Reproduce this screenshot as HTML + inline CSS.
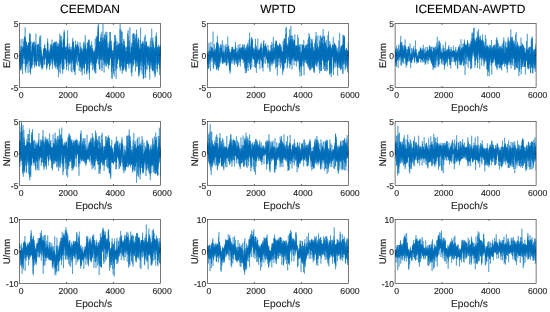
<!DOCTYPE html>
<html><head><meta charset="utf-8"><title>figure</title>
<style>html,body{margin:0;padding:0;background:#fff}body{width:550px;height:312px;overflow:hidden}svg{display:block;font-family:"Liberation Sans",sans-serif}text{stroke:#262626;stroke-width:0.12px;text-rendering:geometricPrecision}</style>
</head><body>
<svg width="550" height="312" viewBox="0 0 550 312">
<rect width="550" height="312" fill="#fff"/>
<svg x="19.5" y="23.5" width="141.0" height="63.9" overflow="hidden"><path transform="scale(0.035259,0.04)" d="M0 724l1 13 1 213 1-133 1 216 1-78 1-8 1-75 1 89 1-59 1-46 1 73 1 71 1-67 1-235 1 257 1-294 1 454 1-38 1-135 1-96 1 296 1-293 1 92 1 74 1 138 1-358 1 149 1-52 1 82 1-230 1 247 1 23 1-56 1-224 1 278 1-155 1 287 1-35 1-114 1 189 1-308 1 105 1-111 1-478 1 667 1-485 1 343 1-350 1 245 1 75 1 151 1-3 1 46 1-31 1-122 1-56 1-45 1 8 1 114 1-299 1 308 1-132 1 162 1-179 1 127 1 15 1-124 1 171 1 123 1-113 1-205 1-76 1 151 1-297 1 353 1-49 1 84 1-287 1 155 1-35 1 21 1 184 1-184 1 47 1-82 1 202 1-325 1 606 1-468 1-150 1 338 1-349 1 56 1-87 1 162 1-101 1 23 1 15 1 10 1-340 1 265 1 73 1 168 1-253 1 107 1-77 1-38 1 42 1-11 1 129 1-197 1 153 1-85 1 85 1 64 1-92 1 17 1-175 1 213 1-326 1 112 1 166 1-101 1 215 1-226 1 69 1-95 1 430 1-256 1-28 1-109 1 226 1-207 1 172 1-96 1-33 1 70 1 121 1-125 1-89 1-63 1 16 1 49 1-65 1-277 1 294 1 149 1-189 1 316 1-256 1-189 1 405 1-299 1 349 1-548 1 412 1-399 1 432 1-219 1-479 1 210 1 411 1 172 1 281 1-829 1 458 1-421 1 378 1 45 1 1 1 80 1-200 1 79 1 255 1-278 1 115 1-263 1 640 1-460 1-14 1-230 1 542 1-527 1 462 1-266 1 13 1-1 1-44 1 47 1 15 1-308 1 237 1-218 1 194 1 37 1 272 1-246 1 16 1-148 1-145 1 294 1 77 1-58 1-11 1-102 1 116 1-59 1 380 1-407 1-28 1-68 1 18 1 42 1 149 1 58 1-240 1-2 1 74 1-47 1 368 1-171 1-190 1-23 1 160 1-26 1-21 1-203 1 188 1 13 1-27 1 29 1-188 1 231 1 34 1-148 1 329 1-280 1 40 1-3 1 60 1-43 1-6 1-14 1 482 1-505 1 198 1-203 1 224 1-80 1-375 1 150 1-22 1 35 1 231 1-216 1-191 1 225 1-115 1 131 1 54 1 9 1 64 1-91 1 98 1-45 1-344 1 242 1 6 1 67 1 2 1-14 1-208 1 295 1-321 1 411 1-42 1-132 1 6 1 22 1 17 1 21 1-331 1 272 1-507 1 508 1-391 1 538 1-325 1 327 1-422 1 179 1-450 1 546 1 103 1 1 1-45 1-187 1 403 1-278 1 435 1-484 1-93 1-45 1-130 1 318 1-521 1 346 1 289 1-209 1 546 1-455 1 335 1-412 1 570 1-549 1-55 1 138 1-27 1-110 1 452 1-394 1 123 1-5 1-43 1-63 1-294 1 351 1 67 1-10 1 237 1-169 1-25 1-65 1 85 1-87 1 66 1-76 1 215 1-178 1 223 1-293 1 68 1-44 1 75 1 9 1-94 1-18 1 51 1-108 1 411 1-339 1 275 1-186 1-131 1-43 1 22 1-67 1 366 1-409 1-63 1 263 1-227 1 79 1 260 1-248 1 25 1-21 1-169 1 252 1-74 1-145 1 1 1-68 1 230 1-30 1-25 1 114 1 256 1-198 1-221 1 213 1-268 1 80 1-27 1-53 1 91 1 159 1-307 1-42 1 108 1-97 1 136 1-76 1 181 1-83 1 43 1 15 1-219 1 264 1-66 1 50 1-27 1 90 1-117 1-67 1-41 1 253 1 35 1-93 1-127 1 172 1 11 1 145 1-15 1 3 1-184 1-19 1 12 1 251 1 46 1-311 1 151 1-45 1-390 1 467 1-52 1 119 1-105 1-3 1 231 1-286 1-214 1 253 1 81 1-31 1-351 1 248 1-177 1 219 1 79 1-17 1-43 1 84 1-64 1 38 1-34 1-38 1-177 1 204 1-16 1-45 1-263 1 254 1-274 1 396 1-90 1-102 1-240 1 265 1 76 1-114 1-39 1 154 1 191 1-254 1-525 1 551 1-276 1 340 1 42 1-136 1 138 1-96 1-18 1 249 1-170 1 0 1 39 1 153 1-164 1 66 1-70 1 163 1-102 1-56 1-7 1-21 1-15 1 28 1 78 1-10 1-121 1 90 1-114 1 140 1-143 1-92 1 59 1 68 1 108 1-106 1-104 1 63 1-84 1 108 1-204 1 106 1-181 1 233 1-92 1-44 1-25 1 91 1-53 1 37 1-44 1 10 1 33 1-28 1 24 1-129 1-41 1 141 1-127 1 12 1 101 1-36 1-110 1 129 1 242 1-140 1 12 1-125 1-114 1 157 1 44 1-37 1-10 1 122 1 14 1-12 1 19 1 57 1-57 1 126 1-188 1 99 1-9 1-39 1 32 1-15 1 236 1-166 1 191 1-303 1 308 1-289 1 9 1-30 1 180 1-94 1-99 1-20 1 81 1-95 1 111 1-81 1-199 1 149 1 33 1-77 1 39 1-35 1 64 1-70 1-282 1 246 1-302 1 530 1-55 1-94 1 49 1-110 1 101 1-110 1 61 1 162 1-23 1-85 1-85 1 170 1-180 1 211 1 4 1-212 1 180 1 147 1-60 1-158 1-136 1 293 1-621 1 429 1-145 1 183 1 55 1-89 1 70 1 248 1-157 1 125 1-15 1-113 1-1 1-116 1 160 1-160 1 337 1-5 1-247 1-28 1 141 1-100 1-20 1 5 1-179 1 201 1 163 1-129 1 98 1-87 1 73 1 61 1-97 1-25 1 53 1 96 1 76 1-181 1 119 1-76 1-105 1 74 1-82 1 87 1 20 1 15 1-178 1 217 1-152 1 71 1 14 1 60 1-150 1-67 1 278 1-182 1 11 1 56 1 104 1-296 1 240 1-115 1 10 1-26 1-36 1-63 1 15 1 78 1-7 1-17 1-152 1 175 1-162 1 130 1-46 1 5 1-7 1-92 1-116 1 197 1-115 1 119 1-50 1 22 1-87 1 42 1-118 1 127 1-53 1-84 1 99 1-52 1 39 1 32 1-25 1 4 1-36 1 33 1 118 1-152 1 91 1-149 1 389 1-329 1 339 1-390 1 99 1-87 1 87 1-53 1 96 1-254 1 129 1-133 1 162 1-49 1 78 1-90 1 252 1-130 1-112 1 35 1 229 1-216 1 171 1-147 1-54 1-39 1 84 1-68 1 97 1 87 1-43 1-120 1 88 1-52 1 21 1 23 1 74 1-127 1 166 1-230 1 64 1 160 1-90 1 127 1-137 1-74 1 119 1-84 1-22 1 104 1 47 1-164 1 122 1 40 1-10 1-88 1 288 1-133 1-59 1-5 1 214 1-80 1 80 1-198 1 191 1-90 1 218 1-251 1 47 1 159 1-316 1 170 1-200 1 333 1-154 1-120 1-35 1 254 1-308 1 195 1 109 1-23 1-177 1 115 1-183 1-84 1 164 1-228 1-165 1 207 1 82 1 8 1-255 1 216 1-339 1 343 1-133 1 50 1 66 1-61 1-152 1 133 1 124 1 206 1-175 1 203 1-3 1-249 1 62 1-61 1 148 1-195 1 130 1 90 1-101 1 162 1-163 1-99 1 174 1-164 1 54 1 85 1 162 1-47 1-132 1 122 1-123 1 80 1 14 1 21 1 43 1-33 1-271 1 158 1-32 1 10 1 71 1 91 1 34 1-202 1 75 1-27 1-114 1 215 1-66 1-1 1 177 1-282 1 366 1-238 1 72 1-72 1 145 1-210 1-62 1 89 1-43 1-20 1-83 1 109 1-200 1 213 1-26 1 49 1-119 1 130 1-28 1-10 1 210 1-291 1-226 1 338 1-38 1 20 1 8 1-44 1-36 1 61 1-93 1 111 1-200 1 204 1-368 1 367 1-55 1-59 1 110 1-11 1 100 1-143 1-194 1 186 1 192 1-127 1-1 1-81 1-50 1 133 1-23 1-125 1-140 1 167 1-159 1 253 1-20 1-142 1 12 1 136 1-317 1 295 1-104 1 95 1-160 1 147 1-148 1 113 1-48 1 50 1-355 1 225 1-30 1 152 1-197 1 202 1-74 1-36 1 277 1-135 1 202 1-228 1 378 1-408 1 171 1-101 1 106 1-80 1-52 1 168 1-250 1 57 1 51 1-58 1 47 1 240 1-300 1 195 1-174 1 139 1-17 1-208 1 43 1 118 1-230 1-58 1 91 1-83 1 174 1 61 1-75 1-66 1 137 1-174 1 45 1 72 1-78 1-150 1 50 1 305 1-26 1-8 1 90 1-428 1 381 1-156 1 15 1-111 1 285 1-396 1 254 1 27 1-31 1 208 1-139 1-131 1 98 1-13 1 12 1 26 1-95 1-145 1 31 1 369 1-512 1 613 1-267 1 12 1 31 1 177 1-249 1-59 1 132 1-76 1-73 1 195 1-180 1 64 1-270 1 503 1-538 1 521 1-133 1-78 1 110 1 74 1 162 1-377 1 120 1 195 1-568 1 361 1-88 1 229 1-126 1 115 1-305 1 157 1-376 1 434 1-7 1 87 1-45 1-93 1 36 1 119 1-468 1 338 1-135 1 159 1-124 1 70 1-394 1 404 1-58 1 155 1-346 1 261 1 16 1-15 1-164 1 207 1-162 1 107 1-256 1 225 1 125 1-30 1 172 1-160 1-80 1 43 1-320 1 305 1-304 1 262 1 68 1-60 1 296 1-397 1 421 1-427 1 244 1-98 1 192 1-264 1-12 1 78 1 9 1-47 1-15 1 29 1 161 1-253 1 25 1-211 1 162 1-243 1 120 1 174 1 154 1-410 1-23 1 193 1 65 1-35 1 67 1-36 1-170 1 10 1 339 1-91 1 503 1-547 1 99 1-247 1 131 1-136 1 178 1-70 1 314 1-273 1 165 1-268 1 42 1 161 1-356 1 336 1 96 1-80 1 328 1-317 1-236 1 96 1 226 1-335 1 441 1-297 1-8 1-192 1 32 1 55 1-86 1 172 1-213 1 380 1-272 1 220 1-182 1 158 1-607 1 604 1-373 1 419 1-489 1 446 1-54 1 234 1-377 1 274 1 5 1-10 1-228 1 295 1 260 1-181 1-68 1-42 1-34 1 75 1-232 1 203 1-670 1 707 1-474 1 436 1-106 1 29 1-89 1 200 1-231 1 187 1-180 1-14 1 122 1 17 1 14 1-18 1-31 1-144 1-302 1 259 1-90 1 183 1-338 1 401 1-222 1 32 1-168 1 185 1-83 1 294 1-206 1-37 1-329 1 358 1 94 1-180 1 160 1 36 1 86 1-63 1-191 1 299 1-207 1 21 1 383 1-149 1-257 1-2 1 196 1 98 1-373 1 228 1 275 1-343 1 59 1 133 1-323 1 43 1 459 1-349 1 451 1-464 1 25 1-151 1 167 1 82 1 224 1-540 1 201 1-180 1 350 1 59 1 128 1-436 1-241 1 38 1 297 1-265 1-140 1 249 1 115 1-17 1 331 1-90 1-338 1 76 1-84 1 172 1-417 1 509 1-548 1 293 1 377 1-147 1-164 1-63 1 478 1-554 1 76 1-36 1-160 1 187 1-435 1 494 1-547 1 520 1-265 1 448 1-646 1 447 1-185 1 139 1-48 1 175 1-228 1 84 1 100 1-62 1-61 1 59 1 27 1 162 1-13 1-1 1-62 1 83 1-73 1 16 1 122 1-156 1-3 1 7 1-55 1 188 1-14 1-259 1 274 1-218 1 209 1-3 1-93 1-17 1 35 1-128 1 25 1-90 1 51 1-65 1 61 1 30 1 10 1 101 1 103 1-93 1-118 1 138 1 185 1-280 1-162 1 211 1 99 1-97 1 176 1-117 1-112 1 42 1-7 1-66 1 470 1-360 1 10 1-3 1 112 1-160 1 295 1-247 1 269 1-396 1 309 1-183 1-118 1 12 1 84 1-99 1 26 1 14 1 49 1-51 1-122 1 134 1-214 1 196 1-125 1 80 1 17 1-59 1-268 1 265 1-144 1 267 1-586 1 622 1-120 1 109 1-86 1-94 1 341 1-185 1 50 1-85 1-99 1 203 1-238 1 147 1-79 1 109 1-33 1 70 1 115 1-76 1-30 1-124 1 280 1-274 1 484 1-318 1-24 1-83 1 197 1 31 1-265 1 129 1 5 1-165 1 98 1-43 1 228 1-260 1 219 1-253 1 125 1 201 1-109 1-67 1-327 1 355 1-106 1 245 1-80 1-231 1 243 1-275 1 386 1-324 1 278 1-282 1 207 1-225 1 149 1-184 1 189 1-45 1 50 1-134 1 58 1-18 1-181 1 90 1 47 1-72 1 144 1-28 1 96 1-199 1 57 1 41 1-5 1-93 1 260 1-167 1-8 1 2 1 134 1-157 1 104 1 27 1 74 1-89 1-24 1 73 1 127 1-286 1 9 1 77 1 171 1-250 1 25 1 97 1-83 1 15 1 421 1-423 1 52 1-165 1 3 1 158 1-239 1 93 1 81 1 52 1-68 1-52 1 75 1 39 1-104 1 37 1 249 1-228 1 31 1-2 1 11 1 16 1-44 1-54 1 504 1-485 1 213 1-179 1-37 1 95 1-193 1 193 1-71 1 53 1-83 1-47 1-10 1 125 1-85 1 27 1 183 1-113 1-58 1 37 1-117 1 138 1-449 1 531 1-360 1 347 1-393 1 166 1-190 1 386 1-413 1 297 1-88 1 189 1-296 1 400 1 78 1-268 1-277 1 279 1 115 1 61 1-213 1 66 1 230 1-148 1-84 1 18 1 346 1-330 1 361 1-328 1 164 1-241 1 239 1-179 1-176 1 63 1-74 1 248 1-169 1 218 1-282 1 131 1 176 1-77 1 281 1-393 1 443 1-329 1 205 1-352 1 439 1-316 1 353 1-310 1-17 1-141 1-152 1 326 1-147 1 191 1 194 1-263 1 34 1-18 1-249 1 262 1 157 1-165 1 373 1-361 1-242 1 171 1-60 1 60 1 22 1-269 1-177 1 408 1-97 1-49 1 58 1-46 1-154 1 162 1-82 1 149 1-208 1 104 1 112 1-28 1 258 1-493 1 267 1-7 1 181 1-163 1-36 1-211 1 408 1-137 1-8 1-63 1 57 1-232 1 92 1 159 1-174 1 223 1-118 1 64 1-70 1 93 1 0 1-37 1-35 1 4 1-177 1 192 1-28 1-50 1-198 1 226 1-146 1 157 1 11 1-107 1 88 1-60 1 17 1-88 1 114 1-123 1 116 1-152 1 479 1-465 1-9 1 91 1-67 1 117 1-208 1 105 1-164 1 144 1 193 1-231 1 79 1-108 1 127 1 29 1-42 1-47 1 80 1-42 1-6 1-11 1 29 1 67 1 77 1-56 1 197 1-290 1-56 1 220 1 141 1-226 1 34 1 8 1-95 1 114 1-54 1 137 1 41 1-121 1-149 1 183 1-79 1 156 1-124 1 62 1-83 1 220 1-188 1 100 1 303 1-305 1-41 1 18 1-11 1 59 1-131 1 104 1-9 1-37 1-21 1 11 1 30 1 0 1 1 1-27 1 62 1-35 1 218 1-311 1 287 1-257 1 234 1-385 1-176 1 156 1 69 1 30 1 142 1-234 1 23 1 180 1-107 1 49 1 160 1-309 1 140 1-36 1 193 1 171 1-230 1 236 1-431 1-97 1 150 1-17 1 224 1-170 1 460 1-278 1-114 1-54 1 41 1-23 1 44 1-175 1 144 1 167 1-232 1-76 1 82 1 46 1-103 1 61 1 19 1 184 1-73 1-9 1-99 1 53 1-215 1 208 1 275 1-254 1-17 1-26 1 343 1-160 1 171 1-335 1 266 1-341 1 445 1-360 1 476 1-488 1 25 1 135 1-158 1-48 1-28 1 142 1-163 1 179 1-184 1 198 1-135 1-45 1 11 1-10 1-4 1 33 1-8 1 131 1-148 1 10 1-98 1 33 1 130 1-62 1-104 1 289 1 96 1-351 1 44 1 129 1-357 1 408 1-111 1-45 1 17 1-66 1 33 1-26 1 29 1 299 1-104 1-166 1 44 1-105 1 419 1-489 1 179 1 26 1-382 1 320 1 89 1-227 1 462 1-270 1 167 1-255 1 267 1 125 1-280 1 221 1-182 1-133 1 126 1 382 1-613 1-28 1-3 1 321 1-398 1 274 1 123 1 104 1-118 1-109 1 117 1-86 1 163 1-48 1-219 1-57 1-7 1 270 1-298 1 298 1-659 1 653 1-14 1-131 1 105 1-55 1-346 1 506 1-409 1 193 1-20 1 186 1 1 1-203 1 121 1-166 1 110 1 12 1-234 1 312 1-74 1-84 1-121 1 129 1 4 1 60 1-128 1 164 1-1 1-140 1 62 1 60 1-5 1-158 1 73 1 46 1-25 1 458 1-350 1 85 1-173 1 41 1 41 1 59 1-103 1 343 1-435 1 536 1-397 1-151 1 472 1-468 1 123 1-166 1-54 1 57 1-2 1 183 1-403 1 478 1-128 1-163 1-21 1 419 1-303 1-109 1-149 1 263 1 40 1 312 1-301 1-39 1-73 1 314 1 139 1-444 1 170 1-95 1-64 1 21 1-101 1 201 1-215 1 55 1-88 1 108 1 129 1 14 1-422 1 355 1-13 1-65 1 186 1 145 1-104 1-237 1 63 1-210 1 200 1-228 1-13 1 277 1-185 1-174 1 265 1-230 1 217 1-190 1-80 1 414 1-171 1 88 1-13 1-67 1 607 1-541 1 455 1-450 1 497 1-574 1 758 1-489 1-91 1 208 1-216 1 9 1 55 1-14 1 131 1-91 1-121 1-176 1 36 1-9 1 118 1 204 1-284 1 49 1 113 1-20 1-138 1-142 1 105 1 101 1-163 1 313 1-195 1-118 1 101 1 65 1-45 1 101 1-82 1 109 1-191 1 7 1 119 1-107 1 164 1-136 1 228 1-183 1 83 1 10 1 170 1-236 1 298 1-232 1 152 1-141 1-92 1 192 1-220 1-84 1 86 1-38 1 38 1 81 1-135 1-6 1 192 1-88 1-304 1 243 1-39 1 20 1-51 1 77 1 17 1 52 1-152 1 46 1 126 1-253 1 234 1-6 1 31 1-79 1 97 1-138 1 54 1-97 1 66 1 150 1-84 1 79 1-13 1 1 1 45 1-4 1 304 1-372 1 125 1-120 1 84 1-100 1 153 1 48 1 54 1-264 1 113 1-24 1 18 1 29 1-83 1 133 1 33 1-129 1 114 1-149 1 79 1 11 1-95 1 174 1-256 1 72 1 54 1-92 1 70 1-23 1-75 1 216 1-284 1 130 1 8 1 303 1-314 1 89 1-135 1 140 1-210 1 47 1-99 1 252 1 102 1-245 1-57 1 36 1 169 1 246 1-320 1-114 1 108 1-71 1 65 1 7 1 102 1-123 1 61 1 188 1-44 1 67 1-153 1 49 1 231 1-328 1 213 1 9 1-217 1 297 1-353 1 32 1-50 1 233 1-662 1 862 1-384 1-19 1 109 1-105 1 24 1 239 1-518 1 351 1-268 1 216 1-53 1 104 1-45 1-26 1-78 1 66 1 393 1-344 1 96 1-68 1-171 1 110 1 46 1-122 1 75 1-200 1 23 1-51 1-323 1 335 1 141 1-176 1 378 1-224 1-435 1 465 1-222 1 58 1-105 1 64 1-4 1 93 1 287 1-87 1-53 1-91 1 153 1-132 1-72 1-70 1-167 1 270 1-69 1-16 1 6 1 127 1-288 1 413 1-548 1 502 1-206 1 244 1-317 1-211 1 400 1-41 1-19 1-129 1 102 1-207 1 1 1 203 1-388 1 353 1-116 1 314 1-782 1 609 1-86 1-358 1 171 1 414 1-366 1-327 1 423 1 105 1-127 1 160 1-232 1 133 1 19 1-369 1-214 1 552 1 110 1 73 1 275 1-558 1 167 1-162 1-8 1 51 1 137 1 32 1 50 1 37 1-326 1 363 1 95 1-71 1-134 1-174 1-51 1 162 1 471 1-400 1 40 1-17 1-265 1 162 1 169 1-232 1 322 1-57 1-67 1-175 1 561 1-457 1 476 1-331 1-133 1 137 1-87 1 73 1-141 1 168 1-183 1 62 1-12 1-52 1-70 1 276 1-202 1 149 1-87 1 60 1 102 1-153 1 185 1-215 1 120 1-148 1-132 1 136 1-205 1 357 1-469 1 409 1-430 1 318 1-395 1 616 1-197 1 160 1-172 1 161 1-216 1 239 1-101 1 48 1-245 1 85 1-40 1 191 1-56 1-90 1-112 1 137 1 9 1 226 1-403 1 74 1-118 1 360 1-617 1 458 1-39 1-27 1 595 1-492 1 414 1-479 1-266 1 328 1-108 1-1 1 320 1-168 1-160 1 99 1 13 1 140 1-409 1 208 1-171 1 71 1 121 1-29 1 4 1-157 1 331 1-211 1 145 1-203 1 34 1-85 1 1 1-31 1-443 1 667 1-121 1 103 1-314 1 119 1 131 1-95 1-8 1 135 1-127 1 121 1 277 1-176 1-87 1-33 1 78 1 17 1 238 1-258 1-272 1 368 1 43 1-56 1 283 1-484 1 244 1-126 1-197 1 312 1-45 1-56 1 537 1-472 1 148 1-167 1-317 1 207 1-275 1 272 1 165 1-215 1 55 1-6 1 1 1 329 1-653 1 320 1-206 1 325 1-480 1 555 1-301 1 270 1-379 1 604 1-553 1 479 1 23 1-281 1 232 1 76 1-273 1 144 1-142 1 327 1-192 1-159 1 120 1-183 1-4 1 265 1-248 1 120 1 76 1-182 1 111 1-122 1-238 1 176 1-373 1 675 1-348 1 176 1-332 1 375 1-137 1 286 1 186 1-599 1-53 1 142 1 3 1 188 1-302 1 117 1-280 1 388 1 365 1-253 1-311 1-199 1 298 1 248 1-172 1 60 1-19 1-206 1 197 1-44 1 105 1 183 1-731 1 581 1-7 1-331 1 296 1 201 1-33 1 21 1-113 1 131 1-108 1-206 1 203 1 94 1-366 1 193 1 100 1 150 1-109 1-209 1 194 1-183 1-11 1 98 1 34 1-135 1-33 1 168 1 141 1-141 1 137 1-316 1 113 1-76 1-10 1-50 1 375 1-151 1 135 1-115 1 266 1-296 1 176 1-347 1 45 1 333 1-358 1 163 1-125 1 173 1-69 1-161 1 15 1-86 1 451 1-427 1 137 1-30 1-236 1 201 1-49 1 16 1-45 1 327 1-265 1 12 1-245 1 513 1-112 1 75 1-102 1-233 1 197 1-100 1 352 1-163 1-194 1-117 1 180 1-150 1-382 1 368 1 102 1-132 1 212 1-154 1 142 1 85 1-201 1 27 1-29 1 169 1-116 1-57 1 182 1 5 1-176 1-39 1-140 1 430 1-680 1 580 1-11 1-36 1 80 1-95 1-237 1 181 1-247 1 246 1 37 1 13 1-80 1 52 1 84 1 9 1 28 1 69 1-82 1 51 1-243 1 162 1-340 1 268 1-154 1 273 1 399 1-298 1-123 1-38 1 148 1-232 1 292 1-42 1-189 1 177 1-238 1 99 1-22 1 156 1 91 1-325 1 681 1-479 1 262 1-238 1 491 1-435 1-4 1-67 1-85 1 59 1-187 1 270 1-239 1 272 1-67 1-50 1-110 1 129 1-59 1 93 1-122 1 63 1-116 1 320 1-72 1 28 1-102 1 19 1-115 1 270 1-185 1 168 1-260 1 95 1-153 1 215 1-302 1 355 1-129 1 46 1 23 1 27 1 98 1 115 1-46 1-62 1-136 1-59 1 364 1-448 1 189 1-223 1 126 1-120 1 101 1-71 1 45 1-100 1-286 1 238 1 97 1-29 1 289 1-451 1 253 1-196 1 650 1-631 1 30 1 192 1-231 1 3 1 151 1-545 1 353 1 27 1-69 1 128 1 77 1-75 1-60 1-35 1-181 1 45 1 254 1-95 1 92 1-82 1-86 1 167 1-213 1 188 1-172 1-46 1 105 1-161 1 185 1-146 1 149 1-352 1 600 1-434 1 219 1-30 1 543 1-540 1 44 1 61 1-113 1-57 1 35 1-22 1-227 1 364 1-92 1-69 1 115 1 71 1-46 1 76 1 598 1-843 1 193 1-57 1 152 1-83 1 29 1 36 1 161 1-161 1 259 1-145 1-247 1 211 1-184 1 228 1 191 1-272 1 275 1-474 1 178 1 44 1-229 1 136 1-176 1 108 1-48 1 6 1-231 1 296 1-28 1 14 1-48 1 338 1-473 1 187 1 74 1 170 1-141 1 53 1 75 1-127 1 30 1-92 1-32 1 121 1-108 1 129 1-345 1 351 1-160 1-42 1-8 1 82 1 75 1-169 1-51 1 262 1-334 1 263 1-136 1 74 1-34 1-9 1 89 1-34 1 55 1-76 1-29 1 63 1 147 1-193 1 84 1-219 1-85 1 148 1 124 1-12 1 32 1-31 1 61 1-324 1 154 1 141 1-303 1 302 1-257 1 109 1-86 1-15 1 267 1-41 1 117 1-127 1 82 1-177 1 282 1-74 1-32 1-59 1 29 1-129 1 397 1-193 1 221 1-452 1 236 1-133 1-43 1 7 1-580 1 746 1-879 1 759 1-99 1 198 1 322 1-283 1-17 1-54 1-68 1-59 1 421 1-515 1 317 1-313 1 303 1 41 1-452 1 226 1 86 1 147 1-73 1-240 1-223 1 252 1 111 1 140 1-778 1 574 1 12 1 27 1 133 1-255 1 420 1-277 1 28 1 122 1-473 1 449 1 15 1-298 1 273 1-164 1 21 1 8 1-569 1 438 1-79 1 490 1-196 1-162 1-49 1 110 1 146 1-152 1 117 1 6 1-660 1 516 1 28 1 502 1-435 1-42 1 306 1-399 1 52 1-35 1-215 1 223 1 20 1-91 1 70 1 468 1-351 1 308 1-311 1-191 1 327 1-169 1-93 1 484 1-264 1-212 1 364 1-170 1-263 1 66 1-2 1-155 1 403 1-394 1 120 1 442 1-432 1 313 1 156 1-543 1 88 1 106 1-127 1-61 1 82 1 72 1-209 1-34 1 320 1-465 1 711 1-656 1 711 1-391 1-2 1 72 1-113 1-281 1 532 1-87 1-30 1-33 1-60 1-91 1 217 1-290 1 156 1-217 1 360 1-312 1 258 1 44 1-249 1 154 1 189 1-71 1-223 1 174 1 230 1-188 1-1 1-170 1 121 1 16 1-298 1 242 1 24 1-13 1 14 1-55 1 130 1-16 1-186 1-103 1 328 1-136 1 85 1-12 1-18 1 34 1-15 1 68 1 203 1-246 1 260 1-208 1-259 1 133 1-51 1 220 1 188 1-214 1 44 1-171 1 378 1-250 1-270 1 289 1 42 1-1 1-335 1 281 1-20 1 34 1-48 1-147 1 4 1 187 1-385 1 347 1-53 1 73 1-184 1 151 1-61 1 17 1-177 1 149 1-52 1 99 1-207 1 197 1 96 1-291 1 64 1-50 1 28 1-186 1 129 1 79 1-193 1 127 1 60 1-128 1-388 1 371 1 403 1-431 1 368 1-249 1 306 1-290 1 20 1 3 1 36 1 54 1-87 1-49 1-253 1 266 1 283 1-331 1-497 1 753 1-610 1 601 1-53 1 96 1-178 1 197 1-196 1 237 1-170 1-143 1 349 1-111 1-44 1 73 1-107 1 17 1 43 1-35 1-119 1-202 1 328 1-30 1 266 1-240 1-24 1-57 1 66 1-46 1 4 1 106 1-52 1-215 1 182 1-430 1 448 1-285 1 267 1 7 1 67 1-51 1-130 1 169 1 30 1 16 1-28 1-165 1 215 1-73 1-815 1 769 1 151 1-178 1 45 1-7 1 18 1 96 1-189 1-76 1 191 1-81 1 80 1 42 1-225 1 40 1 41 1 49 1-14 1-53 1-3 1 113 1-140 1 61 1 85 1-88 1-227 1 370 1-168 1 75 1 18 1 51 1 84 1-137 1-2 1 88 1 262 1-238 1-132 1-40 1-343 1 296 1 65 1-6 1-219 1 269 1-331 1 553 1-333 1 311 1-127 1-92 1 456 1-339 1 45 1-284 1-23 1 31 1 52 1-64 1 461 1-420 1-154 1 322 1-237 1 72 1-19 1-39 1 162 1 27 1-4 1-130 1-515 1 680 1-81 1-250 1 165 1-30 1-274 1 261 1-54 1 136 1-44 1-96 1-14 1 104 1-100 1 180 1 156 1-380 1 118 1 205 1 72 1-409 1-14 1-13 1 273 1-72 1 286 1-10 1-514 1 447 1-579 1 286 1-130 1 211 1-542 1 102 1 5 1-81 1 142 1 369 1-311 1-223 1 213 1 309 1-117 1-206 1 175 1 47 1-30 1-221 1-39 1-52 1 324 1 134 1-195 1 256 1-93 1-208 1-86 1 233 1 221 1-163 1 133 1-227 1 17 1-36 1 30 1-149 1 240 1 162 1-153 1-292 1-73 1 373 1 40 1-92 1 303 1-553 1-193 1 556 1 124 1-19 1-337 1-38 1 71 1 24 1 539 1-553 1-30 1-243 1 35 1 194 1 283 1-63 1 164 1-380 1 11 1 251 1-101 1-145 1 150 1-6 1 83 1-69 1-86 1 189 1-42 1-30 1 133 1-269 1-196 1 356 1-140 1 136 1-510 1 437 1-601 1 475 1-86 1 255 1-543 1 693 1-123 1-213 1 475 1-391 1 141 1 85 1 152 1-237 1 27 1-223 1 95 1 186 1-156 1 176 1-82 1-304 1 222 1 115 1-291 1 322 1-403 1 24 1 226 1-175 1 286 1-325 1 117 1-162 1 119 1-33 1 423 1-176 1-91 1 117 1-421 1 387 1 54 1 65 1-557 1 414 1 256 1-401 1 184 1-321 1-10 1 44 1-171 1 183 1-230 1 242 1 738 1-373 1 294 1-511 1-211 1 296 1 85 1-39 1-54 1 89 1 247 1-86 1-453 1 431 1-461 1 233 1-179 1 226 1 312 1-478 1-46 1 273 1 376 1-615 1-31 1 212 1-3 1-198 1 91 1-55 1 346 1-366 1 230 1-121 1 431 1-473 1 111 1-10 1-10 1-48 1 10 1-70 1-322 1 300 1 72 1-87 1 84 1-78 1 225 1-266 1 137 1-53 1-40 1-69 1 354 1-316 1 254 1-85 1-733 1 730 1 2 1-161 1 107 1 71 1 102 1-252 1 228 1-265 1 394 1-251 1 359 1-497 1 284 1-235 1 82 1 35 1-141 1 150 1-323 1 331 1-119 1 24 1 138 1-122 1 91 1-33 1-46 1 81 1-251 1-16 1 15 1 102 1-211 1-6 1 249 1-101 1-93 1 118 1-154 1 302 1 448 1-768 1 78 1 92 1 61 1-14 1-95 1 24 1 309 1-277 1 23 1-80 1-189 1 222 1-59 1 56 1-49 1 208 1 235 1-267 1-60 1 17 1-37 1-15 1 410 1-340 1-38 1-48 1 92 1 175 1-445 1 284 1-292 1 503 1-239 1 155 1 486 1-393 1-214 1 135 1 413 1-443 1-37 1 245 1-433 1 177 1 532 1-413 1 394 1-160 1-322 1 109 1-80 1 243 1-364 1 60 1-396 1 422 1-117 1 70 1-269 1 242 1-32 1 285 1-327 1 320 1-704 1 646 1-212 1-12 1-103 1 284 1-191 1 194 1-315 1 265 1-329 1 177 1-97 1 227 1-43 1-94 1 58 1-16 1-9 1 166 1-38 1 127 1-123 1 25 1-373 1 385 1-378 1 262 1-537 1 753 1 223 1-378 1 9 1-59 1 534 1-496 1 340 1-442 1 371 1-384 1-254 1 272 1 5 1-50 1 420 1-435 1 126 1-49 1-78 1 10 1-32 1 22 1-231 1 314 1-220 1 224 1-122 1-29 1 18 1 2 1-204 1 207 1-224 1 381 1-94 1 116 1-309 1 215 1-96 1 27 1 119 1-124 1 49 1-14 1-46 1 140 1-145 1 155 1 146 1-223 1 79 1-125 1 461 1-455 1 248 1-235 1 284 1-191 1 129 1-358 1 450 1-131 1-109 1-68 1-141 1 214 1 115 1 2 1-142 1-134 1 74 1-107 1 175 1 94 1 32 1-311 1 155 1 121 1-65 1 54 1-263 1 42 1 314 1-241 1 85 1 40 1-95 1 97 1 207 1-219 1-197 1 142 1-4 1-135 1 134 1-64 1-11 1 60 1-198 1 194 1 181 1-222 1-92 1 141 1-154 1 315 1-44 1-25 1 269 1-214 1 159 1-292 1 222 1-192 1 43 1-29 1 297 1-326 1 423 1-225 1 146 1-315 1 596 1-462 1 181 1-361 1 144 1 14 1 40 1-64 1-221 1 213 1 87 1-37 1-58 1-52 1-228 1 220 1-380 1 340 1-44 1 34 1 137 1-180 1 242 1-357 1 337 1-342 1 168 1-174 1 150 1-43 1 32 1 100 1-476 1 531 1-58 1-188 1 405 1-205 1 64 1-28 1 104 1-289 1 196 1-189 1 251 1-370 1 176 1 115 1-30 1-103 1 90 1 21 1-74 1-21 1-92 1-39 1-502 1 693 1 210 1-318 1 224 1-135 1 327 1-250 1 34 1-183 1-61 1-13 1 340 1-294 1 398 1-401 1 468 1-318 1 80 1-7 1 223 1-227 1-58 1 24 1 310 1-243 1-315 1 215 1-431 1 551 1-235 1 91 1 338 1-281 1-535 1 565 1-449 1 342 1-186 1 164 1 258 1-193 1 296 1-223 1-174 1 191 1-72 1-42 1 364 1-337 1-296 1 326 1-284 1 235 1 4 1 120 1-430 1 271 1-108 1 192 1 6 1-5 1-201 1 156 1-68 1 10 1 189 1-191 1-165 1 281 1 88 1-214 1-108 1 141 1 447 1-346 1 163 1-195 1 23 1 16 1-128 1 83 1 6 1 61 1-48 1-31 1-175 1 240 1-304 1 312 1 312 1-335 1 442 1-478 1-49 1 73 1 110 1-130 1-288 1 302 1 412 1-522 1-11 1-17 1 309 1-217 1 185 1-279 1-19 1 118 1-157 1 124 1-503 1 474 1-330 1 295 1 195 1-87 1-267 1 174 1-164 1 56 1 156 1 63 1-18 1-62 1-103 1 21 1 77 1-118 1-60 1 35 1-418 1 574 1-46 1 50 1-475 1 444 1-429 1 380 1 54 1-148 1-81 1 339 1-53 1-268 1 408 1-309 1 461 1-221 1 114 1-47 1-110 1 35 1-4 1 113 1 139 1-207 1 280 1-341 1 30 1 77 1-7 1-14 1-243 1 181 1 17 1-333 1 154 1 145 1 18 1-308 1 245 1-127 1 144 1 78 1-12 1-254 1 131 1 67 1 159 1-111 1 26 1-70 1 32 1-149 1 16 1 116 1-187 1 167 1-16 1 94 1-207 1-176 1-34 1 336 1-94 1-153 1-29 1 75 1 171 1-26 1 177 1-317 1 335 1-88 1-15 1 24 1-2 1-119 1 241 1-218 1-183 1 61 1 153 1 58 1-19 1-266 1 206 1 48 1 118 1-82 1 193 1-483 1 657 1-614 1 166 1 58 1 232 1-357 1 283 1-475 1 173 1-137 1 87 1 74 1-37 1 47 1-132 1-79 1 235 1-267 1 389 1-352 1 94 1-81 1-55 1 66 1 132 1 200" fill="none" stroke="#0072BD" stroke-width="0.45" stroke-linejoin="round" vector-effect="non-scaling-stroke"/></svg>
<rect x="19.5" y="23.5" width="141.0" height="63.9" fill="none" stroke="#262626" stroke-width="0.62"/>
<path d="M66.50,87.4v-1.4M66.50,23.5v1.4M113.50,87.4v-1.4M113.50,23.5v1.4M19.5,55.45h1.4M160.5,55.45h-1.4" stroke="#262626" stroke-width="0.7" fill="none"/>
<text x="21.10" y="98.40" font-size="8.7" text-anchor="middle" fill="#262626">0</text>
<text x="68.10" y="98.40" font-size="8.7" text-anchor="middle" fill="#262626">2000</text>
<text x="115.10" y="98.40" font-size="8.7" text-anchor="middle" fill="#262626">4000</text>
<text x="162.10" y="98.40" font-size="8.7" text-anchor="middle" fill="#262626">6000</text>
<text x="18.40" y="26.55" font-size="8.5" text-anchor="end" fill="#262626">5</text>
<text x="18.40" y="58.70" font-size="8.5" text-anchor="end" fill="#262626">0</text>
<text x="18.40" y="91.15" font-size="8.5" text-anchor="end" fill="#262626">-5</text>
<text x="75.40" y="110.90" font-size="10.2" fill="#262626" style="stroke-width:0.1px">Epoch/s</text>
<text transform="translate(10.30,55.55) rotate(-90)" font-size="9.6" text-anchor="middle" fill="#262626" style="stroke-width:0.2px">E/mm</text>
<text x="90.00" y="13.2" font-size="12" text-anchor="middle" fill="#000" style="stroke:#000;stroke-width:0.1px">CEEMDAN</text>
<svg x="207.4" y="23.5" width="141.0" height="63.9" overflow="hidden"><path transform="scale(0.035259,0.04)" d="M0 753l1 127 1 5 1 60 1-26 1-107 1 18 1 137 1-52 1 117 1-191 1 169 1-98 1-39 1-182 1 220 1-210 1 212 1 207 1-229 1 7 1 203 1-269 1 181 1-45 1-83 1-88 1 119 1-47 1 20 1-100 1 205 1-76 1 17 1-136 1 111 1-89 1 141 1 177 1-165 1 124 1-82 1-22 1-101 1-411 1 246 1-9 1 248 1-259 1 94 1 22 1-43 1 175 1 48 1-14 1-230 1 38 1-54 1 95 1 14 1-186 1 245 1-88 1-105 1 106 1-117 1 166 1 35 1-30 1 64 1-68 1-45 1-118 1 73 1-207 1 300 1 31 1-44 1-100 1 102 1-87 1 128 1 14 1-206 1 129 1-147 1 170 1-80 1 402 1-340 1-144 1 62 1-32 1 17 1-24 1 32 1-23 1 31 1-26 1-132 1-151 1 328 1-39 1-39 1-24 1 197 1-126 1-7 1-29 1 128 1-75 1 24 1-46 1-41 1 64 1-109 1 91 1-32 1-66 1-13 1-56 1 33 1 90 1 117 1-49 1-186 1 104 1 162 1 107 1-351 1 76 1 102 1-34 1-78 1 63 1 28 1-125 1-8 1 162 1-37 1-100 1 227 1-133 1 47 1-119 1 151 1-75 1 13 1-73 1-82 1-10 1 146 1 59 1-79 1 93 1-4 1-50 1 36 1-45 1 30 1-594 1 652 1-84 1-39 1 362 1-276 1-8 1-132 1 185 1-82 1 25 1 29 1-94 1 14 1 175 1-65 1-30 1-88 1 388 1-411 1 37 1 31 1 140 1-120 1-42 1-58 1 12 1 39 1 14 1 71 1-65 1 77 1-111 1-41 1-5 1-54 1 344 1-230 1 15 1 112 1-375 1 398 1-109 1 85 1-111 1 149 1-134 1-55 1 267 1-294 1-13 1 30 1-6 1 41 1 39 1-21 1-86 1 147 1-119 1 139 1 178 1-286 1-32 1 133 1-41 1-45 1 5 1 57 1-36 1 116 1-118 1-64 1-92 1 123 1 28 1 7 1 67 1-56 1-30 1 183 1-185 1-70 1 62 1 22 1 287 1-282 1 54 1 100 1-135 1 52 1-245 1 155 1-171 1 317 1-84 1-111 1-253 1 473 1-233 1-121 1 158 1 193 1-137 1 306 1-299 1 355 1-635 1 594 1-356 1 159 1-149 1-90 1-82 1-129 1 52 1 47 1 314 1 247 1-355 1-94 1 94 1-252 1-28 1 103 1-303 1 771 1-410 1 236 1-209 1 214 1-299 1 439 1-583 1 113 1 214 1-139 1 81 1 127 1-5 1 60 1 163 1-85 1-232 1-243 1 121 1 54 1-187 1 8 1 405 1-67 1 151 1-26 1-149 1-67 1 419 1-363 1-117 1 31 1-18 1 123 1 266 1-191 1-129 1 148 1-101 1 109 1-366 1 254 1 18 1 39 1 55 1 5 1-71 1 12 1-25 1-11 1 24 1 48 1-20 1 116 1 78 1-242 1-16 1 2 1 10 1-46 1-56 1 214 1-146 1 209 1-128 1-171 1 210 1-172 1-14 1 25 1-19 1-61 1 221 1-105 1-203 1 246 1-238 1 181 1 38 1 5 1-32 1-132 1-68 1 66 1 105 1 76 1-320 1 145 1 43 1-77 1 33 1-36 1 350 1-365 1 60 1-26 1-42 1 65 1-16 1 129 1-82 1-67 1-130 1 137 1-20 1-9 1 57 1-34 1 101 1-32 1-7 1 26 1-172 1 54 1 113 1 19 1-24 1 73 1-52 1 5 1-114 1 175 1-19 1-102 1 4 1 139 1-58 1-51 1 139 1-132 1 33 1 113 1-125 1 19 1 185 1-173 1 41 1-59 1-349 1 384 1 67 1 113 1-146 1 89 1 86 1-133 1-100 1 206 1-82 1 67 1-231 1 143 1-68 1 128 1-21 1 25 1-150 1 93 1-32 1 94 1-63 1-22 1-72 1 30 1 44 1-66 1-69 1 113 1-91 1 138 1-69 1-67 1-69 1 182 1-4 1 51 1-200 1 69 1 218 1-202 1-271 1 398 1-193 1 40 1 69 1 79 1-51 1 1 1-80 1 118 1-65 1 80 1-64 1 28 1-71 1-6 1 64 1-70 1 86 1 66 1-108 1-74 1 17 1 180 1-83 1-41 1-15 1-27 1 21 1 132 1-179 1 78 1-152 1 146 1 66 1-144 1 6 1 30 1-50 1-11 1-71 1 196 1-309 1 105 1 50 1 35 1-77 1 37 1-74 1 47 1 61 1-117 1 106 1-62 1 39 1-50 1-22 1 9 1-15 1 44 1 26 1 280 1-476 1 181 1 144 1 141 1-224 1-32 1-133 1 176 1-53 1 331 1-292 1 310 1-275 1-24 1 5 1 118 1-70 1 13 1-74 1 85 1 17 1-38 1-2 1-7 1 231 1-281 1 219 1-143 1 168 1-197 1-75 1 25 1 107 1 31 1-141 1 17 1 37 1-51 1 25 1 105 1-177 1 21 1 28 1-79 1-1 1-70 1 171 1-1 1-207 1 52 1-295 1 341 1 105 1 19 1-61 1 2 1 48 1-222 1 164 1 58 1 53 1-66 1-84 1 137 1-78 1-120 1 239 1-247 1 211 1-169 1 224 1-275 1 146 1 119 1-319 1 413 1-205 1-34 1 108 1-23 1 13 1-76 1 86 1-84 1 236 1-168 1 17 1-23 1 41 1-128 1 323 1-30 1-239 1 13 1 151 1-202 1 126 1 310 1-464 1 109 1 161 1-340 1 338 1-160 1 127 1 184 1-200 1-122 1 114 1-187 1 265 1 130 1-154 1 272 1-319 1 147 1-157 1-103 1 141 1 239 1-323 1 74 1-37 1-157 1 213 1-253 1 130 1 14 1 176 1-170 1 36 1 64 1 27 1-69 1-6 1-71 1 51 1 97 1-135 1 155 1-199 1 59 1 29 1-138 1-63 1 242 1-150 1 89 1-36 1 86 1-55 1-13 1-214 1 199 1-131 1 90 1-19 1-9 1-39 1 25 1-83 1 39 1 25 1-9 1 15 1 77 1-91 1 70 1-88 1 98 1-97 1-141 1 246 1-112 1 1 1-83 1 299 1-284 1 205 1-272 1 114 1 69 1-57 1-114 1 120 1-101 1 84 1 142 1-150 1-87 1 111 1 7 1 172 1-191 1-7 1 5 1 308 1-312 1 205 1-240 1 13 1 159 1-119 1 174 1-132 1-59 1 67 1-71 1 64 1 30 1-73 1 127 1-29 1-106 1 132 1-183 1 112 1 4 1-9 1 46 1-54 1 13 1 25 1-155 1 65 1-51 1 200 1-197 1 150 1 6 1 27 1 88 1 30 1-237 1 46 1 83 1 81 1-17 1 65 1-118 1 59 1-18 1 140 1-98 1-59 1-25 1-70 1 145 1-176 1 115 1 63 1-100 1 4 1 81 1-257 1 255 1-7 1-81 1-65 1 92 1-156 1 106 1 78 1-99 1-231 1 273 1-92 1 5 1-135 1 106 1-250 1 312 1-91 1 114 1-37 1 7 1-138 1 98 1 76 1-30 1 3 1 63 1 167 1-209 1-98 1 98 1 59 1-60 1-4 1-4 1 11 1-42 1 52 1 48 1-28 1-16 1-16 1-26 1 224 1-104 1-55 1-109 1 37 1-14 1 157 1-73 1 107 1-193 1-142 1 124 1 23 1 97 1-69 1 73 1 37 1-120 1 68 1-54 1-39 1 140 1-53 1-15 1 109 1-172 1 335 1-261 1 106 1-109 1 216 1-272 1-85 1 75 1 76 1-6 1-28 1-78 1 12 1 165 1-88 1-4 1-50 1 64 1 32 1-5 1 190 1-350 1-158 1 232 1 89 1 2 1-1 1 32 1-49 1-30 1 19 1-29 1-20 1 49 1-182 1 226 1 1 1-21 1-10 1 64 1 18 1-15 1-254 1 178 1 157 1-77 1-61 1-5 1-90 1 66 1 83 1-34 1-128 1 67 1-71 1 134 1-21 1-1 1-62 1 35 1-216 1 207 1-64 1 38 1-24 1-13 1-3 1-32 1 8 1 77 1-292 1 199 1-59 1 76 1-89 1 119 1-139 1 169 1 152 1-132 1 142 1-131 1 258 1-318 1 35 1 161 1 12 1-109 1-61 1 61 1-152 1 118 1 33 1-31 1-12 1 71 1-106 1-98 1 55 1 60 1 84 1-116 1-37 1-56 1-31 1 81 1-30 1-26 1 46 1 29 1-78 1-63 1 118 1-13 1-10 1-70 1 77 1 94 1-186 1 54 1 102 1-147 1 131 1 32 1-12 1-77 1-11 1 45 1 116 1 18 1-94 1-74 1 63 1 139 1-111 1 115 1-170 1 173 1-126 1 53 1-126 1 83 1-259 1 322 1-274 1 276 1-9 1-50 1 106 1-104 1-38 1 26 1 56 1-34 1-39 1-77 1 111 1 64 1-250 1 248 1-246 1 137 1 144 1-156 1 92 1-113 1 279 1-170 1 89 1-202 1-26 1 71 1 59 1-79 1 84 1 33 1-312 1 194 1-137 1 294 1-92 1 14 1 74 1-36 1 56 1 28 1-309 1 229 1-44 1-45 1 36 1-100 1 59 1 139 1-93 1 82 1-373 1 217 1 119 1-127 1 96 1-73 1 57 1-112 1 69 1-89 1 280 1-198 1 349 1-426 1 184 1-166 1 102 1-64 1 103 1-11 1 133 1-113 1 278 1-430 1 342 1-321 1 173 1-222 1 571 1-540 1 145 1-12 1-48 1 127 1-110 1-129 1 463 1-424 1 94 1-120 1 61 1-67 1-68 1 100 1 433 1-494 1-64 1 283 1-59 1-19 1-30 1-98 1-33 1 235 1 124 1-258 1 511 1-461 1 70 1 69 1-198 1 124 1 23 1-49 1 374 1-484 1 269 1-277 1 53 1 260 1-476 1 181 1 231 1-261 1 370 1-281 1-2 1 34 1 82 1-121 1 337 1-320 1 37 1 90 1-207 1 98 1-95 1 154 1-156 1 87 1 25 1-8 1-25 1 58 1-128 1-189 1 42 1 185 1-274 1 362 1-55 1-11 1-198 1 211 1 98 1-136 1 82 1 90 1 262 1-307 1-10 1-247 1 294 1-102 1 13 1 16 1-222 1 358 1-194 1-7 1 191 1-270 1 109 1-88 1 70 1-67 1 52 1 123 1-152 1 66 1 6 1-142 1 124 1-4 1-387 1 362 1-192 1 203 1-131 1-107 1 224 1-48 1-40 1 77 1-111 1 20 1-27 1-14 1-397 1 365 1 159 1 192 1-227 1-157 1 246 1 199 1-304 1 387 1-335 1-75 1 313 1-127 1-205 1 64 1 53 1-68 1-123 1 136 1 201 1 13 1-171 1-49 1-40 1 132 1 346 1-307 1 259 1-421 1 67 1 25 1 17 1 49 1 305 1-464 1 165 1-125 1 237 1-89 1 84 1-25 1-449 1 410 1-47 1-119 1-362 1 429 1 7 1 79 1 75 1-176 1-204 1 182 1-113 1 257 1-447 1 436 1-548 1 392 1-1 1-22 1-64 1 207 1 242 1-274 1-62 1-45 1-122 1 112 1-197 1 170 1-267 1 446 1-186 1 82 1-368 1 309 1-282 1 380 1-136 1-32 1 19 1 7 1 87 1 52 1-96 1 134 1-78 1 88 1-33 1-114 1 76 1-12 1 13 1-12 1 143 1-213 1 69 1-108 1 100 1 2 1 21 1-110 1 154 1-119 1 61 1-73 1 57 1 14 1 41 1-69 1 9 1 152 1-177 1 177 1-172 1-59 1 125 1-160 1 243 1-27 1-73 1 124 1 22 1-91 1-220 1 48 1 203 1-47 1 74 1-28 1-93 1 136 1-98 1 1 1 296 1-349 1 54 1-14 1 96 1 12 1 0 1 39 1 57 1-273 1 181 1-68 1-59 1 0 1 11 1-131 1 150 1 111 1-108 1 67 1-112 1 150 1-196 1-43 1 60 1-26 1 80 1-94 1-171 1 100 1 95 1 192 1-516 1 475 1-118 1 374 1-405 1 49 1 43 1-115 1 64 1 322 1-426 1 64 1-74 1 370 1-296 1 380 1-341 1 18 1 126 1-190 1 92 1-22 1 218 1-288 1 396 1 135 1-406 1-33 1 71 1-82 1-231 1 409 1-176 1 202 1-318 1 331 1-119 1-14 1-30 1-58 1-107 1 257 1-104 1-12 1-206 1 351 1-179 1 218 1-116 1-112 1 112 1-92 1 171 1-241 1 104 1-50 1 57 1-16 1 8 1-107 1 62 1-91 1 132 1-124 1-10 1 3 1-313 1 378 1-36 1 10 1 78 1-67 1 141 1-132 1-76 1 49 1 42 1-36 1 160 1-144 1-8 1 125 1 45 1-179 1 91 1 59 1-41 1-15 1-13 1-148 1 257 1-119 1-132 1 166 1 22 1-145 1 55 1-91 1 102 1 57 1 186 1-365 1 158 1-119 1 39 1 54 1-129 1 193 1-67 1-69 1 49 1-35 1 60 1 80 1-130 1 168 1 108 1-339 1 106 1 63 1-29 1 35 1-52 1-42 1 388 1-287 1 27 1-237 1 99 1 83 1-220 1 6 1 174 1-123 1 103 1 60 1-114 1 115 1-90 1 38 1 56 1-6 1-62 1 27 1-33 1 108 1-282 1 285 1-229 1 96 1-215 1 293 1-210 1 230 1-212 1 158 1-32 1 5 1-111 1 232 1 68 1-44 1-420 1 385 1-46 1 56 1-197 1 135 1 111 1-107 1-78 1 67 1 48 1 39 1 17 1-90 1 86 1-29 1 49 1-18 1-303 1 227 1-174 1 193 1-73 1 62 1-88 1 35 1 110 1-24 1 221 1-298 1 312 1-236 1 58 1-111 1 96 1-48 1 171 1-260 1 30 1 71 1-160 1 157 1-63 1 38 1 248 1-222 1-7 1 35 1-114 1 95 1 123 1-104 1 295 1-343 1-242 1 70 1 93 1 60 1 5 1-146 1-177 1 301 1-114 1-254 1 301 1-234 1 176 1-130 1 118 1 86 1-158 1 144 1 10 1 16 1 61 1-421 1 341 1 38 1 193 1-185 1-30 1-102 1 174 1-91 1 43 1-55 1 62 1-165 1 115 1 1 1 9 1-203 1 232 1-126 1 129 1-157 1 155 1-12 1 11 1 28 1-147 1 67 1 89 1-100 1-49 1-109 1 112 1-12 1 117 1-210 1 158 1-52 1-21 1-135 1 181 1-43 1 71 1-61 1 325 1-352 1 4 1-88 1 105 1-143 1 92 1 134 1-259 1 78 1 146 1-150 1 115 1-120 1 147 1 78 1-93 1-60 1 68 1-8 1-32 1-77 1 96 1-87 1 177 1-135 1 169 1-74 1-110 1 211 1 17 1-148 1 37 1-53 1-31 1 39 1 52 1 138 1-69 1 2 1-148 1 177 1-65 1 82 1-48 1 64 1-57 1-6 1-67 1 164 1-29 1-103 1-30 1 29 1 74 1 117 1-140 1-26 1 48 1 32 1-81 1 90 1-46 1 130 1-202 1-9 1 23 1 5 1 124 1-170 1 355 1-434 1 302 1-279 1-165 1 251 1-40 1-33 1 60 1 157 1-181 1 121 1-130 1-21 1 234 1-192 1 131 1-240 1 274 1-181 1 45 1 25 1-110 1 276 1-234 1-25 1 109 1-104 1 288 1-53 1-176 1 72 1-37 1 13 1-10 1-25 1 23 1 133 1-133 1 100 1-87 1 118 1-130 1-95 1 155 1-71 1 28 1 90 1-99 1 50 1-211 1 209 1 278 1-261 1-149 1 143 1 51 1-128 1 141 1-62 1 109 1-155 1 205 1-130 1 293 1-329 1-117 1 165 1-121 1 16 1-97 1 7 1-27 1 188 1-113 1 129 1-126 1-41 1 32 1-31 1-57 1 88 1-17 1-3 1-5 1 67 1-139 1 172 1-69 1 39 1-283 1 227 1 205 1-200 1-106 1 123 1-243 1 233 1 96 1-110 1-42 1 162 1-131 1 163 1-207 1 58 1 193 1-65 1-112 1-23 1 253 1-267 1 59 1-81 1-263 1 307 1 51 1-60 1 301 1-276 1 163 1-168 1 160 1-64 1-127 1 193 1-78 1-36 1 70 1 29 1-303 1 198 1-82 1 126 1-167 1 137 1 70 1-33 1-133 1 99 1 47 1 83 1 35 1-128 1 15 1 26 1-39 1-8 1-60 1 46 1-342 1 485 1-108 1 48 1-68 1 48 1-579 1 482 1-84 1 163 1-82 1 53 1-17 1-27 1 43 1-66 1-27 1 8 1-187 1 256 1-40 1-32 1-177 1 103 1 64 1 83 1-133 1-55 1 161 1 14 1-50 1 60 1 7 1 3 1-106 1-69 1 99 1 63 1-25 1-28 1 60 1-146 1 203 1-125 1 53 1-132 1 46 1 5 1 40 1-51 1 246 1-110 1-92 1-24 1-161 1 107 1 35 1-37 1-213 1 359 1-94 1 105 1-236 1 55 1 85 1-126 1-71 1 197 1 80 1-50 1-74 1-42 1 35 1-213 1 617 1-295 1 69 1-152 1-92 1 75 1-74 1 38 1-98 1-157 1 207 1-229 1 669 1-651 1 144 1-120 1 279 1-15 1 52 1-7 1 16 1-173 1 140 1-168 1 186 1-56 1-176 1 205 1-109 1 124 1-31 1-219 1 198 1 44 1-209 1 5 1 142 1-91 1 135 1 69 1 284 1-374 1 243 1-315 1 438 1-249 1 471 1-742 1 200 1 112 1-72 1 139 1-105 1-19 1 126 1 15 1-217 1-17 1-170 1 153 1 18 1 110 1-177 1 151 1 66 1-232 1 52 1 189 1-209 1 191 1-311 1 104 1 50 1 153 1-120 1 24 1-45 1 129 1-108 1-125 1-17 1 110 1 21 1-171 1 215 1-203 1 235 1 20 1-70 1 75 1 66 1 9 1 68 1-305 1 379 1-253 1-105 1 108 1-80 1-63 1 53 1 142 1-112 1 102 1-242 1-55 1 315 1-67 1-290 1 21 1 202 1-223 1 200 1 56 1 48 1-23 1-109 1 43 1 44 1-2 1-38 1 84 1-11 1 48 1 46 1-238 1 67 1 52 1-110 1-94 1 171 1-215 1 272 1-157 1 159 1-92 1 419 1-369 1 107 1-12 1-62 1 75 1-37 1-19 1 159 1-68 1-91 1-88 1 120 1-238 1 188 1 109 1 95 1-435 1 352 1-115 1 38 1 93 1-111 1-118 1 83 1-145 1 200 1-12 1 9 1-27 1-23 1-21 1-29 1 10 1 145 1-115 1 38 1-49 1 34 1-36 1 3 1 301 1-373 1 170 1 118 1-252 1 9 1 103 1 119 1 5 1-128 1-81 1 65 1 250 1-264 1-92 1 167 1-124 1 89 1 447 1-388 1-176 1 133 1 177 1 124 1-392 1 275 1 64 1-253 1 239 1-291 1 307 1-342 1 442 1-770 1 283 1 100 1-65 1 149 1-210 1 119 1 102 1-208 1 354 1-297 1 293 1-199 1 169 1-205 1-65 1 28 1-4 1 379 1-630 1 469 1-106 1-241 1-138 1 604 1-550 1 196 1-30 1 0 1-73 1-289 1 223 1 113 1 56 1 163 1-262 1-266 1 325 1-19 1 289 1-603 1 456 1-368 1 495 1-170 1-26 1-82 1-106 1 157 1-132 1 159 1-27 1-257 1 339 1-165 1-29 1-19 1-89 1-22 1 433 1-558 1 617 1-404 1 396 1-312 1 268 1-232 1-46 1 13 1-55 1 67 1-110 1 57 1 222 1-603 1 490 1-170 1 17 1-481 1 436 1 130 1-94 1-15 1 275 1-228 1 119 1-107 1-115 1 108 1-30 1 0 1 106 1-44 1-117 1-451 1 529 1 5 1 39 1 234 1-272 1 67 1 45 1-199 1 263 1-151 1 37 1 54 1-76 1-108 1 99 1 233 1-20 1-145 1-5 1-223 1 207 1 423 1-451 1 54 1-10 1-155 1 169 1 5 1-3 1 83 1-225 1 183 1-62 1 358 1-351 1 265 1-404 1 107 1-3 1 53 1-75 1 19 1-130 1 130 1 12 1-19 1 1 1 69 1-91 1 35 1-79 1 102 1 9 1 46 1-43 1 110 1-151 1 247 1-193 1-121 1 53 1-92 1 137 1-342 1 451 1-299 1 313 1-510 1 483 1-153 1 44 1 11 1-63 1-31 1 213 1 23 1-211 1-23 1 22 1 29 1 125 1 29 1-53 1-323 1 566 1-440 1 53 1-75 1 309 1-391 1 151 1-480 1 507 1-3 1 193 1 285 1-227 1 104 1-380 1-188 1 168 1 8 1 390 1-17 1-398 1-113 1 120 1 41 1-43 1-297 1 339 1-221 1 56 1 214 1 256 1-317 1 128 1 46 1-388 1 370 1-359 1 212 1 404 1-508 1 512 1-973 1 367 1 235 1 296 1-514 1 90 1 83 1 268 1-274 1-13 1-129 1 279 1 14 1-305 1 71 1 244 1-86 1 46 1 121 1-551 1 183 1 282 1 100 1-145 1 223 1-477 1 272 1-179 1 69 1 187 1-85 1 153 1 269 1-323 1 74 1-89 1-274 1 299 1-334 1-110 1 419 1 80 1-230 1 99 1-93 1-29 1-237 1 239 1 52 1 74 1-465 1 257 1 128 1 65 1-366 1 457 1-343 1 381 1 16 1-179 1 86 1 19 1-122 1 74 1-155 1 183 1 77 1-122 1 12 1 22 1-176 1 71 1-50 1 82 1 76 1-104 1 62 1-20 1-201 1 237 1-138 1 201 1-229 1 67 1-228 1 310 1-107 1-30 1 430 1-182 1-434 1 380 1-299 1 225 1-327 1 433 1-422 1 451 1 64 1-223 1-283 1 374 1-174 1 186 1-217 1 158 1-44 1-94 1 102 1 102 1-82 1-7 1-465 1 548 1-76 1 155 1-145 1 125 1 2 1-86 1-35 1 140 1-113 1 155 1-152 1 85 1-332 1 397 1-177 1-56 1 119 1 14 1-22 1-21 1-82 1 206 1-202 1 186 1-320 1 76 1 180 1-193 1 269 1-254 1-19 1 233 1-315 1 99 1 286 1-65 1-74 1 77 1 42 1-94 1 246 1-167 1-182 1-40 1-108 1-42 1 223 1-201 1 245 1-49 1-186 1 239 1 140 1-216 1 62 1 48 1-206 1 200 1-239 1 32 1-57 1 280 1-114 1 81 1-212 1 47 1 107 1-170 1 194 1 76 1-54 1 61 1 84 1-101 1-192 1 228 1-144 1-50 1-415 1 319 1 88 1-61 1 158 1-169 1 112 1-159 1 114 1 156 1-160 1-129 1 143 1 68 1-38 1 176 1-186 1-19 1-84 1-25 1-224 1 558 1-142 1 23 1-6 1 107 1-271 1 94 1-164 1 383 1-238 1 208 1-262 1 96 1 25 1-26 1 44 1-60 1 23 1 31 1-102 1-29 1-130 1 486 1-429 1 99 1 480 1-324 1-95 1-12 1 141 1-46 1 291 1-188 1-192 1 169 1-153 1 14 1 10 1-30 1 287 1-102 1 284 1-268 1 11 1-379 1 749 1-484 1 9 1-59 1-13 1-21 1 2 1-243 1 225 1 152 1-61 1-91 1 108 1-51 1 81 1-39 1-48 1-20 1-62 1 348 1-200 1-26 1 56 1 64 1-138 1-5 1 235 1 29 1-191 1 204 1-244 1 69 1-113 1 148 1-72 1 206 1-176 1 46 1 136 1-269 1 223 1-28 1-145 1-39 1 482 1-542 1 265 1-291 1 135 1 58 1-185 1 314 1-267 1 139 1-413 1 430 1-242 1 64 1 150 1-210 1 77 1-97 1 342 1-151 1-206 1-23 1 25 1 177 1-159 1 168 1-209 1 232 1-244 1 51 1-7 1-33 1 9 1 107 1-250 1 221 1 11 1 88 1-62 1-238 1 116 1 42 1-131 1-17 1 86 1-38 1 76 1-129 1 97 1 36 1-1 1-119 1 378 1-297 1 121 1-221 1 541 1-245 1-118 1-92 1 90 1 193 1-236 1 38 1-304 1 266 1 61 1-124 1 119 1 12 1 8 1-44 1 584 1-317 1-184 1-75 1 104 1-104 1 31 1 39 1 88 1 111 1-29 1-124 1-131 1-28 1 65 1-48 1 233 1-114 1 99 1-298 1 170 1-54 1-53 1 143 1-206 1 179 1 3 1-146 1-94 1 180 1 23 1-11 1-14 1-23 1-85 1 46 1 180 1-65 1-6 1 93 1 104 1-197 1 72 1 35 1-72 1 105 1-257 1 67 1-185 1 316 1-131 1 40 1-45 1 73 1 42 1 43 1-306 1 136 1-140 1 280 1-166 1 194 1-105 1 97 1-69 1-97 1 94 1-23 1-112 1 339 1-91 1-76 1-47 1-39 1-229 1 130 1 87 1 233 1-280 1 145 1-47 1-60 1-13 1 194 1-366 1 341 1-242 1 97 1-59 1-6 1 146 1-84 1 204 1 69 1-269 1-24 1 167 1-39 1 5 1-326 1 234 1-48 1 294 1-136 1 203 1-396 1 195 1-22 1-84 1 110 1-360 1 77 1-182 1 263 1-59 1 153 1 281 1-207 1-33 1-142 1 142 1 83 1 218 1-396 1 115 1 48 1-45 1 84 1-559 1 309 1 93 1 187 1-3 1-10 1-342 1 120 1 112 1-10 1-573 1 347 1 412 1-151 1 96 1-132 1 256 1-170 1-90 1-180 1 102 1-31 1 445 1-263 1 296 1-375 1-11 1 90 1-583 1 755 1-574 1 324 1 66 1-135 1-21 1 296 1-37 1 102 1-45 1-197 1-470 1 398 1-25 1 348 1-232 1 42 1 70 1-155 1-112 1 272 1-342 1 366 1-167 1-26 1-43 1 30 1 53 1 324 1-305 1 308 1-224 1-26 1-246 1 264 1-38 1-70 1 222 1-236 1-312 1 200 1-73 1 313 1-125 1 54 1-115 1-51 1 27 1-92 1 479 1-118 1-256 1 137 1-172 1 8 1 21 1 4 1-113 1-2 1 225 1-338 1 343 1-452 1 722 1-312 1-64 1-358 1 383 1 96 1 122 1-2 1-161 1-156 1 103 1-49 1 146 1-410 1 234 1 258 1-59 1-329 1 192 1 137 1-242 1 439 1-153 1 53 1-436 1 140 1 413 1-480 1 200 1-227 1 239 1 210 1-460 1 416 1-49 1 53 1-94 1 125 1-111 1 115 1-266 1-24 1 104 1-106 1 94 1-35 1 40 1-31 1 72 1 253 1 4 1-407 1 286 1 111 1-431 1 390 1-420 1 335 1 43 1-291 1 82 1-38 1 391 1-165 1-357 1 382 1-18 1-17 1-261 1 471 1-260 1 235 1-244 1-119 1 36 1 55 1-450 1 339 1 77 1-119 1-46 1 321 1-232 1 86 1-178 1 67 1-19 1 114 1-218 1 102 1 237 1-260 1 3 1-82 1 55 1 241 1-217 1-76 1-46 1 125 1 81 1-110 1-347 1 187 1 384 1-318 1 228 1-285 1 202 1-205 1 75 1 55 1 83 1 91 1-108 1 209 1-522 1 573 1-29 1-186 1-607 1 681 1-579 1 395 1 147 1 12 1-236 1 430 1-295 1 143 1-118 1-112 1 340 1-362 1 210 1 49 1-63 1 92 1-72 1-171 1 142 1-157 1 168 1-228 1 462 1-358 1 109 1-68 1 84 1 162 1-186 1-208 1 231 1-154 1 136 1 47 1-53 1-148 1-107 1 79 1 239 1-57 1-323 1 263 1 112 1 5 1 14 1-32 1 79 1-55 1-600 1 581 1 93 1-196 1-22 1 125 1-38 1-11 1 50 1-180 1 187 1-131 1 95 1-177 1 103 1-141 1 94 1-13 1 104 1-75 1 68 1-104 1 16 1 68 1 87 1-190 1-94 1 63 1 134 1-115 1 224 1-254 1 309 1-77 1-40 1 106 1 206 1-252 1-186 1-54 1-95 1 367 1-49 1-10 1-112 1 258 1-540 1-56 1 340 1 68 1 98 1 62 1 249 1-624 1 411 1-207 1-179 1 266 1-128 1-227 1 515 1-495 1 85 1 104 1 16 1 66 1-41 1 96 1-55 1-559 1 563 1-277 1-245 1 439 1 107 1 69 1-146 1 218 1-520 1 47 1 31 1 64 1 197 1-149 1-213 1 28 1 124 1 552 1-182 1-217 1-215 1 619 1-183 1 49 1-406 1 371 1-132 1 311 1-141 1-246 1-222 1 433 1-439 1-60 1 159 1 44 1-195 1-171 1 241 1 257 1-227 1 266 1-213 1-347 1 223 1 363 1-249 1-295 1 304 1 161 1-125 1-233 1 170 1-122 1 289 1-43 1-64 1 104 1 14 1-29 1-312 1 420 1 11 1-39 1-35 1-95 1-11 1 3 1-85 1 148 1-69 1-107 1 134 1-168 1-286 1 538 1-68 1-266 1 316 1-142 1-552 1 571 1 232 1-310 1-23 1 295 1-215 1 155 1 298 1-400 1 23 1-38 1-171 1 160 1 260 1-440 1 338 1 20 1-267 1 336 1-176 1-42 1 23 1-209 1 307 1-64 1 1 1-287 1 344 1-60 1 86 1 139 1-386 1 380 1-235 1-235 1-211 1 532 1-329 1 503 1-316 1-124 1-293 1 267 1 267 1 345 1-149 1-558 1 356 1-375 1 628 1-594 1 331 1-300 1 187 1-247 1 318 1-278 1 370 1 184 1-231 1 358 1-448 1-73 1-23 1 304 1-126 1 104 1-53 1-133 1-46 1 262 1-210 1-162 1 229 1 84 1-139 1 191 1-187 1-137 1 206 1 76 1-312 1 341 1-39 1-95 1 27 1-3 1-112 1-4 1-39 1 287 1-546 1 218 1 508 1-223 1 13 1-24 1-351 1 88 1 198 1 56 1-89 1-219 1 612 1-268 1-235 1-66 1 65 1 135 1-114 1 43 1 194 1-164 1-37 1-135 1 357 1-53 1-236 1-36 1 173 1 20 1-119 1-77 1 312 1-238 1 128 1-102 1 416 1-419 1 81 1 83 1-134 1-108 1 143 1 79 1-590 1 488 1 42 1-166 1 135 1 91 1-16 1-233 1 166 1-114 1 94 1-34 1 182 1-79 1 22 1-228 1-449 1 589 1 23 1-221 1 130 1-121 1 315 1-260 1 181 1-93 1 93 1-206 1 281 1-356 1 314 1-167 1 110 1-196 1 163 1-14 1-149 1 120 1-75 1 157 1 79 1-211 1 250 1-303 1 158 1 245 1-300 1 357 1-437 1 593 1-686 1-19 1 260 1 486 1-846 1 330 1-116 1 99 1 399 1-2 1-553 1-61 1 178 1-83 1 52 1-179 1 496 1 252 1-509 1-88 1-20 1-15 1 96 1 273 1-344 1 346 1-268 1-82 1-30 1 95 1-74 1 426 1-200 1-154 1-117 1 441 1-262 1 404 1-567 1 289 1-156 1 162 1 7 1-151 1 589 1-95 1-444 1 274 1-33 1-100 1-105 1-62 1-89 1 214 1 303 1-550 1 593 1-604 1 185 1-13 1 10 1-39 1 31 1-92 1 13 1-61 1 224 1-236 1 60 1 57 1 36 1-43 1-38 1-145 1-65 1 91 1 189 1-209 1 115 1 80 1-31 1-233 1 152 1 101 1-214 1 93 1 35 1 121 1-44 1 56 1-77 1-63 1 121 1-169 1 190 1-78 1 62 1-196 1-13 1 115 1-118 1-14 1-249 1 334 1 451 1-481 1 182 1-118 1 578 1-622 1 346 1-82 1 214 1-485 1-89 1 301 1-138 1-123 1 441 1-114 1-183 1-214 1 150 1-24 1-95 1 105 1-159 1 411 1-275 1-83 1 142 1-118 1 71 1 88 1-185 1 378 1-305 1-163 1 363 1-248 1-61 1 65 1 151 1 134 1-94 1-173 1 83 1 36 1-5 1 210 1-326 1 164 1 188 1-13 1-206 1-41 1 393 1-559 1 470 1-410 1 374 1-448 1 290 1-184 1 311 1-213 1 172 1-54 1-305 1 122 1 255 1-152 1 12 1 35 1-82 1-75 1 149 1 52 1-67 1-93 1 27 1 105 1-42 1-55 1-160 1 169 1 151 1-64 1 34 1-106 1-8 1 129 1 75 1-134 1-113 1-29 1 91 1-32 1 49 1 33 1-96 1 72 1-110 1 128 1 258 1-455 1 166 1 142 1-169 1-99 1 172 1 120 1 21 1-158 1 186 1-179 1 74 1-160 1 92 1-79 1 362 1-254 1 252 1-253 1 140 1-199 1 518 1-428 1 107 1 71 1-223 1 28 1 81 1-91 1-55 1 5 1 132 1-128 1 32 1 4 1-120 1 378 1-507 1 164 1 50 1 195 1-191 1 164 1-125 1 82 1-43 1-31 1-148 1 71 1 59 1 14 1-51 1-14 1-367 1 548 1-185 1 194 1-24 1-118 1-4 1-13 1 83 1-108 1 46 1 53 1 64 1-49 1-123 1-34 1 152 1-161 1 55 1 67 1-88 1 126 1-212 1 100 1-560 1 697 1 178 1-132 1 13 1 0 1 63 1-211 1 61 1 25 1-229 1 218 1 1 1-48 1 123 1-138 1 250 1-116 1-60 1 112 1-47 1-172 1 39 1-81 1 388 1-426 1 49 1 177 1-334 1 181 1-34 1-35 1 370 1-247 1-305 1 358 1-306 1 199 1-77 1-4 1 318 1-276 1 366 1-194 1-144 1 2 1 131 1-220 1 424 1-317 1-179 1 312 1-296 1-113 1 244 1 16 1-232 1 99 1 24 1 215 1 48 1-52 1-247 1 230 1-100 1 24 1-5 1-134 1-105 1 187 1 53 1 46 1-268 1 190 1 148 1-15 1-2 1-236 1 207 1-132 1 61 1 124 1 43 1-200 1 58 1-319 1 270 1 69 1-58 1 71 1 361 1-699 1 735 1-362 1-135 1-487 1 662 1-57 1-317 1 238 1 217 1-475 1 206 1-70 1 329 1-432 1 319 1-608 1 467 1 90 1-151 1-9 1-316 1 375 1-198 1 269 1 145 1-226 1-24 1-112 1 131 1 2 1 88 1 95 1-155 1-1 1-167 1 36 1 169 1-107 1-96 1 198 1-462 1 570 1-47 1-99 1-453 1 435 1-409 1 418 1 18 1 13 1-327 1 309 1 30 1-140 1 128 1 34 1 40 1-189 1 334 1-337 1 157 1-18 1 55 1-93 1 252 1-342 1 489 1-344 1 111 1-151 1 254 1-242 1-138 1 245 1 212 1-318 1-6 1 32 1 86 1-206 1 249 1-102 1-62 1-104 1 259 1-61 1-187 1 14 1 208 1-98 1 19 1-59 1 83 1-67 1-43 1 108 1-164 1 136 1 32 1-41 1-21 1-51 1-137 1 301 1-90 1 118 1-304 1 281 1-74 1-29 1 126 1-219 1 374 1-268 1 95 1-92 1 216 1-300 1 228 1-131 1-119 1 20 1 84 1-95 1 160 1-127 1 133 1-191 1 254 1-159 1 333 1-403 1 490 1-266 1-218 1 289 1-110 1-117 1 219 1-354 1 87 1 201 1-263 1 114 1-10 1-83 1 24 1-41 1 210 1-228 1 355 1-103 1-251 1 196 1-396 1 346 1-23 1-72" fill="none" stroke="#0072BD" stroke-width="0.45" stroke-linejoin="round" vector-effect="non-scaling-stroke"/></svg>
<rect x="207.4" y="23.5" width="141.0" height="63.9" fill="none" stroke="#262626" stroke-width="0.62"/>
<path d="M254.40,87.4v-1.4M254.40,23.5v1.4M301.40,87.4v-1.4M301.40,23.5v1.4M207.4,55.45h1.4M348.4,55.45h-1.4" stroke="#262626" stroke-width="0.7" fill="none"/>
<text x="209.00" y="98.40" font-size="8.7" text-anchor="middle" fill="#262626">0</text>
<text x="256.00" y="98.40" font-size="8.7" text-anchor="middle" fill="#262626">2000</text>
<text x="303.00" y="98.40" font-size="8.7" text-anchor="middle" fill="#262626">4000</text>
<text x="350.00" y="98.40" font-size="8.7" text-anchor="middle" fill="#262626">6000</text>
<text x="206.30" y="26.55" font-size="8.5" text-anchor="end" fill="#262626">5</text>
<text x="206.30" y="58.70" font-size="8.5" text-anchor="end" fill="#262626">0</text>
<text x="206.30" y="91.15" font-size="8.5" text-anchor="end" fill="#262626">-5</text>
<text x="263.30" y="110.90" font-size="10.2" fill="#262626" style="stroke-width:0.1px">Epoch/s</text>
<text transform="translate(198.20,55.55) rotate(-90)" font-size="9.6" text-anchor="middle" fill="#262626" style="stroke-width:0.2px">E/mm</text>
<text x="277.90" y="13.2" font-size="12" text-anchor="middle" fill="#000" style="stroke:#000;stroke-width:0.1px">WPTD</text>
<svg x="395.1" y="23.5" width="141.0" height="63.9" overflow="hidden"><path transform="scale(0.035259,0.04)" d="M0 767l1-142 1 228 1-223 1 245 1-152 1 98 1 46 1 16 1 37 1-83 1 77 1-33 1 94 1-256 1 52 1-37 1 250 1 83 1-369 1 189 1 30 1-82 1-2 1 96 1 47 1-168 1-13 1 66 1-169 1 113 1 130 1-52 1-177 1 107 1-49 1 56 1 3 1 258 1-133 1 77 1-126 1 55 1-274 1-128 1 196 1 7 1 113 1-121 1-80 1 147 1-89 1 184 1-271 1 301 1-81 1-62 1-4 1 38 1 64 1-196 1 229 1-105 1-59 1 61 1 65 1-39 1-75 1 77 1-50 1 46 1 42 1-158 1 119 1-234 1 287 1-20 1-28 1-73 1 111 1-109 1-5 1 103 1-193 1 137 1-75 1 84 1 19 1 258 1-267 1-113 1 33 1-9 1 89 1-93 1 12 1-8 1 70 1-69 1 108 1-340 1 249 1-13 1 31 1-76 1 75 1-25 1 9 1-32 1-17 1 47 1-8 1-6 1 2 1 14 1 71 1-83 1 82 1-146 1-21 1-29 1 144 1-66 1 57 1-13 1-40 1-11 1 112 1 95 1-162 1-56 1 50 1-3 1 94 1-101 1-78 1 9 1 4 1 105 1 35 1-125 1-17 1 90 1-228 1 179 1 91 1-37 1 5 1-43 1 43 1-129 1-201 1 353 1-303 1 310 1 0 1-33 1-288 1 282 1-97 1-366 1 462 1 5 1-168 1 421 1-227 1 0 1-9 1 62 1-75 1 17 1-10 1-30 1 1 1 128 1-299 1 231 1 13 1 230 1-290 1-4 1-156 1 271 1-407 1 293 1 7 1-40 1 63 1-14 1 38 1-39 1-321 1 301 1-4 1-32 1 124 1 100 1-143 1-24 1-92 1-125 1 27 1 204 1 58 1-71 1-232 1 243 1-58 1 211 1-163 1-62 1 37 1-9 1-145 1 196 1-118 1 41 1-115 1 133 1 152 1 98 1-241 1-5 1 113 1-51 1-263 1 236 1-91 1 106 1-13 1 13 1-111 1-8 1 223 1-117 1-6 1 49 1-152 1 103 1-101 1 96 1-72 1 68 1-66 1 297 1-182 1 2 1-65 1 37 1 9 1-130 1 104 1-131 1 36 1 134 1-112 1-167 1 139 1 67 1 105 1-90 1 104 1-68 1 65 1-59 1 67 1-269 1 94 1 86 1 8 1-4 1 29 1-153 1 99 1-169 1 135 1 141 1-8 1-70 1 39 1-41 1-62 1-157 1 236 1-406 1 395 1-69 1 92 1-86 1 109 1-174 1 210 1-315 1 187 1 35 1-47 1 7 1-2 1 80 1 14 1 175 1-165 1-72 1 5 1-85 1 38 1-135 1 244 1 51 1-44 1 91 1-146 1 6 1-46 1 351 1-342 1-30 1 58 1-56 1 68 1 241 1-228 1-26 1 13 1 28 1 5 1-194 1 295 1-93 1 22 1 34 1 20 1-55 1 59 1-71 1 111 1-98 1-13 1 24 1-15 1 186 1-187 1-23 1-32 1 37 1 55 1-137 1 176 1-121 1 156 1-118 1 42 1-3 1-51 1-78 1 70 1-66 1 163 1-53 1-186 1-35 1 249 1-246 1 41 1 113 1-21 1 20 1 47 1-198 1 88 1 37 1-177 1-25 1 54 1 99 1-30 1 0 1 119 1 127 1-103 1-132 1 134 1-186 1 9 1 27 1-112 1 144 1 39 1-197 1 89 1 14 1 72 1-37 1 54 1-10 1 30 1-58 1 35 1-137 1 142 1-16 1 58 1-65 1 34 1-17 1-128 1 52 1 23 1 82 1-99 1 42 1-14 1 66 1 55 1 5 1 59 1-121 1-21 1 14 1 151 1-7 1-69 1-27 1-54 1-271 1 462 1-104 1-22 1 1 1-4 1 133 1-113 1-44 1 0 1 72 1-68 1-34 1 20 1 33 1-33 1 99 1-58 1-37 1 316 1-274 1-27 1 53 1-27 1-34 1-5 1 50 1 135 1-221 1 117 1-101 1 15 1 17 1 25 1-106 1 78 1 40 1 20 1-127 1 125 1 99 1-140 1-210 1 278 1-128 1 30 1 29 1 74 1-50 1 134 1-184 1 114 1-81 1 96 1-85 1-20 1-11 1 19 1 25 1 52 1-44 1-16 1-10 1 12 1-58 1 84 1-15 1 6 1-37 1 37 1-41 1 32 1-72 1-30 1-37 1 55 1 109 1-92 1-4 1 3 1-19 1-40 1-21 1-11 1-88 1 177 1-53 1-44 1 15 1 114 1-152 1 9 1 83 1-35 1 18 1-110 1 91 1-83 1 42 1 121 1-126 1-13 1 59 1 61 1-221 1 150 1 99 1-17 1-38 1 104 1-222 1 190 1-99 1-47 1 86 1-2 1 21 1 28 1-44 1 58 1-18 1 54 1-98 1 116 1-41 1-23 1-9 1 39 1 137 1-218 1 153 1-192 1 215 1-206 1-3 1 75 1 21 1-76 1 5 1 86 1-50 1-72 1 47 1 60 1-96 1 34 1-9 1 10 1-69 1 94 1-15 1-48 1-93 1 68 1-288 1 303 1 46 1-46 1 15 1-27 1 71 1-74 1 30 1 24 1 60 1-105 1-5 1 80 1-39 1-23 1 115 1-47 1 16 1 24 1 19 1-15 1-73 1 1 1-135 1 113 1 33 1 90 1-47 1 34 1-41 1 90 1-87 1-3 1 134 1-22 1-106 1 74 1-60 1-4 1 166 1-149 1-66 1 1 1 126 1 10 1-68 1 76 1-183 1 98 1 98 1-40 1 41 1-2 1-28 1 40 1-49 1-67 1 58 1 20 1 31 1-102 1 87 1 25 1-53 1-25 1 21 1 5 1 19 1 48 1-100 1 57 1-35 1-95 1 131 1-45 1-50 1-10 1 148 1-38 1-54 1-11 1 68 1 15 1-64 1 33 1-45 1 53 1-82 1-4 1-31 1 68 1-4 1-1 1-164 1 88 1 3 1 52 1-18 1 37 1-15 1-4 1-178 1 174 1-116 1 16 1 41 1 84 1-119 1 87 1-133 1 38 1 11 1-21 1 23 1-9 1-2 1-65 1 50 1-5 1 7 1 13 1 56 1-71 1-5 1-40 1 191 1-104 1 34 1-91 1-8 1 6 1 3 1 60 1-59 1-76 1 70 1 68 1-77 1 36 1-19 1-93 1 227 1-262 1 121 1 72 1 174 1-258 1 164 1-266 1 93 1 46 1-12 1-50 1 82 1-142 1 145 1-90 1 89 1 20 1-54 1 142 1-72 1-108 1 128 1 54 1-102 1-36 1 32 1-86 1 81 1 9 1 17 1 106 1-169 1 62 1 48 1-58 1 25 1-155 1 179 1 54 1 29 1-138 1-6 1 91 1 30 1-226 1 269 1-131 1 82 1 28 1 66 1-162 1 49 1-62 1-6 1-20 1-5 1 66 1 67 1 7 1-72 1-52 1-107 1 189 1 1 1-55 1-50 1 83 1-135 1 79 1 74 1-156 1-97 1 174 1-37 1 65 1-157 1 192 1-320 1 326 1-136 1-19 1 75 1-36 1-58 1 72 1 51 1-94 1 72 1-19 1 203 1-120 1-139 1 101 1 29 1 15 1-59 1-39 1 47 1-41 1 48 1 2 1 7 1-57 1 41 1-32 1 181 1-137 1 12 1 23 1-84 1 78 1 35 1-55 1 78 1-48 1-224 1 202 1-73 1 40 1-26 1 74 1 10 1-78 1 50 1-7 1-58 1 65 1-6 1-3 1 62 1-42 1 193 1-234 1 100 1-148 1 247 1-270 1-27 1 112 1 13 1-91 1 73 1-62 1 18 1 72 1-27 1 19 1-56 1 61 1 6 1-11 1 169 1-207 1-205 1 171 1 84 1-8 1 5 1-85 1 79 1 54 1-63 1 18 1-44 1 94 1-192 1 161 1 2 1 2 1-32 1 52 1 8 1-50 1-148 1 117 1 141 1-100 1-11 1-43 1-23 1 6 1 110 1-105 1-9 1 65 1-70 1 85 1-15 1-54 1 10 1-13 1-122 1 116 1-12 1 23 1-12 1-24 1 12 1-24 1 2 1 48 1-209 1 239 1-132 1 113 1-119 1 118 1-153 1 142 1 122 1-181 1 180 1-149 1 255 1-217 1-12 1 11 1 136 1-177 1 38 1 32 1-97 1 108 1 4 1 7 1-44 1-10 1-14 1 13 1-50 1 61 1 48 1-84 1-31 1-8 1-54 1 35 1 2 1 4 1 3 1-46 1 3 1 30 1 12 1-12 1 3 1 22 1-16 1 119 1-181 1 33 1 68 1-216 1 202 1-102 1 120 1 98 1-159 1 85 1 34 1 20 1-68 1-149 1 143 1-179 1 196 1-131 1 86 1 102 1-60 1 145 1-199 1 117 1-272 1 302 1-231 1 213 1-24 1 52 1-6 1 24 1-133 1 119 1-65 1-27 1-15 1 11 1 11 1-22 1-111 1 132 1-128 1 167 1 35 1-57 1-2 1-6 1 117 1-153 1 120 1 3 1-162 1 180 1-99 1 54 1-55 1 134 1-360 1 384 1-310 1 172 1-41 1 15 1 51 1 128 1-101 1 94 1-298 1 328 1-199 1 110 1-114 1 142 1-155 1 32 1-15 1 33 1-269 1 250 1 14 1 96 1-109 1-115 1 104 1 58 1-81 1-90 1 221 1-38 1 163 1-98 1-99 1 133 1-165 1 128 1-111 1 31 1 62 1 22 1 91 1-207 1 119 1 21 1-124 1 56 1 256 1-317 1-14 1-100 1 48 1-60 1 70 1-2 1 279 1-264 1-8 1-69 1 28 1 31 1-127 1 110 1 322 1-475 1 31 1-24 1 181 1-217 1 180 1 14 1-103 1 124 1 138 1-119 1 291 1-386 1 101 1-149 1 63 1-1 1 113 1 46 1 220 1-186 1-2 1-263 1 106 1 17 1-188 1 167 1 133 1-15 1 75 1-240 1 63 1-27 1 87 1-183 1 363 1-220 1 7 1-58 1-18 1 8 1-4 1 15 1-14 1 8 1 78 1 39 1-74 1-6 1-22 1-77 1-48 1 29 1-101 1 151 1 76 1-77 1-87 1 424 1-192 1-109 1 82 1 98 1 173 1-333 1 76 1-140 1 179 1-170 1 113 1-57 1-70 1 134 1-27 1 81 1 49 1 9 1-144 1-34 1 20 1-26 1 12 1 51 1-77 1-1 1 46 1-111 1 99 1-3 1-287 1 254 1-119 1 24 1 43 1 24 1 59 1-78 1 6 1 3 1-26 1 99 1-112 1 3 1-339 1 248 1 169 1-122 1 101 1-147 1 205 1-140 1 80 1 37 1-6 1-29 1 198 1-155 1-87 1 33 1 48 1-18 1-120 1 194 1 43 1-84 1-15 1-106 1 48 1-10 1 378 1-227 1 169 1-219 1-42 1 5 1 28 1 93 1 189 1-194 1-43 1-172 1 252 1-22 1 1 1 7 1-352 1 172 1 109 1-116 1-274 1 257 1 100 1 10 1 90 1-71 1-215 1 126 1-59 1 15 1-163 1 273 1-380 1 351 1-41 1-107 1 41 1 3 1 351 1-191 1-66 1-145 1 31 1 52 1-98 1 193 1-276 1 191 1 5 1 11 1-239 1 241 1-257 1 176 1 44 1 191 1-201 1 70 1-4 1-10 1-21 1 115 1-72 1-2 1 35 1 31 1-56 1 91 1-91 1 13 1 85 1-137 1 30 1-16 1 11 1-37 1 44 1 127 1-96 1-22 1-19 1 24 1-30 1-37 1 75 1-24 1-14 1-24 1 6 1 244 1-239 1 44 1 5 1-27 1 81 1 157 1-222 1-4 1 101 1-67 1-172 1 168 1 30 1-34 1 50 1-88 1 9 1 39 1-13 1 52 1 182 1-244 1 8 1 11 1 48 1-105 1 104 1 53 1 32 1-186 1 110 1-110 1 26 1 0 1 3 1-36 1 57 1 82 1-87 1 55 1-82 1 13 1-43 1 121 1-112 1 6 1 33 1 26 1-206 1 146 1-17 1-81 1-120 1 334 1-114 1 6 1-31 1 88 1-34 1-78 1 48 1 163 1-222 1-1 1-1 1 55 1-5 1 24 1-1 1-52 1 156 1 66 1-139 1 200 1-37 1 70 1 11 1-300 1 84 1 50 1-29 1 115 1-351 1 161 1 23 1-29 1-58 1 454 1-302 1-15 1-14 1 244 1-368 1 104 1 11 1 182 1-307 1 107 1-4 1 232 1-169 1-26 1 25 1 183 1-122 1-162 1 48 1-66 1 75 1-86 1 85 1-23 1-12 1-102 1 132 1-45 1-58 1 161 1-410 1 476 1-188 1 70 1-12 1 154 1-96 1-40 1-124 1 296 1-216 1-44 1 129 1 133 1-241 1 129 1 0 1-48 1-24 1 59 1-51 1 56 1-71 1 11 1 64 1-10 1-183 1-32 1 173 1-133 1 80 1 58 1-52 1 86 1 87 1-65 1-86 1 3 1-50 1 48 1-104 1 128 1-41 1 134 1-146 1-62 1 78 1-107 1 75 1 82 1 131 1-94 1-93 1-53 1 77 1-38 1 27 1-66 1 342 1-312 1 92 1 6 1-100 1 52 1-169 1 117 1 28 1-15 1 2 1 81 1-117 1-47 1 63 1 59 1-1 1-151 1 109 1-125 1 125 1-148 1 35 1 103 1-70 1-3 1-103 1 241 1-159 1 25 1-6 1 127 1-38 1-36 1-45 1 121 1 89 1-88 1-272 1 227 1 44 1-61 1-47 1 161 1 20 1-168 1 35 1 64 1 5 1 1 1 38 1-21 1 29 1-1 1 18 1-162 1-82 1 134 1-82 1 134 1-39 1-46 1 31 1 68 1 23 1-22 1 187 1-309 1 318 1-316 1 161 1-168 1 150 1-147 1 252 1-270 1 102 1 39 1-88 1 106 1-43 1 9 1 208 1-184 1-1 1-120 1 80 1 7 1 140 1-109 1 275 1-396 1-79 1 74 1 64 1 40 1 1 1-109 1-130 1 215 1-76 1 0 1 39 1 15 1-47 1 62 1-81 1-8 1-55 1 62 1 55 1-53 1 96 1-36 1-8 1 48 1 138 1-172 1 1 1 30 1 12 1 4 1-30 1-56 1 63 1-41 1 12 1-41 1 50 1 69 1-53 1 42 1-41 1-56 1 51 1 42 1-42 1 14 1-102 1 54 1 63 1-62 1-42 1 40 1-45 1 54 1 17 1-98 1 55 1 26 1-83 1 5 1 31 1 13 1 8 1-43 1 256 1-196 1-71 1 2 1 10 1 38 1-74 1 88 1-205 1 148 1 29 1 70 1-85 1 18 1 0 1-49 1 40 1 9 1-5 1 63 1-91 1 78 1-63 1 54 1 6 1 65 1-46 1 13 1-142 1 37 1 129 1-105 1 31 1 125 1-195 1 188 1-107 1 99 1-54 1 7 1-115 1 232 1-137 1 147 1-119 1 48 1-40 1-89 1 20 1 116 1-23 1-14 1-86 1 224 1-133 1 109 1-121 1 4 1 3 1-44 1 11 1 17 1 10 1-63 1 6 1-40 1 52 1 73 1 11 1 5 1 168 1-336 1 213 1-190 1-149 1 159 1 13 1-114 1 124 1 37 1-43 1 11 1-22 1 55 1 104 1-182 1 144 1-112 1 127 1-99 1-6 1-31 1-24 1 58 1-26 1-8 1 59 1 25 1 106 1-149 1-9 1-38 1 68 1-8 1 10 1-92 1 93 1 34 1-30 1-9 1 16 1 30 1-33 1-44 1 94 1-205 1 158 1 24 1-26 1-94 1-20 1 89 1 309 1-208 1-146 1 60 1 68 1-99 1 109 1-114 1 167 1-55 1 91 1-104 1 259 1-256 1-116 1 79 1-45 1 52 1-108 1-65 1 50 1-77 1 131 1-38 1 36 1 13 1-19 1 13 1-80 1-87 1 140 1-128 1 123 1-85 1 36 1-89 1 153 1 45 1-236 1 255 1 86 1-240 1 5 1-104 1 21 1 15 1 239 1-4 1-124 1-108 1 136 1 70 1-106 1 140 1 60 1-110 1-39 1-93 1 273 1-210 1 45 1-92 1-167 1 219 1 48 1-56 1 296 1-189 1 67 1-99 1 87 1-56 1-109 1 13 1 84 1 24 1 13 1 16 1-233 1 289 1-184 1-44 1 18 1-22 1 154 1-60 1-83 1 315 1-191 1 128 1-11 1-266 1 159 1-162 1 148 1-104 1 70 1 225 1-439 1 217 1 38 1 96 1-114 1-172 1-266 1 270 1 85 1 306 1-265 1-65 1 84 1-106 1 135 1-91 1 5 1 238 1-364 1 346 1-189 1-119 1-38 1 392 1-269 1-40 1 9 1 4 1 72 1-144 1 116 1-95 1 157 1 151 1-241 1-51 1 71 1 129 1-106 1 77 1-36 1-45 1 87 1 87 1-152 1 98 1-161 1-41 1 69 1 161 1-20 1-186 1 39 1-27 1-127 1 323 1-195 1-34 1-184 1 396 1-177 1 151 1-255 1 108 1 4 1-27 1-125 1 23 1 198 1-50 1-61 1-88 1 87 1 182 1 173 1-382 1 177 1 52 1-262 1 150 1-142 1 119 1-173 1 184 1-136 1-143 1 568 1-354 1-115 1 50 1 54 1-87 1 109 1 72 1-68 1-73 1 59 1 16 1 3 1 34 1-219 1-144 1 223 1 103 1-33 1-236 1 220 1-194 1 73 1 145 1-33 1-47 1 78 1-33 1 331 1-318 1 192 1-22 1 169 1-141 1 408 1-492 1-82 1 17 1 20 1-18 1 46 1 12 1 99 1-318 1 125 1-36 1-135 1 191 1-32 1-71 1 18 1 37 1 177 1-163 1-18 1-91 1 77 1-5 1-104 1 141 1-10 1-140 1 181 1-135 1 106 1-19 1 36 1-21 1-103 1 150 1-37 1-132 1 166 1-152 1 172 1-44 1 8 1 65 1 56 1-84 1 167 1-238 1 352 1-259 1-113 1-4 1 37 1-35 1 24 1 111 1-85 1 37 1-167 1 81 1 163 1-141 1-168 1 94 1 94 1-169 1 146 1-208 1 316 1-19 1-109 1-239 1 300 1-43 1 10 1 27 1 41 1-30 1 141 1-206 1 27 1-214 1 162 1 159 1-93 1 133 1-89 1-145 1 146 1-221 1 590 1-297 1-14 1-68 1-1 1-45 1 75 1-4 1 154 1-200 1 38 1 39 1-11 1-138 1 100 1 38 1 179 1-94 1-16 1-112 1 36 1 36 1-44 1 77 1-101 1-152 1 188 1-22 1 21 1-49 1 15 1 71 1-109 1-118 1 272 1-239 1 141 1 109 1-123 1-106 1 87 1-18 1-41 1 187 1 95 1-278 1 33 1-67 1 307 1-384 1 230 1-276 1 256 1-273 1 257 1-166 1 238 1-200 1 165 1-9 1 57 1-34 1-6 1-105 1 460 1-524 1 380 1-176 1-37 1 73 1-115 1-59 1 30 1-45 1-241 1 75 1 253 1-221 1 307 1-190 1 97 1-194 1 124 1 103 1-60 1 36 1 50 1-58 1 5 1-140 1 114 1-221 1 597 1-604 1 444 1-159 1-185 1 225 1 295 1-667 1 250 1-59 1 44 1-257 1-69 1 297 1 1 1-49 1 256 1-218 1-257 1-150 1 427 1-452 1 130 1 143 1-50 1-13 1 306 1-50 1-36 1 71 1-33 1 45 1 8 1-380 1 118 1 64 1 92 1 87 1-135 1 193 1-289 1-98 1-22 1 306 1-114 1 244 1-154 1-139 1 154 1-52 1 28 1-109 1 120 1-26 1-1 1-29 1-356 1 450 1-125 1 107 1-559 1 217 1 327 1-80 1-5 1 136 1-106 1-99 1 105 1 31 1-39 1-32 1 17 1 97 1-54 1 50 1-581 1 228 1 264 1-100 1 348 1-69 1-110 1-218 1 88 1 199 1-110 1-242 1 319 1-315 1 171 1-108 1 396 1-318 1 159 1-191 1-5 1 168 1 452 1-265 1-158 1 132 1-258 1-140 1 270 1 248 1-174 1-38 1 7 1 9 1 295 1-562 1 452 1-388 1 114 1-187 1 230 1 211 1-258 1-104 1 104 1-78 1 72 1-213 1 300 1 165 1-239 1-189 1 206 1 154 1-114 1 58 1 11 1-258 1 389 1-171 1-138 1-130 1 100 1-212 1 8 1 242 1-73 1 212 1-394 1 85 1 188 1 125 1-76 1 25 1-98 1-141 1 369 1-367 1 147 1 56 1-24 1 17 1 141 1-132 1-216 1-101 1 195 1 10 1-2 1-73 1 4 1 73 1-362 1 432 1-12 1 104 1 390 1-613 1 467 1-364 1-138 1 258 1-132 1 103 1 292 1-327 1-197 1-24 1 163 1 87 1-374 1 266 1-153 1 276 1-49 1-199 1 141 1-149 1 317 1-259 1 248 1-492 1 348 1-259 1 181 1-26 1-362 1 398 1 112 1-175 1-17 1-50 1 189 1-158 1 160 1 35 1-176 1 246 1 9 1-94 1-123 1 218 1-61 1-318 1 475 1-380 1 57 1 179 1 177 1-436 1 494 1-123 1-85 1 68 1-138 1 132 1-66 1-270 1 718 1-743 1 475 1-246 1-80 1-9 1-19 1 197 1 65 1 5 1-139 1-17 1 22 1 8 1-246 1 341 1-67 1-140 1-245 1 377 1-1 1-201 1-103 1 53 1 70 1 0 1 355 1-370 1 270 1 18 1-96 1 54 1-139 1-20 1 283 1-120 1-3 1 25 1-153 1 149 1-129 1 259 1-120 1-299 1 260 1-218 1 42 1 123 1-27 1 233 1-274 1 8 1-155 1 80 1 96 1-45 1 465 1-577 1-41 1 116 1-50 1-30 1-66 1 458 1-421 1 312 1 153 1-302 1-184 1 398 1-197 1 216 1-259 1 208 1-102 1-259 1 266 1-52 1 66 1-41 1-391 1 321 1 110 1-49 1 60 1-110 1 230 1-2 1-119 1-125 1 150 1 114 1-110 1 33 1-237 1 192 1-16 1 215 1-161 1-119 1 114 1 41 1-96 1-154 1 133 1-258 1 170 1 3 1 174 1-43 1 125 1-161 1-67 1 118 1-178 1-104 1 428 1-280 1 131 1 109 1-1 1 8 1 211 1-595 1 222 1-24 1-100 1 429 1-275 1 102 1-66 1-109 1-93 1 89 1 255 1 58 1-201 1-102 1-5 1 55 1-111 1 267 1-282 1 219 1-96 1-18 1-46 1 244 1-172 1 18 1 8 1 226 1-196 1-52 1 189 1-166 1-98 1 60 1 4 1 6 1-430 1 551 1-171 1 55 1 32 1-65 1 6 1 175 1-203 1 21 1-25 1 21 1-12 1 154 1-135 1 125 1-125 1 63 1-139 1 157 1-392 1 452 1-91 1-64 1 76 1 127 1-249 1 37 1-101 1 388 1-272 1 257 1-303 1 279 1-180 1-70 1 84 1 104 1-134 1 125 1-174 1 67 1-209 1 196 1-149 1 238 1 335 1-448 1 8 1 93 1 26 1-135 1 445 1-375 1-53 1-121 1 139 1 206 1-191 1-172 1 441 1-109 1 269 1-185 1-98 1 136 1 294 1-481 1-40 1-242 1 190 1 218 1-224 1-91 1 74 1 364 1-301 1-164 1 212 1 301 1-279 1-108 1 15 1-179 1 107 1 519 1-407 1 61 1-19 1-255 1 192 1 88 1 176 1-337 1 145 1 331 1-375 1 11 1-38 1-22 1 69 1-41 1 63 1 173 1 26 1-174 1 102 1-40 1-117 1-24 1 519 1-550 1 239 1-231 1 59 1-161 1 40 1 49 1 3 1-28 1-205 1 151 1 3 1 238 1-49 1-208 1 93 1-112 1 330 1-313 1 1 1 129 1-120 1-60 1 75 1 203 1-235 1 58 1-64 1-35 1 61 1 81 1-92 1 202 1-328 1 70 1 130 1-22 1 50 1-108 1 6 1 29 1-114 1 76 1-5 1-31 1 57 1-79 1 48 1 16 1 18 1 223 1 24 1-304 1 132 1-23 1 326 1-329 1-17 1 249 1-248 1 132 1-165 1 259 1-526 1 382 1-65 1 264 1-268 1 108 1-93 1 276 1 258 1-374 1-126 1 201 1-180 1 200 1-261 1 247 1-143 1 138 1-58 1-229 1 9 1 163 1-131 1 120 1 28 1-185 1 169 1-35 1-69 1-12 1-72 1 164 1-228 1 155 1 25 1 86 1-307 1 289 1-110 1 124 1-144 1-21 1-76 1 357 1-157 1-183 1 107 1-68 1 275 1-262 1 124 1-198 1 174 1 110 1-270 1-35 1-64 1 141 1 38 1 153 1-151 1-45 1 139 1-177 1-74 1 252 1-243 1 256 1-147 1 23 1 60 1-163 1 181 1 32 1-37 1-14 1-110 1 177 1 63 1-167 1 42 1-21 1-226 1 351 1-149 1 49 1-109 1 81 1 25 1 100 1-153 1 20 1-186 1 157 1-52 1 112 1-75 1 141 1-32 1 63 1 74 1-229 1 4 1 29 1 111 1-99 1 77 1-56 1-36 1-87 1 328 1-253 1 336 1-308 1 88 1-116 1 28 1 13 1-171 1 166 1-241 1 395 1-281 1 187 1 121 1-265 1 104 1 146 1-140 1 115 1 118 1-215 1-9 1 245 1-242 1 202 1-596 1 298 1 44 1 73 1 76 1 198 1-454 1 50 1 106 1-14 1-444 1 513 1 144 1-264 1 163 1 45 1 49 1-155 1-48 1-58 1 25 1 271 1 87 1-92 1 139 1-375 1-3 1 156 1-545 1 614 1-484 1 495 1-181 1 13 1-120 1 277 1-77 1 67 1 10 1-223 1-339 1 532 1-245 1 64 1 26 1 199 1-111 1-274 1 56 1 246 1-276 1 59 1 93 1 7 1-64 1 196 1-136 1-65 1 77 1-128 1 203 1-50 1-182 1 162 1 26 1-184 1 341 1-343 1-179 1 429 1-300 1 323 1-160 1-94 1 62 1 205 1-228 1-57 1 429 1-274 1-91 1-137 1 109 1 288 1-268 1 283 1-364 1 34 1 151 1-266 1 237 1 244 1 75 1-203 1-184 1-13 1 42 1-165 1 381 1-211 1 34 1-104 1 63 1-38 1 119 1 43 1-197 1-38 1 214 1-111 1-17 1 226 1-297 1 235 1-2 1-149 1-194 1 529 1 4 1 16 1-306 1 151 1-134 1 214 1-412 1 146 1 192 1-217 1 164 1-134 1 134 1 151 1-275 1 258 1-215 1 192 1-197 1 143 1-136 1 53 1-10 1-305 1 568 1-402 1 244 1-149 1-103 1-92 1 47 1 16 1 307 1-231 1 34 1-193 1 563 1-551 1 69 1 334 1-15 1-48 1-186 1 192 1-22 1 81 1-88 1-37 1-47 1-22 1-326 1 514 1-142 1-187 1 45 1 58 1 10 1 187 1-249 1 153 1-125 1 254 1-335 1 2 1 322 1-348 1 87 1 7 1-29 1-53 1 81 1-145 1 50 1 68 1 116 1 82 1-464 1 353 1 118 1-166 1 68 1-155 1 63 1 187 1-281 1 228 1-100 1 4 1-18 1-138 1-91 1 360 1 110 1-231 1-432 1 542 1-465 1 270 1 144 1-155 1-31 1 139 1-18 1-31 1 44 1 93 1 123 1-54 1-105 1 113 1-125 1 120 1-105 1-92 1 72 1 67 1-61 1-45 1 295 1-215 1-47 1-94 1 109 1 16 1-37 1 123 1-104 1-15 1 1 1-58 1 53 1 63 1-290 1 132 1 148 1-88 1-231 1 181 1 130 1-133 1 153 1 134 1-88 1-190 1-282 1 324 1 166 1-17 1-168 1 68 1 4 1 136 1-109 1 84 1-78 1 85 1-120 1-84 1 46 1 164 1-214 1 299 1-232 1 94 1-98 1 213 1-276 1 6 1 119 1 123 1-351 1 293 1-143 1 161 1-61 1-7 1 50 1-322 1 214 1-219 1 526 1-152 1-287 1 214 1-320 1 253 1 35 1 2 1-101 1 86 1-387 1 289 1 1 1-23 1 168 1 69 1 251 1-368 1 153 1-95 1-279 1 312 1-176 1-87 1 348 1-91 1-273 1-31 1 136 1 184 1-161 1 95 1-68 1-37 1 39 1 91 1-580 1 549 1-29 1-169 1 98 1 52 1-335 1-111 1 169 1 22 1 243 1 80 1-465 1 311 1-128 1 292 1 59 1-47 1-391 1 305 1 137 1-532 1 209 1 161 1 51 1 8 1 164 1-161 1-278 1 218 1-205 1 107 1-28 1 234 1-345 1 174 1-116 1 38 1-18 1-50 1 95 1 65 1-176 1 118 1-33 1 272 1-261 1 257 1-223 1-262 1 222 1-263 1 424 1-133 1 5 1 221 1-106 1-322 1 14 1 83 1 301 1-175 1 93 1-44 1-39 1-224 1 151 1 212 1-147 1 285 1-264 1 91 1-515 1 348 1 86 1-272 1 297 1 37 1-680 1 680 1 94 1 105 1-400 1-42 1 116 1 363 1 61 1-689 1 328 1 4 1-174 1 249 1 134 1-119 1-21 1-85 1-110 1-226 1 358 1 88 1-103 1-40 1 128 1-138 1 86 1-448 1 493 1-45 1 58 1-233 1 47 1-78 1 192 1 71 1-489 1 457 1-218 1 98 1 44 1 57 1-471 1 324 1 168 1-369 1 535 1-216 1 46 1-292 1 518 1-395 1 159 1-382 1 281 1 158 1-88 1 39 1 34 1-292 1 256 1-367 1 300 1-193 1 103 1-223 1 375 1-240 1 275 1 26 1-173 1 20 1 35 1-211 1 242 1-286 1 257 1-177 1 194 1-94 1 127 1-108 1-73 1 120 1 106 1-89 1 46 1-77 1 1 1 153 1-184 1 96 1-376 1 228 1 418 1-566 1 362 1-362 1 58 1 245 1 11 1 89 1-109 1 99 1 267 1-482 1 26 1 221 1-219 1 243 1-226 1 87 1 82 1-302 1 167 1-53 1 199 1-113 1-99 1 4 1 109 1-306 1 222 1 100 1 105 1-340 1 238 1-77 1 398 1-549 1 211 1-85 1 37 1-60 1 97 1 61 1-578 1 719 1-181 1 166 1-197 1-133 1 195 1 52 1-107 1-140 1 126 1 140 1-10 1 24 1-81 1 225 1-865 1 769 1-186 1 308 1-391 1-34 1 211 1-197 1 118 1 151 1-158 1 39 1 21 1-313 1 290 1-228 1 186 1 310 1-329 1-229 1 85 1 128 1-108 1 303 1-82 1 218 1-169 1-84 1-61 1-191 1 158 1 42 1-118 1 73 1-155 1-44 1 250 1-131 1-210 1 431 1-199 1-192 1 632 1-542 1 40 1 130 1-32 1 177 1-196 1 200 1 87 1-203 1-41 1-216 1 146 1-42 1 97 1-87 1 25 1-105 1 149 1 177 1-274 1 219 1-192 1 120 1 60 1-84 1-150 1 229 1-51 1 172 1-302 1 77 1 49 1-27 1 167 1-60 1 473 1-449 1-66 1 184 1-3 1-83 1-74 1 58 1-180 1 277 1 176 1-498 1 554 1-336 1-60 1-56 1 52 1 102 1-105 1-193 1 153 1 153 1-6 1-40 1-127 1-100 1 169 1 29 1-102 1-189 1 15 1 323 1-90 1-238 1 163 1-162 1 199 1 97 1-164 1-126 1 9 1 238 1-108 1-84 1 140 1-156 1 139 1 2 1 53 1-207 1 215 1 6 1-15 1-85 1-96 1 75 1-80 1 243 1-511 1 446 1 292 1-265 1-14 1 411 1 51 1-629 1 322 1-198 1 370 1-82 1-461 1 95 1 44 1-106 1 402 1-311 1 32 1-151 1 96 1-88 1-54 1 248 1-258 1 485 1-346 1 9 1 33 1 68 1-114 1 210 1-279 1 378 1-298 1-62 1 228 1-357 1 48 1-37 1 251 1 99 1-77 1 192 1-275 1-17 1 61 1 21 1-150 1 406 1-64 1-338 1 123 1 195 1 149 1-60 1-12 1-467 1 414 1 129 1-295 1-215 1 338 1-1 1-6 1-23 1-343 1 239 1 127 1-169 1 36 1-195 1 159 1-131 1 192 1-196 1 173 1-63 1 11 1 183 1-128 1-93 1-109 1 311 1-17 1 11 1-20 1-1 1-110 1 234 1-57 1-206 1-1 1 34 1 10 1-158 1 173 1-132 1 83 1 249 1-274 1 148 1 231 1-78 1-219 1 136 1-156 1-77 1 120 1-66 1 177 1-173 1 210 1 80 1-180 1 204 1-252 1 250 1 16 1-342 1 324 1-299 1 182 1-44 1 377 1-520 1 186 1-209 1 85 1 110 1-10 1-95 1-18 1-28 1 130 1-144 1 62 1 46 1-132 1 198 1-317 1 268 1-80 1-40 1 27 1 25 1 8 1 61 1-25 1-157 1 1 1 70 1 52 1 36 1-61 1 22 1-394 1 406 1-59 1 56 1 86 1-247 1 143 1-97 1 155 1-38 1-14 1-54 1 173 1-294 1 139 1 14 1 97 1-201 1 95 1-138 1 123 1 77 1-149 1 240 1-691 1 740 1 117 1-393 1 261 1 5 1 39 1-272 1 130 1-244 1 70 1 297 1-119 1 102 1-35 1-144 1 264 1 1 1-169 1 98 1-55 1-119 1 15 1 74 1 229 1-158 1-187 1 213 1-346 1 224 1-109 1 135 1 172 1-79 1-408 1 256 1-214 1 264 1-155 1 180 1 100 1-236 1 330 1-142 1-183 1 86 1 37 1-140 1 333 1-340 1-114 1 312 1-300 1 287 1-180 1 125 1-317 1 232 1-118 1 98 1 150 1 39 1-323 1 341 1-220 1 38 1-32 1 154 1-373 1 290 1-73 1 222 1-430 1 267 1 20 1-45 1 46 1 97 1-109 1-69 1 11 1-32 1 198 1 46 1-197 1 13 1-39 1 28 1-16 1 66 1 343 1-372 1 400 1-297 1-184 1 181 1-25 1 11 1-353 1 210 1 187 1-63 1-152 1 17 1 220 1-231 1 110 1-110 1 1 1 213 1-266 1-3 1-319 1 390 1-201 1 369 1 7 1 149 1-366 1 139 1-124 1-42 1 106 1-87 1 32 1 322 1-492 1 250 1-45 1-14 1-170 1 148 1-387 1 337 1 155 1 43 1-583 1 386 1-358 1 723 1-308 1 288 1-598 1 782 1-453 1 240 1-267 1-14 1 69 1-19 1 180 1 114 1-281 1-59 1 87 1-46 1 181 1 26 1 137 1 104 1-325 1-107 1 217 1-91 1-278 1 73 1 409 1-124 1-223 1-6 1 102 1 98 1-35 1-214 1 37 1 137 1 12 1-26 1-213 1 42 1 153 1-73 1 11 1-44 1 66 1 150 1-238 1 21 1-71 1 310 1-164 1 37 1-82 1 100 1-264 1 283 1-106 1-83 1-76 1 169 1 7 1 79 1 3 1-137 1 326 1-211 1 18 1 2 1 147 1-109 1-6 1-20 1-182 1 173 1-101 1 76 1-13 1 4 1 16 1 61 1-20 1-301 1 495 1-204 1 276 1-343 1-126 1 124 1 10 1-227 1 358 1-110 1-132 1-70 1 15 1 138 1-42 1-243 1 195 1-134 1 298 1-114 1 248 1-304 1-51 1 119 1-321 1 87 1 229 1-69" fill="none" stroke="#0072BD" stroke-width="0.45" stroke-linejoin="round" vector-effect="non-scaling-stroke"/></svg>
<rect x="395.1" y="23.5" width="141.0" height="63.9" fill="none" stroke="#262626" stroke-width="0.62"/>
<path d="M442.10,87.4v-1.4M442.10,23.5v1.4M489.10,87.4v-1.4M489.10,23.5v1.4M395.1,55.45h1.4M536.1,55.45h-1.4" stroke="#262626" stroke-width="0.7" fill="none"/>
<text x="396.70" y="98.40" font-size="8.7" text-anchor="middle" fill="#262626">0</text>
<text x="443.70" y="98.40" font-size="8.7" text-anchor="middle" fill="#262626">2000</text>
<text x="490.70" y="98.40" font-size="8.7" text-anchor="middle" fill="#262626">4000</text>
<text x="537.70" y="98.40" font-size="8.7" text-anchor="middle" fill="#262626">6000</text>
<text x="394.00" y="26.55" font-size="8.5" text-anchor="end" fill="#262626">5</text>
<text x="394.00" y="58.70" font-size="8.5" text-anchor="end" fill="#262626">0</text>
<text x="394.00" y="91.15" font-size="8.5" text-anchor="end" fill="#262626">-5</text>
<text x="451.00" y="110.90" font-size="10.2" fill="#262626" style="stroke-width:0.1px">Epoch/s</text>
<text transform="translate(385.90,55.55) rotate(-90)" font-size="9.6" text-anchor="middle" fill="#262626" style="stroke-width:0.2px">E/mm</text>
<text x="470.20" y="13.2" font-size="12" text-anchor="middle" fill="#000" style="stroke:#000;stroke-width:0.1px">ICEEMDAN-AWPTD</text>
<svg x="19.5" y="121.5" width="141.0" height="63.9" overflow="hidden"><path transform="scale(0.035259,0.04)" d="M0 669l1 361 1-538 1 149 1-151 1 180 1 73 1 286 1-462 1 139 1-203 1 633 1-679 1 336 1-101 1 128 1-291 1 127 1-154 1 123 1 67 1-54 1 0 1 4 1-95 1 30 1 403 1-387 1 143 1-66 1-409 1 642 1-358 1 79 1 115 1 179 1-224 1 20 1-188 1 243 1 30 1 24 1-289 1 396 1-458 1 349 1-674 1 790 1-241 1 167 1 9 1-79 1 71 1 7 1-14 1-26 1-800 1 941 1-950 1 960 1-415 1 277 1-711 1 603 1-358 1 316 1-192 1 319 1 9 1 5 1-30 1-113 1 222 1-199 1 158 1-213 1 432 1-333 1 36 1-36 1-511 1 329 1 185 1-26 1 261 1-355 1 331 1-391 1 192 1-253 1 789 1-490 1-69 1-108 1-58 1 207 1 449 1-270 1-323 1 193 1-754 1 454 1 372 1 67 1-24 1-185 1 196 1 95 1 319 1-464 1 18 1-204 1 312 1-9 1-295 1 364 1 129 1-159 1-142 1 278 1-246 1 235 1-173 1-213 1-607 1 573 1-267 1 390 1-196 1 280 1-585 1 890 1-681 1 643 1-509 1 10 1-287 1 298 1-88 1 560 1-512 1 49 1-54 1 21 1 43 1 151 1-121 1 144 1-13 1-47 1 1 1-74 1-228 1 75 1 397 1-289 1 337 1-225 1-54 1-83 1 12 1-79 1 43 1-52 1 149 1 108 1-168 1-142 1 65 1 225 1 101 1-359 1 226 1-162 1 119 1-135 1-104 1 78 1 91 1-22 1 218 1-273 1 114 1-62 1 215 1-349 1 66 1-87 1 77 1-20 1 455 1-358 1 508 1-569 1 227 1-326 1 705 1-476 1-72 1 7 1 70 1-186 1 145 1-194 1 243 1-133 1-120 1 210 1-351 1 180 1 264 1-299 1 259 1-75 1 55 1-189 1 190 1-86 1 38 1-74 1-185 1 147 1 44 1-80 1 78 1 14 1-180 1-18 1 9 1 280 1 185 1-431 1 169 1-67 1 369 1-441 1 109 1-91 1-293 1 251 1 533 1-335 1-254 1 14 1 89 1-28 1 68 1-95 1 81 1-53 1 222 1 42 1-109 1-125 1-50 1 77 1 114 1-112 1 332 1-170 1 512 1-405 1-591 1 469 1-258 1 457 1-447 1 452 1-53 1-203 1 121 1-103 1 298 1-172 1-185 1-7 1 238 1-148 1-88 1-91 1-420 1 410 1-76 1 263 1 603 1-584 1-93 1 73 1 695 1-936 1 115 1 104 1-28 1-39 1 217 1-14 1-102 1 169 1-264 1 170 1 67 1 38 1-436 1 236 1-34 1 194 1-253 1-67 1 450 1-305 1-204 1 300 1-136 1 86 1 273 1-239 1 516 1-448 1 493 1-624 1 38 1 158 1-169 1-13 1 97 1 118 1-160 1 262 1-391 1 62 1-239 1 443 1 44 1 47 1-332 1 170 1-91 1-80 1 13 1 235 1-643 1 498 1 201 1-39 1-198 1 51 1 245 1-402 1 325 1-367 1 39 1-88 1-343 1 311 1 213 1 66 1-306 1-43 1-200 1 326 1 36 1 258 1-290 1-27 1 115 1 135 1-239 1-13 1-217 1 410 1-602 1 482 1-94 1 285 1-196 1-176 1 246 1 50 1-1 1-73 1-7 1 186 1-176 1 217 1-164 1-64 1-210 1 403 1-419 1 222 1 183 1-119 1 141 1-158 1 97 1-192 1 385 1-107 1-92 1 112 1-478 1 363 1 6 1 174 1-117 1 56 1-32 1 6 1-221 1 102 1 91 1 133 1-4 1-201 1 275 1-75 1-310 1 186 1-53 1-34 1 133 1 23 1 37 1-170 1-166 1 133 1-147 1 271 1-203 1 54 1-329 1 482 1-150 1 178 1-104 1-94 1 57 1 66 1-99 1-43 1-86 1 71 1 114 1-124 1 147 1-184 1-133 1 397 1-187 1 74 1 143 1-274 1 81 1 43 1 135 1 23 1 125 1-145 1-104 1 27 1-34 1 22 1 305 1-249 1 284 1-443 1-272 1 194 1 306 1-314 1 139 1 102 1-34 1 92 1-176 1-208 1 169 1 156 1-192 1-162 1 231 1 109 1-30 1-224 1 60 1 57 1 6 1 182 1-282 1 98 1-19 1-48 1-127 1 185 1 189 1-234 1-75 1 172 1 73 1-60 1-40 1 0 1 3 1-21 1-38 1-25 1 20 1 113 1-312 1 256 1-166 1 359 1-401 1 22 1 410 1-186 1 324 1-405 1 461 1-492 1 246 1-303 1-3 1 87 1-172 1 29 1 221 1-107 1 87 1 25 1-77 1-142 1-115 1 160 1 45 1-13 1-108 1-26 1 235 1-37 1-227 1 122 1 69 1 52 1-314 1 262 1 52 1 42 1 3 1-111 1-411 1 493 1 434 1-565 1 207 1-105 1 108 1-70 1 139 1-281 1 203 1-15 1 23 1-235 1 293 1-143 1 91 1-244 1 94 1 18 1 239 1-192 1 36 1-34 1 4 1-126 1-42 1 139 1 130 1-185 1 55 1-45 1 173 1-149 1-58 1 7 1-85 1 106 1 27 1-77 1 101 1-75 1 140 1-119 1-43 1-50 1 290 1-112 1 16 1 26 1-99 1-93 1 24 1 92 1 74 1-376 1 244 1-99 1 157 1-187 1-32 1 27 1-124 1 49 1 275 1-14 1-213 1-19 1 586 1-451 1-152 1 141 1 142 1 111 1-194 1-1 1-21 1-20 1 364 1-14 1-41 1 42 1-23 1-322 1 227 1-149 1-83 1-134 1 336 1 35 1-146 1-169 1 227 1 117 1-131 1 22 1-13 1-239 1 239 1 207 1-11 1-345 1 147 1-57 1 109 1-269 1-95 1 30 1 93 1-122 1 333 1-390 1-62 1 84 1 155 1-145 1 202 1-100 1-358 1 303 1 251 1-8 1-22 1-32 1-13 1-205 1 131 1-44 1 111 1 140 1 237 1-126 1-312 1 48 1 146 1 178 1 124 1-390 1 246 1-257 1 314 1-69 1-177 1 30 1 58 1 32 1 301 1-304 1 244 1-388 1 278 1-202 1 123 1-40 1-79 1-86 1-64 1 0 1-7 1 0 1-50 1 228 1-258 1 313 1 34 1-193 1-147 1-41 1 98 1-94 1 283 1-340 1 113 1-98 1-49 1 10 1-60 1 61 1 96 1-1 1 0 1-48 1 47 1-77 1 114 1-102 1-141 1 170 1 218 1 174 1-140 1-143 1 85 1 211 1-298 1 466 1-392 1-135 1 183 1-262 1 589 1-564 1 516 1-308 1 5 1 16 1 279 1-262 1 249 1-135 1-8 1-213 1 5 1-156 1 208 1-154 1 607 1-385 1-129 1-8 1-93 1-52 1-99 1 100 1-25 1 103 1 243 1-386 1 353 1-290 1 148 1-211 1 417 1-2 1-231 1-41 1 241 1-366 1 139 1-109 1 40 1 241 1-64 1 108 1-132 1-3 1-203 1 238 1-113 1 136 1-121 1 99 1-36 1-55 1-110 1 255 1-373 1 244 1 127 1-174 1 226 1-49 1 101 1-174 1 214 1-129 1 48 1-112 1 223 1-372 1 509 1-490 1 56 1-157 1-13 1 174 1 322 1-331 1 78 1 122 1-306 1 73 1-52 1 221 1-109 1-115 1 398 1-360 1 101 1 43 1-10 1-118 1 83 1 31 1 23 1-55 1 129 1-103 1-65 1 74 1-107 1 19 1-56 1-52 1-250 1 314 1-10 1-22 1 140 1 75 1-244 1 61 1 185 1-171 1 62 1-55 1 67 1 16 1 78 1-73 1 229 1-138 1 21 1-21 1 116 1-306 1-16 1 55 1 89 1-1 1-253 1 283 1-27 1-43 1-50 1 74 1-80 1 177 1-368 1 363 1 52 1-75 1 6 1-121 1 223 1-135 1 18 1 27 1-132 1 148 1 158 1-356 1 233 1-172 1 267 1-277 1 469 1-518 1 143 1-107 1 297 1-82 1-189 1 122 1 9 1-81 1 20 1-17 1 38 1 119 1-270 1 214 1-111 1 32 1-126 1 226 1 192 1-305 1 57 1-7 1 81 1-49 1 376 1-201 1-117 1 16 1 96 1-146 1 321 1-382 1-13 1-148 1 110 1-4 1-37 1 194 1-132 1-122 1 134 1 115 1 136 1-403 1-319 1 307 1 273 1 79 1-111 1 85 1-239 1-173 1 121 1 200 1 209 1-244 1-165 1 5 1 150 1-206 1 87 1-125 1 216 1-198 1 67 1 15 1 14 1-144 1 144 1 157 1-102 1 98 1-174 1-91 1 128 1 171 1-163 1-65 1 147 1 112 1-153 1-11 1 108 1-66 1 184 1-34 1-136 1-2 1-74 1 60 1 267 1-499 1 396 1-35 1 134 1-273 1 121 1-162 1 68 1-381 1 177 1 195 1 125 1-254 1-382 1 171 1 253 1-226 1 310 1 25 1-4 1 2 1-173 1 224 1-156 1 289 1-381 1 359 1-6 1-14 1-251 1 279 1-211 1 63 1-144 1 260 1-5 1-232 1 108 1-29 1-6 1-25 1-14 1 230 1-528 1 291 1 257 1-59 1-280 1 39 1-163 1 195 1 50 1 35 1-71 1-42 1-110 1 218 1-9 1-164 1 3 1 52 1-70 1 45 1 480 1-140 1-295 1 3 1 432 1-525 1 199 1 200 1-228 1-111 1-215 1 247 1-337 1 297 1 46 1 0 1 13 1-90 1 238 1-97 1-173 1 67 1 8 1 182 1-135 1 75 1 5 1-2 1 177 1-165 1-29 1 189 1-355 1 183 1-453 1 580 1-138 1 74 1-297 1 119 1-128 1 122 1 190 1-219 1-32 1 197 1 286 1-363 1 493 1-457 1-34 1-87 1 116 1 85 1-428 1 429 1-272 1 201 1-338 1 271 1 91 1-86 1 57 1-80 1 387 1-204 1-401 1 367 1-318 1 146 1 47 1-69 1-478 1 538 1 22 1 91 1 140 1-244 1 100 1-8 1-11 1-8 1 35 1-75 1 247 1-113 1 262 1-258 1-476 1 476 1-256 1 173 1 0 1 8 1-479 1 562 1-34 1 73 1 177 1-329 1-69 1 64 1 206 1-198 1-7 1 80 1 69 1-279 1-197 1 239 1-397 1 467 1-175 1 79 1 16 1 151 1 212 1-455 1 255 1-269 1 147 1-77 1-63 1 188 1-433 1 151 1 24 1 173 1-9 1-236 1 295 1-175 1 72 1-57 1 15 1-127 1-325 1 493 1 182 1-352 1 263 1-167 1 9 1-18 1 207 1-178 1 121 1-128 1 132 1 251 1-279 1 107 1 58 1-267 1 55 1 43 1-258 1 611 1-401 1 201 1-111 1 136 1-303 1 105 1 8 1 98 1 92 1-5 1 88 1-201 1 599 1-622 1 412 1-211 1 151 1-356 1 276 1-108 1-302 1 207 1 209 1-299 1 553 1-564 1 122 1-194 1 222 1 41 1-40 1-1 1-123 1-51 1 411 1-243 1-52 1-83 1 9 1 45 1 17 1-50 1-10 1 91 1-155 1 168 1-231 1 207 1 4 1-99 1-177 1 318 1-147 1-83 1 223 1-183 1-53 1 276 1-78 1-113 1 188 1-226 1 85 1 108 1 104 1-239 1-146 1 66 1 41 1-26 1 0 1 172 1-132 1-70 1 19 1 111 1-111 1 141 1 427 1-378 1-11 1-168 1 36 1 244 1-186 1-61 1-18 1-3 1 108 1-95 1 374 1-412 1 50 1 111 1-251 1 261 1-132 1-57 1 449 1-345 1-45 1-65 1 12 1 89 1-182 1 223 1 37 1 48 1-337 1 315 1-135 1-102 1 189 1-210 1 806 1-807 1 135 1-7 1-41 1 64 1-149 1 99 1-1 1-27 1 55 1-15 1 206 1-205 1 106 1-94 1 175 1-24 1 193 1-212 1 237 1-271 1 113 1-114 1 403 1-433 1 35 1-83 1 144 1-119 1 253 1-150 1 585 1-681 1 123 1-110 1 122 1-127 1 113 1-60 1-381 1 274 1 142 1-46 1 129 1-54 1 349 1-517 1 50 1 389 1-330 1-15 1-267 1 168 1 80 1-51 1 243 1-346 1-58 1 574 1-111 1-362 1-61 1 178 1-376 1 559 1-519 1 564 1-687 1 816 1-316 1-141 1-16 1 344 1-602 1 507 1-5 1-129 1 35 1 23 1-240 1 113 1-165 1 481 1-677 1 452 1 49 1-262 1-37 1-14 1 430 1 34 1-236 1-88 1 83 1-194 1 307 1-100 1-79 1 46 1-30 1 320 1-434 1 268 1 48 1-251 1 146 1-53 1-87 1 118 1-327 1 459 1-536 1 579 1 72 1-369 1 283 1-324 1-20 1 148 1-242 1 193 1 67 1-81 1 114 1 132 1-167 1 104 1-97 1 51 1-74 1 175 1-419 1 445 1-117 1-61 1 208 1-18 1-105 1-167 1 234 1-242 1-84 1 115 1-211 1 291 1-96 1 491 1-721 1 252 1 108 1-125 1 150 1-124 1-191 1 172 1-143 1 395 1-86 1 385 1-522 1 269 1 29 1-245 1 6 1 35 1 138 1-156 1 245 1-240 1-196 1 361 1-153 1 353 1-535 1 494 1-337 1-173 1 398 1-380 1 300 1-73 1 139 1-82 1-366 1 83 1 266 1-188 1 470 1-125 1-174 1 96 1-329 1 554 1-729 1 507 1 28 1-385 1 345 1-187 1 100 1 10 1-105 1-59 1-210 1 206 1 125 1-41 1 12 1-214 1 523 1-470 1 472 1-377 1 100 1-107 1 202 1-11 1 125 1-168 1-45 1-239 1 269 1-130 1 340 1-543 1 356 1-231 1 150 1-172 1 120 1-25 1 130 1-283 1-34 1 244 1-312 1 328 1-94 1-258 1 47 1 62 1 7 1 59 1-98 1 71 1 68 1 60 1-154 1-7 1 235 1-53 1 56 1-23 1-147 1 120 1-80 1 20 1 5 1 65 1 68 1-379 1 150 1 167 1 1 1-286 1 211 1 78 1 147 1-188 1 175 1-208 1 424 1-259 1-95 1-348 1 217 1 222 1-144 1 61 1-153 1-154 1 339 1-54 1-39 1-7 1 62 1-140 1 76 1-75 1 111 1 0 1 69 1-53 1-197 1 230 1-109 1-38 1 0 1-151 1 132 1 31 1-62 1 78 1-8 1-127 1 76 1 154 1-67 1-14 1 89 1-172 1 89 1 63 1-308 1 216 1 51 1-138 1 28 1 3 1 209 1-185 1 73 1 22 1-35 1 76 1-111 1 69 1-5 1 103 1-169 1 5 1 110 1-62 1 306 1-170 1-100 1 28 1-192 1 290 1 117 1-234 1 373 1-374 1 90 1 12 1 201 1-262 1 5 1 22 1-206 1 213 1-295 1 143 1 669 1-540 1-127 1 100 1-46 1 59 1-311 1 231 1 54 1-78 1 5 1 92 1 57 1-132 1-74 1 0 1 384 1-364 1 118 1-174 1 143 1 3 1 196 1-74 1-55 1-244 1 346 1-342 1 476 1-172 1-172 1 68 1-29 1-163 1 183 1-99 1 133 1 74 1-112 1-87 1-120 1 326 1-565 1 305 1-92 1 135 1-39 1 53 1-80 1 13 1-233 1 236 1-325 1 278 1 228 1-256 1 410 1-378 1-357 1 471 1 11 1-69 1-53 1 119 1 271 1-207 1 105 1-81 1 56 1-86 1 98 1-128 1 266 1-186 1 163 1-167 1 98 1-98 1 108 1-24 1-58 1-156 1 262 1-40 1 61 1-141 1 129 1-159 1-15 1-60 1 210 1-54 1-253 1 16 1 78 1 26 1-245 1 223 1 140 1-54 1-19 1 96 1-43 1-116 1 123 1-175 1 188 1-271 1 240 1-103 1 135 1-261 1 160 1 85 1-412 1 564 1-104 1 63 1-210 1-131 1 315 1-69 1-229 1 381 1-44 1-243 1 190 1 51 1-54 1-29 1 58 1-4 1-40 1-335 1 290 1-93 1-250 1-92 1 377 1 127 1-60 1-127 1 130 1-135 1 106 1 12 1-235 1 149 1-10 1 64 1 3 1-331 1 164 1-10 1 76 1 156 1-27 1 151 1-349 1 99 1-77 1 195 1-178 1 154 1 165 1-114 1-96 1-11 1 44 1 39 1-18 1 214 1-633 1 543 1-241 1 198 1-283 1 376 1-127 1-99 1 124 1-46 1 78 1-213 1 171 1-40 1-129 1 181 1-121 1 9 1 47 1 131 1-405 1 200 1-69 1 401 1-296 1 111 1-161 1-6 1-35 1 120 1-96 1 1 1 49 1 263 1-193 1 161 1-190 1-75 1 36 1 5 1 16 1-2 1 51 1-111 1 104 1-8 1 37 1-181 1 241 1 24 1-176 1 162 1-223 1 185 1-220 1-28 1-345 1 446 1-141 1 102 1 35 1-55 1 88 1 41 1-88 1 122 1-52 1-118 1 119 1-60 1 70 1-160 1 221 1-174 1 139 1-61 1-1 1-49 1 147 1-121 1 55 1-5 1 57 1 27 1-24 1 43 1-42 1-39 1 101 1-176 1 142 1-64 1 85 1-130 1 29 1-60 1 81 1-125 1 125 1 26 1-9 1-163 1 156 1-208 1 176 1-152 1 209 1-79 1-285 1 134 1-7 1-73 1 83 1 127 1-124 1-75 1 183 1-136 1 105 1-63 1 323 1-214 1 24 1-250 1 160 1-31 1 31 1 38 1-6 1-215 1 251 1-295 1 460 1-201 1-22 1 69 1-13 1 18 1-58 1-11 1-28 1 159 1-24 1-25 1 9 1-60 1-68 1-55 1 0 1-144 1 175 1-176 1 322 1 21 1-30 1-214 1 29 1-168 1 203 1 71 1 52 1-80 1-128 1-173 1 299 1 123 1-95 1 38 1-186 1 218 1-171 1-83 1 471 1-588 1 662 1-343 1 198 1-167 1-125 1-121 1 297 1-47 1-84 1-167 1 264 1 31 1-119 1 143 1-47 1-71 1-172 1-32 1 328 1-97 1 157 1-398 1 496 1-252 1 49 1-5 1 378 1-362 1-316 1 468 1-692 1 464 1-127 1 111 1 193 1-1 1-319 1 406 1 61 1-62 1-125 1-277 1 257 1-316 1-168 1 420 1-426 1 259 1 17 1-49 1 277 1 106 1-312 1 264 1-411 1 213 1 417 1-301 1-12 1-100 1-76 1 94 1 36 1-131 1 292 1-186 1-153 1 50 1 83 1 135 1 3 1-214 1-266 1 398 1-85 1 55 1-42 1 117 1 254 1-391 1 238 1-306 1 370 1 44 1-1 1-69 1-87 1 185 1-292 1-126 1 321 1 103 1-438 1 109 1-295 1 312 1-168 1 167 1 18 1 1 1 108 1-78 1-5 1-29 1 235 1-60 1-66 1-58 1 353 1-358 1 2 1-218 1 282 1-42 1-335 1 340 1 55 1-285 1 348 1-366 1 110 1 68 1-585 1 496 1-54 1-65 1 141 1-265 1 40 1 70 1 131 1-54 1-9 1 94 1 61 1-117 1 241 1-193 1-458 1 448 1 188 1-110 1-462 1 448 1 8 1 30 1-86 1-18 1-202 1 310 1-159 1-65 1 216 1-85 1-58 1 116 1 2 1-367 1 545 1-419 1 257 1 3 1-198 1-99 1 6 1 286 1-183 1-68 1 163 1 109 1 28 1-388 1 497 1-170 1 177 1-206 1 106 1-428 1 417 1 69 1-186 1 34 1 65 1-2 1 221 1-152 1-26 1-169 1 271 1-218 1 47 1 121 1 39 1-27 1-128 1 71 1-274 1 274 1-20 1 68 1-99 1 104 1-283 1 226 1-526 1 217 1-85 1 174 1 79 1 45 1 25 1-118 1 372 1-257 1 254 1-362 1 72 1 0 1 519 1-496 1 37 1-71 1 36 1 11 1-130 1 55 1 24 1 5 1-100 1 102 1-22 1-26 1 119 1-35 1 241 1-374 1 19 1 196 1-537 1 594 1-314 1-141 1 322 1 146 1-64 1-215 1 533 1-420 1 190 1-306 1 622 1-714 1 66 1 0 1 143 1 5 1 149 1-255 1 180 1 102 1 202 1-153 1-226 1-17 1 67 1-194 1-130 1 187 1 175 1-53 1 143 1-233 1 161 1-227 1 123 1 173 1-44 1-127 1-87 1 38 1 66 1 63 1-21 1-150 1-5 1-22 1-60 1 404 1-701 1 287 1 140 1-100 1 363 1-68 1-89 1 17 1 84 1-234 1 167 1-108 1 60 1-220 1 334 1-15 1-20 1-126 1-11 1-159 1 105 1 28 1 72 1-246 1-320 1 327 1-148 1 368 1-162 1 69 1-96 1 181 1-13 1-143 1 434 1-218 1-281 1 348 1-45 1-292 1 348 1-140 1 5 1-210 1 242 1-183 1 210 1-167 1 222 1 67 1-166 1 210 1-115 1 136 1-163 1-107 1 172 1 27 1-61 1-29 1-61 1 4 1 74 1-139 1 293 1-140 1-44 1-8 1 37 1-88 1 145 1-18 1-1 1-117 1 205 1-238 1 162 1-180 1 447 1-276 1-15 1-141 1-75 1 224 1 149 1-265 1 82 1-52 1-251 1 234 1-161 1 264 1-75 1 129 1-293 1 231 1-103 1-223 1-4 1 334 1-201 1 119 1-90 1 172 1-113 1 104 1-221 1 1 1 59 1 68 1-4 1-9 1-35 1-190 1 227 1 52 1-31 1-189 1 108 1-96 1 184 1-7 1-13 1 111 1-37 1-5 1-204 1-346 1 114 1 444 1-84 1-12 1-40 1-412 1 566 1-117 1-284 1 25 1 259 1 13 1-26 1-171 1 488 1-205 1-54 1-308 1-103 1 476 1-92 1-168 1-92 1 245 1-105 1-62 1 81 1 71 1 60 1-174 1 24 1 96 1-282 1 358 1-193 1-187 1 282 1-101 1-127 1 201 1-59 1 105 1-137 1 19 1-84 1 241 1-115 1-118 1 149 1-15 1-18 1-341 1 409 1-290 1 272 1 49 1 51 1-224 1 477 1-687 1 726 1-618 1 594 1-237 1-53 1-22 1-47 1 136 1-513 1 538 1-247 1 48 1 205 1-401 1 67 1 40 1 222 1-547 1 339 1 20 1 93 1-400 1 163 1 207 1 64 1-412 1 285 1-112 1 380 1-72 1 155 1-292 1 372 1-589 1 733 1-867 1 278 1 60 1 144 1-220 1 127 1-272 1 783 1-484 1 333 1-387 1 243 1-213 1 407 1-533 1 220 1-260 1 625 1-459 1-128 1 173 1-99 1 123 1 117 1-281 1 84 1 81 1-237 1 179 1-46 1-53 1 129 1 105 1-124 1-51 1 74 1-77 1 516 1-687 1 836 1-467 1 32 1-140 1 514 1-696 1 269 1-57 1 11 1-184 1-57 1 193 1 45 1 0 1-154 1-116 1-7 1 277 1-106 1 9 1 47 1-162 1-92 1 361 1-106 1-108 1 109 1-91 1 88 1 30 1-32 1 55 1-448 1 525 1-33 1-25 1 117 1-177 1 91 1-280 1 292 1 28 1-7 1-11 1-10 1 37 1-85 1-189 1-26 1 309 1-14 1-330 1 355 1-273 1 177 1 69 1-111 1-25 1-156 1 190 1-66 1 113 1-153 1 52 1 91 1-91 1 107 1-84 1-35 1 52 1-72 1 223 1-106 1 119 1-74 1 62 1-173 1 110 1 58 1-64 1 30 1 87 1-44 1-29 1 28 1-91 1 47 1-75 1 84 1-20 1-79 1 113 1-85 1 62 1-228 1 207 1-63 1-87 1-88 1 137 1 43 1-96 1-31 1 74 1-215 1 39 1-42 1 110 1 46 1-142 1 72 1-170 1 100 1-43 1 180 1 24 1 192 1-346 1 141 1 9 1-189 1 33 1 176 1-87 1 122 1-66 1-186 1 55 1-36 1-63 1 100 1 133 1-25 1-238 1 442 1-327 1 102 1 59 1 24 1-127 1 187 1-168 1 245 1-213 1 54 1-104 1 474 1-466 1 313 1-303 1 264 1-224 1-13 1-58 1-216 1 259 1-66 1 58 1 158 1-90 1 112 1-213 1-28 1 24 1-321 1 305 1 67 1 440 1-415 1-14 1 277 1-364 1 292 1-57 1-140 1 146 1-119 1-160 1 233 1-27 1 10 1-72 1-91 1 17 1-151 1 184 1-31 1 163 1-327 1 115 1-159 1 87 1 3 1 20 1 64 1-114 1 143 1-137 1 209 1-96 1-76 1 92 1-219 1 275 1 160 1-412 1 111 1 133 1 5 1-144 1 153 1 36 1-147 1 13 1 103 1-120 1 229 1-174 1 196 1-88 1-17 1 76 1 25 1-122 1 132 1-54 1-106 1 214 1-153 1-11 1 109 1-17 1 1 1-133 1 136 1-87 1 201 1-78 1 268 1-391 1 92 1-92 1-66 1 1 1 9 1-44 1 146 1-262 1 306 1-9 1 39 1-152 1 179 1 108 1-299 1 57 1 86 1-121 1 392 1-263 1 2 1 25 1 141 1-6 1-539 1 253 1-230 1 450 1-312 1 125 1 59 1-46 1 61 1 117 1 43 1-202 1 114 1-208 1 352 1-53 1-98 1 12 1 6 1 53 1-28 1 18 1 109 1-38 1-327 1 279 1-219 1 86 1 7 1 117 1-297 1 266 1-34 1-205 1-2 1 78 1 99 1-94 1 60 1-225 1 186 1-122 1 33 1-77 1-175 1 55 1 225 1-161 1 115 1-61 1-84 1 126 1-22 1 30 1-197 1 141 1 137 1-291 1-81 1 293 1-351 1 272 1 167 1-211 1 92 1 48 1-72 1-129 1 248 1-49 1 144 1-330 1 6 1 228 1-218 1 178 1 127 1-64 1-251 1 396 1-85 1 126 1-52 1 0 1 18 1-53 1 138 1-160 1-120 1 255 1 83 1-20 1 121 1-125 1-95 1 122 1-164 1-7 1-34 1 171 1-175 1 166 1-70 1-102 1 38 1 147 1-248 1 292 1-344 1 194 1-13 1-53 1-87 1 159 1 290 1-403 1-275 1 261 1 137 1-116 1-33 1 229 1-181 1 70 1-284 1 163 1 106 1 134 1-249 1 250 1-195 1 56 1 127 1-164 1 79 1-45 1 16 1 4 1 19 1-23 1 61 1 129 1-299 1 162 1-27 1 238 1-303 1 89 1 161 1-201 1 59 1 182 1-154 1-60 1-11 1 179 1-460 1 282 1-249 1 229 1-113 1 30 1-39 1 61 1 29 1-53 1 146 1 50 1-16 1-148 1-135 1 286 1-70 1 42 1-34 1 85 1-504 1 541 1-134 1 126 1-264 1 235 1-61 1 94 1-368 1 206 1-112 1 21 1 158 1-122 1 135 1-181 1 120 1-46 1-12 1 133 1-698 1 514 1-93 1 22 1 211 1-67 1 2 1-90 1-520 1 577 1 80 1-182 1 105 1-142 1-139 1 212 1 97 1-192 1-76 1 190 1 26 1-33 1 170 1-212 1-181 1 239 1-370 1 299 1-452 1 371 1 250 1-204 1 370 1-261 1 238 1-301 1 177 1-262 1 91 1-43 1 188 1-298 1 157 1-170 1 8 1 125 1 9 1-70 1 367 1-203 1 68 1-32 1 119 1-255 1 5 1 116 1-31 1-97 1 2 1 50 1 96 1-143 1-467 1 529 1 21 1-64 1-461 1 506 1-664 1 588 1-341 1 326 1 122 1-69 1 267 1-240 1-334 1 498 1-454 1 379 1-190 1-144 1 180 1-29 1 279 1 35 1-215 1-124 1 327 1-90 1-146 1 235 1-45 1-133 1-340 1 221 1 63 1-33 1-419 1 263 1-161 1 379 1-142 1 221 1 212 1-307 1 184 1-61 1-118 1-49 1 115 1 132 1-229 1 170 1-106 1 161 1-317 1 14 1-24 1 281 1-270 1 274 1-84 1-30 1 128 1 70 1-93 1-23 1 99 1-344 1 107 1 107 1 144 1-79 1-209 1 215 1-100 1-20 1-48 1-22 1 147 1-33 1 13 1 93 1-423 1 320 1-32 1-59 1 1 1-4 1-21 1 205 1-7 1 70 1-245 1 118 1-43 1 110 1 156 1-396 1 284 1-247 1 223 1-153 1 349 1-337 1-144 1 149 1 372 1-402 1 121 1-16 1 206 1-260 1 127 1-126 1-463 1 400 1-162 1 276 1-279 1 235 1 35 1 60 1-72 1-46 1 188 1-224 1 55 1-38 1-224 1 246 1-75 1 82 1 177 1-199 1-247 1 149 1-519 1 603 1-160 1 94 1 380 1-425 1-41 1 114 1-2 1-119 1 159 1 61 1-400 1 322 1 153 1-249 1 253 1-185 1-133 1 60 1 304 1 106 1-526 1 207 1 93 1 160 1-529 1 663 1-175 1 152 1-344 1-76 1 10 1 214 1-379 1 306 1-14 1-92 1 247 1 25 1-77 1-558 1 499 1 138 1-219 1-280 1-55 1 243 1 309 1-145 1-165 1-83 1 146 1-211 1 297 1-66 1 135 1-348 1 169 1 186 1-166 1-58 1 201 1 8 1-206 1 164 1 4 1-172 1 162 1 51 1-53 1 62 1-337 1 307 1-69 1 120 1 477 1-576 1-63 1 94 1-117 1 0 1-118 1 145 1-229 1 198 1-234 1 158 1 142 1-237 1 177 1-121 1-19 1 104 1-8 1-219 1-153 1 361 1-109 1 2 1-48 1-52 1 165 1-8 1-358 1 271 1-70 1 198 1-62 1 180 1 432 1-711 1 476 1-333 1 502 1-534 1 9 1 28 1 181 1-325 1 51 1 164 1-256 1 231 1 11 1 43 1-159 1 99 1 155 1-190 1 360 1-464 1 297 1-331 1 727 1-781 1 162 1-168 1 277 1-8 1 58 1-203 1 109 1 134 1-18 1-330 1 143 1 191 1-338 1-31 1-202 1 310 1 257 1-61 1-209 1 17 1 72 1 188 1-214 1 188 1-41 1-195 1 275 1-287 1 75 1-75 1 181 1-303 1 270 1-262 1 138 1-111 1 553 1-460 1 405 1-133 1 2 1 82 1 404 1-695 1 486 1-250 1 43 1-191 1 483 1-363 1 31 1 79 1 54 1 31 1 132 1-221 1 36 1-478 1 55 1-19 1 204 1-259 1 400 1 161 1-229 1-421 1 532 1-379 1 195 1-129 1 156 1-16 1-36 1 23 1 130 1-82 1-9 1 8 1 139 1-50 1 160 1-479 1 353 1 4 1-187 1 179 1 27 1-360 1 19 1-123 1-2 1 16 1 307 1 24 1-161 1 100 1-512 1 503 1 80 1-165 1 81 1 145 1-86 1 58 1 158 1-541 1 77 1 341 1-192 1-14 1 26 1 426 1-347 1 281 1-328 1-7 1-12 1-132 1-266 1 823 1-579 1 406 1-292 1 359 1-358 1 5 1 168 1-191 1 46 1 466 1-291 1-72 1 84 1-138 1 113 1 270 1-361 1 40 1 99 1 83 1-146 1 179 1-239 1 173 1-62 1 86 1-85 1-123 1 89 1 165 1 26 1-273 1 75 1 41 1-506 1 287 1 31 1 187 1-97 1-133 1 150 1-86 1 173 1-235 1 178 1-210 1 215 1-46 1-92 1-105 1 100 1-17 1 14 1-111 1 47 1 71 1 52 1-161 1 180 1-7 1-53 1 22 1-80 1 2 1-40 1 78 1-62 1 94 1-271 1 328 1-40 1 43 1-67 1 30 1-234 1 245 1-158 1 121 1-196 1 90 1 57 1-83 1 153 1 100 1-74 1-2 1 164 1-254 1 533 1-511 1 99 1-67 1-21 1-49 1 223 1-5 1-300 1 481 1-450 1 32 1 173 1 164 1-372 1-62 1 452 1-454 1 91 1-93 1 80 1 227 1-129 1 268 1 82 1-571 1 87 1 65 1 24 1-64 1-286 1 220 1-217 1 177 1 76 1 333 1-242 1 148 1-417 1 55 1 260 1 303 1-261 1 13 1-251 1-49 1 229 1-133 1 337 1-539 1 165 1 124 1 252 1-458 1 124 1 131 1-258 1 260 1-81 1-2 1 39 1 46 1-75 1 53 1-272 1 264 1-265 1-16 1 416 1-179 1 349 1-562 1 470 1-146 1 350 1-499 1 101 1 85 1 244 1-361 1 35 1-14 1-168 1 84 1 37 1 191 1-144 1 40 1 233 1-220 1-1 1-123 1 69 1 115 1-89 1-3 1 11 1-42 1 476 1-414 1-174 1 169 1-54 1 43 1-135 1 143 1 49 1-19 1 172 1-162 1-13 1 37 1-243 1 215 1 0 1 26 1 354 1-179 1-505 1 458 1-79 1-52 1-53 1 204 1 376 1-354 1-139 1 129 1 254 1-197 1-168 1 138 1-167 1 17 1 2 1 158 1-196 1 175 1-466 1 417 1-100 1 20 1-75 1 201 1-294 1 263 1-510 1 468 1 247 1-325 1 87 1-92 1-260 1 376 1-189 1 45 1-34 1 54 1 17 1 68 1-348 1 352 1-304 1 153 1-60 1 93 1 20 1-222 1 133 1-136 1 207 1-128 1-59 1 34 1 154 1 54 1-65 1-151 1 262 1-244 1 90 1-115 1 135 1-29 1-237 1 461 1-341 1-43 1 173 1 130 1-246 1-5 1 228 1 99 1-670 1 537 1-192 1-15 1-267 1 572 1-216 1-119 1 414 1-299 1 83 1 184 1 174 1-230 1-14 1 76 1-359 1 63 1-226 1 270 1 248 1-311 1-84 1 80 1 13 1-31 1 103 1-37 1 47 1-189 1 131 1-18 1 260 1-338 1-117 1 213 1-29 1 4 1-31 1 51 1 462 1-486 1-226 1-2 1 187 1-103 1-273 1 407 1 123 1-235 1 69 1-57 1 532 1-434 1 137 1-43 1-171 1 170 1 429 1-413 1 17 1-62 1 30 1 68 1-39 1-150 1 229 1-51 1 200 1-126 1 201 1-264 1 15 1-54 1-114 1 175 1-36 1 85 1-555 1 857 1-1036 1 547 1-347 1 784 1-321 1 120 1-599 1 842 1-843 1 329 1-38 1-98 1 121 1-46 1-243 1 423 1-376 1 215 1-24 1 81 1-418 1 275 1 373 1-221 1 122 1 103 1 246 1-320 1 102 1-328 1-115 1 552 1-235 1-63 1 108 1-126 1 68 1 285 1-234 1 10 1-245 1 170 1-162 1 451 1-160 1-215 1-114 1 35 1 280 1-157 1-229 1 229 1 177 1 273 1-389 1 415 1-297 1 248 1-407 1 220 1-74 1-72 1 89 1 200 1 97 1-84 1 70 1-361 1-56 1 114 1 49 1-146 1-75 1 110 1-610 1 573 1-239 1 477 1-291 1-17 1-129 1 337 1-196 1 12 1-50 1 197 1-416 1 370 1-118 1 94 1-146 1 45 1-170 1 203 1-162 1 31 1-202 1 314 1-355 1 384 1-304 1 158 1-395 1 564 1-379 1 295 1-691 1 499 1-88 1 336 1-458 1 361 1-1 1-173 1 398 1-294 1 124 1-87 1-51 1 122 1-128 1 99 1-17 1 7 1-21 1-120 1 70 1-72 1-53 1 259 1 42 1 1 1-269 1 242 1-90 1 115 1-210 1 317 1 361 1-283" fill="none" stroke="#0072BD" stroke-width="0.45" stroke-linejoin="round" vector-effect="non-scaling-stroke"/></svg>
<rect x="19.5" y="121.5" width="141.0" height="63.9" fill="none" stroke="#262626" stroke-width="0.62"/>
<path d="M66.50,185.4v-1.4M66.50,121.5v1.4M113.50,185.4v-1.4M113.50,121.5v1.4M19.5,153.45h1.4M160.5,153.45h-1.4" stroke="#262626" stroke-width="0.7" fill="none"/>
<text x="21.10" y="196.40" font-size="8.7" text-anchor="middle" fill="#262626">0</text>
<text x="68.10" y="196.40" font-size="8.7" text-anchor="middle" fill="#262626">2000</text>
<text x="115.10" y="196.40" font-size="8.7" text-anchor="middle" fill="#262626">4000</text>
<text x="162.10" y="196.40" font-size="8.7" text-anchor="middle" fill="#262626">6000</text>
<text x="18.40" y="124.55" font-size="8.5" text-anchor="end" fill="#262626">5</text>
<text x="18.40" y="156.70" font-size="8.5" text-anchor="end" fill="#262626">0</text>
<text x="18.40" y="189.15" font-size="8.5" text-anchor="end" fill="#262626">-5</text>
<text x="75.40" y="208.90" font-size="10.2" fill="#262626" style="stroke-width:0.1px">Epoch/s</text>
<text transform="translate(10.30,153.55) rotate(-90)" font-size="9.6" text-anchor="middle" fill="#262626" style="stroke-width:0.2px">N/mm</text>
<svg x="207.4" y="121.5" width="141.0" height="63.9" overflow="hidden"><path transform="scale(0.035259,0.04)" d="M0 691l1 17 1-216 1 329 1-249 1 181 1 51 1-35 1-131 1 136 1-49 1-23 1-23 1-20 1 72 1 66 1-184 1 50 1-43 1 52 1 47 1-91 1 63 1 4 1-148 1 147 1 246 1-266 1 82 1-94 1-337 1 421 1-65 1 34 1 75 1 75 1-151 1-20 1-71 1 258 1-47 1-88 1 18 1 234 1-201 1 24 1-272 1 268 1-37 1 240 1-154 1-106 1 17 1 274 1-198 1 176 1-760 1 654 1-512 1 517 1-141 1 105 1-290 1 15 1-77 1 73 1 55 1 303 1-119 1 278 1-316 1 36 1 13 1-325 1 294 1 207 1 17 1-20 1-274 1-34 1-659 1 865 1-167 1-163 1 220 1-207 1 230 1 55 1-151 1 50 1 218 1-173 1-55 1 27 1-139 1 359 1 184 1-251 1-161 1 229 1-782 1 469 1 90 1 290 1-242 1 173 1-168 1-217 1 689 1-687 1 197 1-130 1 220 1-131 1-131 1 58 1 201 1-300 1 212 1 25 1 140 1-252 1 289 1-174 1-629 1 850 1-339 1 15 1 60 1-240 1-132 1 642 1-420 1 159 1-95 1-62 1-173 1 632 1-408 1 261 1-216 1-6 1 12 1-56 1 291 1-464 1 251 1-115 1 171 1 104 1-64 1-341 1-14 1 202 1 292 1-155 1 98 1-4 1-116 1 116 1-182 1-108 1 51 1-32 1 128 1-239 1 165 1 195 1-356 1 56 1 257 1-126 1 97 1 8 1-47 1-279 1 59 1 244 1-116 1 69 1-28 1-9 1 22 1-109 1 205 1-122 1-150 1 282 1-274 1-34 1 424 1-428 1 481 1-386 1 157 1-234 1 335 1-36 1-214 1 162 1-165 1-86 1 167 1-81 1 131 1-115 1-106 1 312 1-454 1 209 1 209 1-149 1 37 1-20 1 73 1 22 1-22 1 53 1-74 1-5 1-279 1 152 1 48 1-110 1 148 1-87 1 13 1 50 1-98 1 140 1 116 1-63 1-132 1 98 1 68 1-99 1-19 1 53 1-423 1 358 1 374 1-294 1-264 1 130 1-82 1-75 1 197 1 39 1-149 1 226 1-89 1-222 1 246 1-17 1-91 1-13 1 138 1-49 1 116 1 12 1 212 1-353 1-415 1 494 1-202 1 149 1-32 1 147 1 152 1-294 1 169 1-259 1 323 1-232 1 104 1-115 1 100 1 10 1-93 1-50 1-310 1 296 1-117 1 150 1 509 1-346 1-217 1 120 1 409 1-370 1-152 1 225 1-141 1-106 1 161 1-116 1 75 1 150 1-115 1 189 1 14 1-24 1-434 1 379 1 6 1 98 1-311 1 266 1 30 1-86 1-229 1 213 1-125 1 162 1-84 1 96 1 158 1-316 1 141 1 21 1-271 1 196 1-114 1-6 1 2 1 47 1 47 1 111 1-143 1 32 1-237 1 381 1 45 1-117 1-228 1 348 1-207 1 136 1-147 1-22 1-407 1 588 1-11 1-53 1-243 1 64 1 292 1-176 1 140 1-307 1-25 1 106 1-367 1 478 1-10 1-90 1-106 1 159 1-555 1 611 1-175 1 112 1-64 1-178 1 158 1-22 1-26 1-19 1-51 1 122 1-97 1 245 1-178 1-17 1-6 1 156 1-134 1 44 1 5 1 129 1-181 1-33 1 57 1 63 1 69 1-24 1-376 1 293 1-277 1 358 1-27 1-64 1 87 1 170 1-197 1 104 1-42 1 32 1-147 1 308 1-502 1 289 1-12 1 257 1-195 1-217 1 232 1 189 1-560 1 444 1-128 1 68 1 49 1-154 1 288 1-365 1-8 1 364 1-260 1-83 1 109 1 184 1-79 1-310 1 169 1 174 1-178 1 217 1-240 1-86 1-323 1 685 1-262 1-50 1 124 1-244 1 117 1 13 1-27 1 297 1-270 1-168 1 187 1 105 1-41 1-244 1-177 1 457 1-139 1-128 1 344 1 55 1-294 1 284 1-223 1 173 1 74 1-112 1-108 1-129 1 132 1-64 1 390 1-498 1 550 1-410 1-268 1 80 1 389 1 1 1-187 1-68 1 72 1-136 1 106 1 193 1-208 1-93 1 106 1-57 1 129 1-25 1 107 1-72 1-112 1-26 1 120 1-207 1 73 1 55 1 14 1-171 1 44 1 106 1 256 1-253 1-105 1 105 1 87 1-169 1 81 1-61 1 195 1-244 1 97 1 48 1-35 1 24 1-144 1 141 1-79 1 124 1-224 1 226 1 211 1-312 1 249 1-183 1 323 1-351 1 82 1-109 1-50 1-55 1 20 1 66 1 64 1-137 1 156 1-22 1-36 1 24 1-118 1-7 1 130 1-146 1 92 1-78 1 150 1 15 1-113 1 185 1-86 1-85 1-79 1 26 1 163 1 42 1-38 1 6 1-484 1 513 1 274 1-291 1 12 1 66 1-66 1 14 1-11 1 62 1-86 1 48 1-39 1 40 1-14 1 20 1-51 1 5 1-74 1 9 1 122 1-127 1 4 1-67 1 81 1-89 1-39 1 89 1 59 1 18 1-70 1 38 1 2 1-78 1-24 1 33 1-81 1 170 1-58 1 43 1-60 1 13 1 16 1 47 1-116 1 151 1-39 1-3 1-20 1 185 1-238 1-95 1 31 1 209 1-119 1-117 1 76 1-43 1 100 1-68 1-102 1 46 1 8 1 197 1-38 1-96 1-176 1 137 1 300 1-278 1-139 1 101 1 119 1 230 1-276 1 328 1-515 1 80 1 282 1 35 1-17 1-446 1 486 1-239 1 121 1 100 1-282 1-32 1 209 1-125 1 85 1-257 1 257 1-252 1 258 1-385 1 362 1-116 1 189 1-137 1 302 1-322 1 106 1-231 1 228 1-93 1-159 1-241 1 359 1-69 1 219 1-104 1-245 1 306 1-152 1 248 1-150 1-99 1-336 1 572 1-139 1 137 1-94 1-351 1 320 1-27 1-56 1-148 1 217 1 132 1 94 1-104 1-261 1 356 1-133 1-302 1 449 1-215 1 133 1-160 1 158 1-4 1-180 1 140 1-66 1 90 1 256 1-490 1 335 1 50 1-110 1-173 1 138 1-108 1 26 1-137 1 81 1-56 1 142 1-119 1-109 1 50 1 21 1 25 1 273 1-213 1-121 1 102 1-28 1-36 1 192 1-219 1 41 1-42 1-49 1 23 1-13 1-141 1 239 1-227 1 206 1-69 1 78 1-211 1 233 1-202 1 60 1 108 1 151 1-64 1-2 1-328 1 316 1-37 1-32 1-4 1 74 1-277 1 332 1-22 1 172 1-185 1 183 1-129 1-140 1 77 1 172 1-164 1 197 1-323 1 212 1-126 1-22 1 26 1-10 1-221 1 616 1-586 1 142 1-124 1 159 1 60 1-301 1 270 1-201 1 59 1 238 1-3 1 15 1-56 1-19 1-304 1 359 1 4 1-126 1-117 1 174 1-65 1-8 1-182 1 134 1 19 1 103 1-218 1 205 1 74 1-186 1 150 1-178 1 257 1-119 1-140 1 176 1 7 1-208 1 178 1-156 1 161 1-12 1 93 1-46 1-58 1 38 1 55 1 19 1-173 1 182 1-254 1 205 1 47 1 181 1-253 1-102 1-25 1-298 1 444 1 138 1-88 1-42 1-85 1-85 1 58 1 54 1 190 1-243 1-9 1 137 1-92 1 31 1-12 1-56 1 193 1-117 1-61 1 80 1-96 1 215 1-242 1 21 1 184 1-131 1 81 1-65 1-102 1-192 1 289 1-7 1 159 1-255 1 241 1-292 1 195 1 23 1-105 1 82 1 11 1-217 1 198 1 8 1 122 1-16 1-234 1 147 1-71 1 304 1-278 1-46 1 137 1 27 1-20 1-239 1 268 1-73 1 5 1-83 1 74 1-278 1 222 1-258 1 434 1-87 1-74 1-1 1-12 1 196 1-59 1-130 1 100 1-261 1 140 1 31 1-79 1 41 1-45 1 110 1 106 1 184 1-376 1 56 1 61 1 147 1-147 1-175 1 30 1 131 1-40 1 37 1-36 1 93 1-52 1-90 1 306 1-293 1 335 1-356 1-34 1 434 1-304 1-30 1-19 1 110 1 133 1 156 1-383 1 38 1 11 1 18 1 69 1 91 1-117 1-134 1 163 1-157 1 64 1-181 1 198 1-79 1 22 1-5 1 121 1 36 1-16 1-551 1 396 1 103 1-78 1 4 1-73 1-14 1 9 1 19 1-18 1 307 1-212 1-77 1 125 1-85 1-58 1-40 1 331 1-253 1-4 1-125 1 338 1-286 1 343 1-348 1 279 1-223 1 50 1-221 1 177 1-48 1 128 1-118 1 119 1-27 1-38 1 42 1 214 1-142 1-86 1 170 1-54 1-59 1-74 1-40 1 84 1 85 1-70 1 9 1 32 1 6 1-38 1-26 1-27 1-13 1-91 1-113 1 134 1 193 1-32 1-532 1 521 1-85 1 108 1-70 1-130 1 120 1-70 1-115 1 111 1-16 1 298 1-409 1 374 1-122 1 119 1-336 1 489 1-340 1 304 1-366 1 180 1-40 1-52 1-6 1 218 1-217 1 32 1-135 1 284 1-395 1 51 1 472 1-312 1-71 1 46 1-88 1 80 1 60 1-85 1 60 1-27 1-184 1 173 1-3 1 148 1-271 1-178 1 176 1-245 1 689 1-274 1-177 1-149 1 480 1-444 1 270 1-354 1 327 1-55 1-76 1 23 1-53 1 349 1-185 1 62 1-57 1 38 1-28 1 31 1-179 1-14 1 163 1 129 1-183 1-241 1 286 1 97 1 41 1-415 1 309 1-5 1-37 1-193 1-302 1 549 1-40 1-223 1 74 1 176 1-177 1-203 1 439 1-260 1 95 1 129 1 252 1-328 1 362 1-370 1 4 1 49 1 16 1-56 1-104 1 6 1 5 1 226 1-531 1 317 1 129 1-243 1 225 1-164 1 529 1-450 1-203 1 49 1 169 1 31 1 51 1 97 1-453 1 312 1 22 1-171 1 316 1-371 1 317 1-117 1 3 1 40 1-53 1 48 1 85 1-98 1 179 1-246 1-320 1 333 1 95 1 50 1 19 1-301 1 25 1 83 1 186 1-189 1 417 1-201 1-127 1 3 1 132 1-189 1-120 1 238 1-12 1-73 1-184 1 176 1-286 1 264 1-64 1 9 1-37 1 93 1 274 1-266 1 131 1-161 1 42 1-71 1-99 1 52 1-78 1 179 1-149 1 139 1-103 1 51 1 51 1-24 1 22 1 5 1-16 1-206 1-182 1 165 1 411 1-378 1 300 1-146 1-35 1-165 1 334 1-94 1-14 1-215 1 285 1-283 1 249 1 52 1 68 1-197 1 27 1 62 1-144 1 140 1-152 1 262 1-125 1 263 1-334 1 183 1-19 1-76 1 103 1-224 1 277 1-2 1 341 1-438 1 280 1-53 1-106 1-56 1-13 1 28 1-330 1 325 1 58 1-108 1 320 1-398 1 18 1 7 1 51 1 8 1 21 1-159 1 89 1-107 1 445 1-219 1-121 1 36 1-66 1 136 1-112 1-64 1 62 1-4 1-25 1 32 1-126 1 233 1-72 1 61 1-325 1 118 1 71 1 159 1-149 1-69 1-164 1 273 1-62 1 158 1-115 1-50 1-14 1 64 1 84 1 5 1-271 1 170 1-66 1 74 1-77 1 116 1-80 1 84 1-129 1 180 1-203 1 128 1 331 1-418 1 142 1-177 1 36 1-28 1 85 1 133 1-169 1 201 1-107 1-28 1 128 1 38 1-328 1 302 1-340 1 81 1-3 1 208 1 328 1-595 1 71 1 279 1-313 1-19 1-51 1 37 1 146 1-175 1-80 1 201 1-83 1 284 1-198 1 10 1 542 1-707 1 158 1-141 1 105 1 42 1-145 1 375 1-215 1 49 1-110 1 216 1-88 1 150 1-175 1-115 1 142 1-54 1 49 1-162 1 141 1-24 1 12 1 220 1 8 1-49 1-215 1 4 1 82 1 53 1-59 1 61 1 458 1-568 1 0 1-319 1 381 1 156 1-161 1-13 1-152 1-151 1 350 1-2 1 13 1 32 1 225 1-679 1 287 1-33 1 107 1 169 1-298 1 116 1-64 1 153 1-44 1-227 1-8 1 51 1 331 1 14 1-256 1-184 1 27 1 361 1-212 1-197 1 73 1 162 1 4 1-270 1 110 1 314 1-448 1 250 1 85 1-83 1 40 1-106 1 19 1 137 1-97 1 85 1-199 1 137 1 29 1-59 1-34 1-30 1 231 1-117 1-16 1 122 1-213 1 46 1 159 1-111 1-28 1-78 1 102 1-96 1 34 1-7 1 217 1-107 1-15 1-86 1 66 1 106 1-230 1 80 1-125 1 173 1 219 1-266 1 113 1-135 1-4 1-30 1-4 1 19 1 60 1 89 1-37 1-217 1 192 1 62 1-77 1-116 1 79 1 81 1-105 1-50 1 176 1-119 1 293 1-198 1 24 1 36 1-23 1-102 1 32 1 27 1-103 1 22 1 25 1-64 1-185 1 422 1-101 1 104 1-106 1 122 1-363 1 367 1-273 1 252 1-68 1-40 1-65 1-9 1 204 1-172 1 1 1-24 1 96 1-79 1 169 1-19 1-243 1 283 1-139 1 42 1-15 1 65 1-124 1 2 1 171 1 18 1-68 1-32 1 135 1-95 1-263 1 322 1-56 1-104 1 227 1-268 1 136 1-30 1-164 1 231 1-403 1 406 1-40 1-207 1 234 1-37 1-33 1-84 1 58 1-108 1-36 1 73 1 79 1-127 1 101 1-46 1 339 1-315 1 242 1-163 1-28 1 18 1 99 1-123 1 140 1-283 1 97 1-16 1 65 1-98 1 162 1-39 1-24 1 51 1-51 1 44 1-65 1 38 1-30 1-3 1-136 1 117 1-110 1 52 1 6 1 1 1-142 1 108 1-26 1 26 1-72 1-1 1 74 1-59 1-1 1 0 1 152 1-128 1 147 1-116 1-11 1 14 1 25 1 65 1-67 1-52 1 187 1-130 1-128 1 106 1 77 1 55 1-168 1 96 1 87 1-64 1 61 1 6 1 206 1-250 1-29 1-3 1-29 1 0 1 35 1 30 1-100 1 28 1 65 1-14 1-65 1-1 1 27 1-57 1 36 1-7 1 38 1 10 1 18 1 16 1-184 1 75 1 26 1 52 1-68 1 36 1-40 1 20 1-23 1 83 1-35 1-18 1-46 1 46 1 2 1-67 1 110 1-34 1-56 1 117 1-304 1 273 1-37 1 79 1-131 1 95 1 46 1-23 1-98 1 17 1 12 1-37 1-13 1 109 1-103 1 139 1-73 1 47 1-70 1-4 1 135 1-1 1-108 1-13 1-13 1 73 1 265 1-216 1 205 1-429 1 416 1-367 1 518 1-323 1-93 1-10 1-153 1 31 1 8 1-143 1 544 1-300 1-293 1 366 1-110 1-97 1-89 1 229 1 10 1-266 1 196 1-224 1 419 1-163 1 4 1-97 1 420 1-119 1-204 1 73 1-18 1-43 1 201 1-220 1-14 1-92 1 200 1 9 1 47 1 49 1-208 1 51 1 53 1-49 1-33 1-87 1 119 1-121 1 136 1-197 1 104 1 120 1-280 1 388 1-264 1 134 1-89 1-70 1 111 1-109 1-53 1 106 1-214 1 373 1-85 1 190 1 47 1-153 1-533 1 357 1 68 1 11 1-272 1 226 1 210 1-140 1 77 1 239 1-258 1 223 1-218 1 130 1-1 1-165 1 127 1-141 1 73 1 324 1-303 1 11 1-64 1-27 1 83 1 333 1-314 1 25 1-49 1 380 1-424 1-56 1 105 1-69 1-95 1 110 1-60 1 7 1-80 1 87 1 45 1 61 1-77 1-66 1 63 1-36 1 33 1-112 1 120 1 238 1-383 1 118 1 22 1-65 1-124 1 170 1-306 1 412 1-37 1-74 1-264 1 304 1 65 1-75 1-98 1 194 1-26 1-108 1 85 1 120 1-166 1-37 1 76 1 74 1-105 1-58 1 87 1-112 1-86 1 90 1 77 1-110 1 117 1-11 1 19 1-122 1 101 1-88 1-139 1 118 1 94 1-103 1 116 1 79 1-226 1 248 1-194 1 112 1-17 1 34 1-337 1 202 1-2 1-60 1 62 1 59 1 188 1-228 1 60 1-62 1-38 1 219 1-41 1-121 1-281 1 343 1 6 1-118 1 85 1 91 1-18 1-16 1 43 1-172 1 205 1-166 1 136 1-258 1 37 1 275 1-151 1-64 1 119 1-240 1 8 1 281 1-173 1 93 1-15 1 20 1-82 1 13 1-40 1 136 1-90 1-37 1-22 1 140 1-2 1-135 1 108 1-25 1-145 1 58 1-81 1 649 1-448 1 27 1-93 1 187 1-95 1 93 1-7 1 274 1-441 1 61 1-176 1 618 1-500 1 347 1-708 1 794 1-415 1 118 1-102 1-24 1 29 1-52 1 32 1 224 1-208 1-59 1 62 1 129 1-152 1 50 1 41 1-91 1 63 1 250 1-446 1 173 1 40 1-73 1-12 1 61 1 13 1 38 1-22 1 78 1-118 1 354 1-267 1-45 1-1 1 232 1-237 1 210 1-246 1 18 1 6 1 131 1-132 1 45 1-50 1-93 1 47 1 165 1-157 1-109 1 165 1-177 1-172 1 288 1-27 1-48 1-64 1 120 1-33 1-44 1 128 1 50 1-122 1-28 1 172 1-262 1 152 1-113 1 75 1-104 1 128 1 142 1-172 1 83 1-53 1-114 1 287 1-294 1 83 1 71 1-65 1 96 1-54 1-60 1 19 1 154 1-74 1-111 1 128 1-72 1-22 1-121 1 72 1 47 1-28 1-56 1 239 1-269 1 145 1-101 1-5 1 89 1-105 1 217 1-95 1-127 1 16 1 43 1 7 1 61 1 45 1-290 1 139 1 55 1 0 1 19 1 221 1-394 1 152 1-38 1 37 1-33 1 17 1 128 1 40 1-212 1 49 1-35 1 109 1-256 1 207 1-101 1 155 1 46 1-132 1-13 1 233 1-91 1-4 1-96 1 112 1 2 1-95 1 124 1 259 1-365 1-246 1 449 1-611 1 202 1 203 1-136 1 245 1-26 1-229 1-64 1 475 1-363 1 178 1-223 1 141 1 156 1-477 1 193 1-68 1 227 1-37 1 175 1-102 1-25 1-55 1 180 1-337 1 260 1 254 1-201 1-84 1-92 1 25 1 79 1-8 1-397 1 426 1 18 1-259 1-264 1 467 1 112 1-80 1 166 1-506 1 495 1-205 1 95 1-62 1 119 1 76 1-449 1 297 1-52 1 176 1-48 1-13 1-448 1 344 1-172 1 208 1-326 1 355 1-263 1 110 1-263 1 123 1 116 1-172 1 328 1-192 1 255 1-120 1 24 1-52 1 121 1-38 1-124 1 105 1-10 1 278 1-408 1 75 1-10 1 67 1-244 1 31 1 177 1 72 1-249 1 305 1-217 1 31 1 75 1-295 1 155 1 39 1 10 1 4 1-15 1-111 1 70 1 40 1-131 1 102 1-86 1 154 1-91 1 125 1-117 1-375 1 426 1 162 1-161 1-196 1 66 1 260 1-185 1 147 1-225 1 43 1 9 1 104 1 131 1-107 1-126 1 55 1-98 1 183 1 9 1 135 1-322 1 172 1 108 1-105 1 3 1-178 1 205 1-70 1 22 1-19 1-41 1 160 1-258 1 226 1-143 1 142 1-207 1 176 1 64 1 0 1-90 1-11 1 108 1-119 1 184 1-38 1-164 1 126 1 94 1-131 1-151 1 71 1 75 1 51 1 45 1-167 1 152 1-338 1 307 1-65 1 27 1-14 1-115 1-20 1 23 1-242 1 155 1-72 1 226 1-11 1-39 1 30 1-42 1 203 1-90 1 10 1-158 1 112 1-99 1 299 1-143 1-70 1-57 1 84 1 43 1-112 1-76 1 96 1-48 1 83 1-9 1-2 1-16 1-20 1-64 1 191 1 52 1-329 1 116 1-362 1 485 1-181 1 15 1 85 1-82 1 91 1-121 1 447 1-398 1 169 1-174 1 533 1-257 1-258 1-13 1 45 1 0 1 70 1 266 1-253 1-65 1 219 1-255 1 59 1 294 1-210 1-161 1-116 1 593 1-292 1 303 1-241 1-203 1 120 1-95 1 48 1 186 1-114 1-82 1 27 1-108 1 93 1 45 1 2 1-196 1 29 1 59 1 40 1 142 1-353 1 610 1-366 1-165 1 302 1-455 1 292 1 3 1 3 1 127 1-88 1-297 1 248 1 36 1 65 1-231 1 227 1-125 1-90 1-173 1 97 1 301 1-103 1-79 1-410 1 95 1 328 1 91 1-134 1-95 1 138 1 147 1-109 1-205 1 471 1-290 1-210 1 295 1 19 1-131 1 122 1-92 1-37 1 51 1 89 1 21 1-49 1 132 1-109 1 116 1-132 1-113 1 171 1-32 1-23 1-10 1 88 1-179 1 124 1 49 1-248 1 191 1 7 1-35 1 147 1-238 1 120 1 13 1 38 1-62 1 68 1-139 1 101 1-56 1 118 1-97 1 46 1-47 1 315 1-391 1 108 1-168 1-30 1 141 1 200 1-227 1 71 1-71 1-211 1 255 1-107 1 98 1 2 1-67 1-9 1 30 1 17 1-40 1-168 1 121 1-159 1 169 1 32 1-47 1 92 1-104 1-80 1 48 1 38 1 37 1 45 1-178 1 160 1-73 1 115 1-92 1 136 1-68 1-99 1 44 1 114 1-103 1 105 1-94 1 112 1 57 1-177 1 99 1-311 1 224 1 36 1-75 1-50 1 300 1 45 1-278 1-137 1 130 1 80 1-81 1 28 1-65 1 394 1-334 1 65 1-130 1-253 1 316 1 74 1 69 1-284 1 111 1 46 1-69 1 48 1 191 1-71 1-156 1 53 1-71 1-156 1 259 1-127 1 91 1 19 1-70 1-26 1-18 1 78 1 121 1-184 1 120 1-160 1 36 1 55 1-63 1 95 1 15 1-39 1 55 1-17 1-8 1 14 1-110 1 141 1-188 1 361 1-314 1 269 1-97 1 104 1-108 1-28 1-74 1 81 1 1 1-174 1 51 1 83 1-98 1 235 1-272 1 104 1 65 1 10 1-7 1-101 1-65 1 149 1-46 1-90 1 116 1 100 1-136 1-17 1-116 1 202 1-102 1 205 1-156 1 345 1-448 1 602 1-498 1-118 1 101 1 204 1-179 1-24 1 18 1 297 1-555 1 357 1-42 1-20 1-20 1 206 1-469 1 259 1-102 1 449 1-512 1 104 1 54 1-42 1 44 1 152 1-223 1 84 1 18 1-67 1 92 1-44 1-110 1 131 1-222 1 248 1 30 1-47 1 31 1 244 1-359 1 431 1-290 1-45 1-188 1 482 1-95 1-110 1-180 1 166 1-177 1 8 1-37 1 279 1-274 1 35 1 255 1-353 1 75 1 94 1-16 1 21 1 18 1-192 1 312 1-112 1 201 1-191 1 147 1-181 1 20 1 15 1 78 1-410 1 231 1 175 1-46 1 142 1-278 1 153 1-177 1 190 1-202 1 255 1 45 1-125 1-86 1 88 1 176 1-403 1 296 1 30 1-85 1 89 1-204 1 93 1-68 1 58 1 77 1-238 1 146 1-20 1 63 1-122 1 74 1 59 1 79 1-106 1-37 1-14 1 127 1-125 1 97 1-39 1 79 1-53 1-59 1-146 1 137 1 85 1-58 1 47 1-159 1 197 1-276 1 258 1 27 1-56 1 21 1 25 1-6 1-149 1 55 1 22 1-103 1-39 1-50 1 218 1-328 1 152 1-167 1 357 1-68 1-87 1-222 1 112 1-82 1-9 1 267 1 21 1-321 1 168 1-42 1-39 1 205 1-19 1 8 1 127 1-182 1 47 1-76 1-50 1-69 1 207 1-200 1 250 1-229 1 5 1 166 1-123 1 66 1-16 1 68 1-53 1 31 1 197 1-280 1 80 1 17 1-10 1-101 1 117 1-65 1 183 1-106 1-28 1-26 1 357 1-339 1 140 1-151 1 161 1-103 1-117 1 150 1-400 1 375 1-102 1-24 1 246 1-195 1 187 1-142 1-108 1 77 1-326 1 255 1 79 1 38 1-59 1-48 1 253 1-178 1 150 1-92 1-151 1 17 1-55 1 37 1 70 1-62 1 61 1 28 1-70 1 62 1-71 1 98 1-78 1 74 1-279 1 147 1-62 1 57 1-10 1 112 1-78 1-29 1 95 1 72 1-71 1-48 1-45 1 24 1 10 1 161 1 45 1-171 1-87 1 201 1-101 1 154 1-97 1-124 1 90 1 206 1-240 1 20 1 75 1-61 1 47 1 183 1-194 1-18 1 26 1-68 1 94 1 30 1-108 1 143 1-159 1-114 1 156 1-209 1 123 1 37 1-33 1 139 1 42 1-204 1 431 1-498 1 229 1-258 1 83 1 260 1-135 1-143 1 204 1-214 1 293 1-202 1 151 1-27 1 0 1 86 1-167 1 176 1-80 1-5 1 248 1-284 1-28 1-46 1 347 1-277 1-255 1 105 1 63 1-69 1 149 1-62 1 122 1-185 1 156 1-172 1 317 1-166 1 40 1-135 1 263 1-203 1 74 1-49 1 123 1-280 1 327 1-417 1 515 1-402 1 46 1 79 1 38 1-84 1 109 1-15 1-178 1 181 1 70 1-31 1-143 1-116 1 181 1 20 1-42 1-107 1 69 1-225 1 193 1-27 1-181 1 175 1 91 1-289 1 325 1-245 1 79 1-58 1 150 1-200 1 45 1 81 1 67 1-262 1 100 1 32 1-104 1-75 1 283 1-164 1 158 1 56 1-47 1-227 1 243 1 4 1 91 1-156 1 11 1-85 1 81 1 132 1 68 1-9 1-254 1 144 1 93 1 81 1-70 1-52 1 67 1 65 1 20 1-154 1-49 1 92 1 280 1-224 1 97 1-3 1 9 1-35 1-75 1-21 1-34 1 106 1-98 1 36 1 100 1-197 1 94 1-108 1 85 1-53 1 38 1-32 1 155 1-33 1-117 1 56 1 337 1-328 1-242 1 318 1-106 1-125 1 111 1-109 1 146 1-147 1-2 1 161 1-14 1 86 1-171 1-52 1 158 1-75 1 93 1 187 1-185 1-131 1 94 1-6 1-15 1 14 1 120 1 0 1-237 1 301 1-124 1 156 1-212 1 149 1 105 1-343 1 157 1-205 1 226 1 210 1-277 1 177 1-447 1 397 1-267 1 319 1-233 1 19 1-54 1 2 1 50 1 232 1-153 1-42 1 31 1 238 1-524 1 153 1 90 1-22 1 37 1 252 1-548 1 221 1 114 1 114 1-137 1 220 1-139 1-68 1-100 1 26 1 33 1 104 1 15 1 17 1-63 1-441 1 390 1 40 1-53 1-28 1-428 1 454 1-97 1 169 1-69 1-393 1 334 1-282 1 26 1 266 1 151 1-183 1 80 1-211 1 113 1-91 1 328 1-292 1 40 1-117 1 185 1-218 1 320 1-108 1-61 1 55 1-244 1 276 1-290 1-171 1 453 1-223 1 267 1-277 1 205 1-17 1 98 1-119 1-47 1 69 1 78 1-190 1 87 1 0 1-119 1 119 1-19 1 39 1 239 1-545 1 323 1 46 1 134 1-564 1 369 1 28 1-6 1-358 1 281 1-321 1 442 1-41 1-493 1 548 1-123 1-266 1 66 1 305 1-289 1 71 1-39 1-88 1 352 1 43 1 0 1-126 1-276 1 391 1-342 1 310 1-128 1 113 1-333 1 7 1 457 1-233 1 154 1 84 1-7 1-378 1 126 1-294 1 633 1-148 1-282 1 314 1-140 1 175 1-423 1 306 1-278 1 20 1 124 1-245 1 508 1-297 1 219 1-289 1 96 1-43 1 70 1-21 1 29 1 112 1-103 1-87 1-46 1 14 1 62 1-16 1-40 1 211 1-53 1 116 1-64 1-211 1 202 1 16 1-2 1-117 1-29 1 34 1 198 1-210 1-32 1 104 1 28 1 18 1-97 1-77 1 197 1-171 1 118 1-18 1-299 1 162 1 163 1-21 1-25 1-32 1 43 1-44 1 245 1-169 1-64 1-25 1 94 1-132 1 332 1-224 1 99 1-61 1-29 1 226 1 93 1-354 1-91 1 216 1 246 1-197 1-124 1-21 1 200 1 48 1-74 1-17 1-567 1 395 1-25 1 90 1-114 1 80 1 88 1-111 1-53 1 38 1 49 1 1 1-13 1 213 1-230 1 88 1-163 1 48 1 148 1-31 1-260 1 132 1-282 1 384 1-229 1 249 1 234 1-347 1-58 1 112 1-51 1 0 1 39 1-42 1-187 1 199 1 95 1-105 1 67 1-54 1-79 1 67 1 100 1-31 1-290 1 352 1-94 1-137 1-88 1 200 1 187 1-237 1 15 1 132 1-90 1-27 1-199 1 22 1 233 1-95 1 102 1-35 1 104 1-266 1 212 1-215 1 210 1-233 1-169 1 393 1 85 1-257 1 96 1 9 1 21 1-63 1 102 1 34 1-69 1 38 1-49 1 21 1 10 1 75 1-45 1-92 1-14 1-44 1 227 1-146 1 227 1-145 1 46 1 20 1-188 1 65 1-2 1 49 1 329 1-361 1-26 1 52 1-6 1-77 1-39 1-15 1 29 1 11 1-78 1 34 1 73 1-165 1 399 1-182 1-121 1 120 1-36 1-182 1-143 1 332 1-93 1 62 1-127 1 118 1 104 1-129 1-297 1 221 1-50 1 33 1 71 1-198 1 612 1-352 1 117 1-149 1 374 1-658 1 231 1 93 1 357 1-489 1 36 1 35 1-160 1 188 1-36 1-147 1 72 1-125 1 240 1-95 1 190 1-177 1 146 1-241 1 423 1-329 1-32 1-158 1 342 1 82 1-33 1 137 1-294 1-310 1 360 1-189 1 99 1-67 1 5 1-133 1-63 1 584 1 264 1-762 1 162 1 170 1-122 1-132 1 141 1 77 1-76 1-278 1 314 1-131 1 87 1 100 1-63 1-132 1 89 1 8 1-101 1 439 1-81 1-120 1 14 1-195 1 167 1-167 1 342 1-211 1 250 1 79 1-233 1 255 1 66 1-419 1 76 1 24 1 159 1-12 1 57 1-32 1-133 1-92 1-228 1 288 1-180 1 169 1-45 1 175 1-265 1 73 1 2 1-33 1 27 1-13 1-12 1-55 1 37 1 4 1 94 1 0 1-117 1 2 1 131 1-222 1 316 1-309 1 182 1-41 1-61 1-31 1 261 1-153 1-182 1-15 1 5 1 90 1 212 1 27 1-210 1-165 1-204 1 517 1 7 1 14 1-173 1 55 1-65 1 161 1 166 1-215 1-238 1 17 1 119 1 53 1-60 1-95 1 144 1-183 1 108 1-26 1 11 1 138 1-360 1 264 1-1 1-46 1 83 1-3 1-39 1-38 1 157 1-164 1 87 1 22 1 93 1-233 1 223 1 56 1-86 1 74 1-86 1 109 1-6 1 24 1-61 1-60 1-23 1 158 1-105 1-10 1-6 1 4 1-11 1 103 1 118 1-145 1-94 1 92 1-413 1 380 1-104 1 30 1 17 1 13 1 7 1-24 1-15 1-91 1 33 1 95 1 17 1-33 1-126 1 25 1-31 1 196 1-159 1-9 1-85 1 4 1 131 1 139 1-121 1 56 1-106 1 52 1-90 1 101 1-73 1-22 1 26 1 63 1-155 1 239 1-85 1-120 1 78 1-101 1-44 1 238 1-120 1 60 1-105 1-50 1 106 1 49 1-51 1 66 1-34 1-106 1 168 1-159 1 425 1-481 1 119 1 19 1-58 1 82 1 21 1-51 1-73 1-26 1 25 1 44 1 40 1-103 1-19 1 14 1 204 1-168 1-20 1 0 1 21 1-59 1 230 1-210 1 460 1-588 1 159 1-120 1 303 1-7 1-257 1 99 1-140 1 72 1 82 1-242 1 290 1-237 1-74 1 29 1 201 1-111 1 144 1-5 1-75 1 7 1 133 1-547 1 798 1-355 1-82 1-349 1 807 1-689 1 329 1-318 1 255 1 184 1-136 1-265 1 289 1 117 1 79 1-207 1-66 1 109 1-163 1 111 1 174 1-137 1 114 1-521 1 385 1-24 1 267 1-332 1 108 1 94 1 106 1-385 1 190 1 115 1-214 1-82 1 196 1-56 1 186 1-111 1 127 1 19 1-136 1 91 1-100 1-213 1 228 1 120 1-188 1 157 1 22 1-249 1 56 1 165 1-140 1 90 1-145 1 110 1 15 1 118 1-75 1-83 1 43 1-80 1-30 1 283 1-146 1 141 1 190 1-195 1-377 1 230 1 50 1 74 1-175 1 3 1 486 1-227 1-179 1 13 1 343 1-248 1-107 1 81 1-113 1-62 1 95 1-202 1 233 1 34 1-318 1 35 1 189 1 26 1 73 1-73 1-24 1-152 1-148 1 465 1 182 1-244 1 144 1-303 1-195 1 385 1-185 1-78 1-55 1 290 1-83 1-261 1 100 1 103 1-110 1 173 1-118 1-133 1 259 1-71 1-89 1-62 1 96 1-26 1-31 1 72 1 71 1-139 1 130 1 0 1 154 1-356 1 203 1-102 1 90 1-90 1-106 1 166 1-36 1-50 1 85 1 38 1-150 1 264 1-8 1-10 1-475 1 501 1-192 1 80 1-368 1 119 1 92 1 236 1 35 1-112 1-26 1 45 1 294 1-603 1 342 1-12 1-314 1 52 1-44 1 319 1 75 1-255 1-63 1-35 1 181 1-131 1 160 1-16 1-27 1-56 1 11 1 69 1 123 1-227 1-134 1 236 1-58 1 42 1-63 1 20 1 443 1-425 1-179 1 142 1-163 1-78 1-48 1 73 1 306 1-211 1 0 1 193 1 268 1-329 1-43 1 5 1-93 1 234 1 306 1-540 1 111 1 39 1 43 1-123 1 170 1-231 1 179 1-167 1 286 1-96 1 351 1-366 1 41 1 30 1-139 1 35 1 72 1 17 1-311 1 279 1-384 1 273 1-149 1 178 1 187 1-285 1-51 1 206 1-115 1 58 1 26 1-6 1-17 1 10 1-194 1 55 1-186 1 381 1-122 1 91 1-335 1 112 1 414 1-211 1 38 1-8 1 396 1-625 1 351 1-484 1 46 1-99 1 445 1-29 1 142 1-118 1 18 1-24 1 29 1-341 1 277 1 48 1-146 1 144 1 193 1-123 1-213 1 48 1 187 1-419 1 193 1 16 1 234 1 2 1-225 1 244 1 37 1-117 1-38 1 158 1-122 1-235 1 248 1-36 1 146 1-486 1 671 1-319 1 25 1 92 1 101 1-466 1 246 1-84 1-382 1 278 1 34 1 194 1-125 1 63 1-327 1 234 1 53 1-133 1 121 1 36 1-253 1 173 1 3 1-29 1 17 1-54 1 77 1-93 1 84 1 63 1-118 1 75 1-172 1 78 1-86 1 299 1-428 1 176 1 107 1 9 1-450 1 561 1-111 1 12 1-208 1 243 1-65 1 63 1 75 1-272 1 187 1-147 1 129 1-98 1 44 1-28 1 30 1 87 1-71 1-61 1 62 1-52 1-30 1 163 1-6 1 7 1-22 1 13 1-15 1 101 1-204 1 45 1 501 1-308" fill="none" stroke="#0072BD" stroke-width="0.45" stroke-linejoin="round" vector-effect="non-scaling-stroke"/></svg>
<rect x="207.4" y="121.5" width="141.0" height="63.9" fill="none" stroke="#262626" stroke-width="0.62"/>
<path d="M254.40,185.4v-1.4M254.40,121.5v1.4M301.40,185.4v-1.4M301.40,121.5v1.4M207.4,153.45h1.4M348.4,153.45h-1.4" stroke="#262626" stroke-width="0.7" fill="none"/>
<text x="209.00" y="196.40" font-size="8.7" text-anchor="middle" fill="#262626">0</text>
<text x="256.00" y="196.40" font-size="8.7" text-anchor="middle" fill="#262626">2000</text>
<text x="303.00" y="196.40" font-size="8.7" text-anchor="middle" fill="#262626">4000</text>
<text x="350.00" y="196.40" font-size="8.7" text-anchor="middle" fill="#262626">6000</text>
<text x="206.30" y="124.55" font-size="8.5" text-anchor="end" fill="#262626">5</text>
<text x="206.30" y="156.70" font-size="8.5" text-anchor="end" fill="#262626">0</text>
<text x="206.30" y="189.15" font-size="8.5" text-anchor="end" fill="#262626">-5</text>
<text x="263.30" y="208.90" font-size="10.2" fill="#262626" style="stroke-width:0.1px">Epoch/s</text>
<text transform="translate(198.20,153.55) rotate(-90)" font-size="9.6" text-anchor="middle" fill="#262626" style="stroke-width:0.2px">N/mm</text>
<svg x="395.1" y="121.5" width="141.0" height="63.9" overflow="hidden"><path transform="scale(0.035259,0.04)" d="M0 721l1 13 1-216 1 288 1-192 1 108 1 97 1-240 1 98 1 76 1 5 1 99 1-130 1-144 1 171 1-193 1 97 1 37 1-26 1-75 1 148 1-241 1 221 1-137 1-3 1 223 1 128 1-391 1 230 1-221 1-199 1 640 1-269 1 157 1-75 1-30 1-34 1-93 1 21 1 93 1 80 1-90 1 47 1 310 1-283 1 87 1-279 1 233 1-62 1 286 1-227 1-104 1 27 1-29 1 95 1-26 1-474 1 384 1-230 1 261 1 47 1-25 1-104 1 63 1-144 1 354 1-241 1 84 1 55 1 128 1-164 1 531 1-496 1 192 1-217 1 159 1 57 1-415 1 143 1-145 1-523 1 554 1 123 1 36 1-7 1 482 1-461 1-94 1 27 1-70 1 272 1 113 1-279 1-86 1 2 1 24 1 457 1-474 1 96 1 208 1-711 1 474 1 21 1 336 1-295 1-76 1 81 1 168 1 272 1-544 1 88 1 275 1-204 1-19 1-205 1 143 1 66 1-229 1 172 1-125 1 279 1-306 1 338 1-346 1-405 1 576 1-51 1-9 1 53 1-190 1-154 1 144 1 71 1 111 1-63 1 81 1-310 1 84 1 143 1-139 1 176 1-24 1 29 1 0 1 255 1-387 1 142 1-318 1 354 1-271 1 315 1-51 1-290 1 19 1 443 1-321 1 253 1-284 1 202 1-285 1 235 1-144 1 91 1 58 1 19 1-295 1 236 1-213 1 37 1-95 1 382 1-290 1 279 1-42 1 10 1-25 1-166 1 73 1 44 1 28 1-12 1-32 1 56 1 36 1 38 1-3 1-238 1 186 1-174 1 218 1 123 1-338 1 377 1-341 1 151 1 77 1-13 1-131 1-61 1 108 1-127 1 203 1-107 1-26 1 64 1 40 1-235 1 176 1-325 1 473 1-82 1-265 1 172 1-69 1 112 1 59 1-60 1 70 1-84 1-220 1-50 1 137 1 66 1 119 1-88 1-212 1 162 1-122 1 76 1 363 1-165 1-111 1-47 1 245 1-118 1-125 1 41 1 39 1-395 1 244 1 444 1-226 1-284 1 148 1-108 1-50 1 169 1 199 1-310 1 24 1 103 1-88 1 111 1 59 1-142 1 66 1 32 1-99 1 143 1-109 1 306 1-133 1-568 1 572 1-266 1 166 1-52 1 252 1 13 1-275 1 147 1-50 1 96 1 110 1-197 1 159 1-204 1 236 1-291 1 161 1-475 1 567 1-413 1 27 1 566 1-326 1-191 1 152 1 311 1-443 1-5 1 187 1-114 1-91 1 123 1 199 1-221 1 166 1-127 1-100 1 284 1-291 1-135 1 333 1 45 1-42 1-170 1 158 1 94 1-178 1-80 1 257 1-193 1 45 1-4 1 22 1 208 1-306 1 121 1 8 1-200 1 99 1-9 1 217 1-236 1 259 1-161 1-14 1-4 1-89 1-90 1 301 1 79 1-229 1-96 1 181 1-51 1 162 1-166 1 39 1-437 1 557 1-41 1-86 1-188 1 186 1 151 1-285 1 257 1-228 1-72 1 209 1-427 1 281 1 139 1-173 1 2 1 27 1-429 1 426 1-1 1-43 1 96 1-144 1 110 1-47 1 13 1-83 1 46 1 126 1-92 1-90 1 111 1 37 1-59 1 166 1-155 1 107 1-67 1-119 1 81 1 8 1 13 1-5 1 138 1-144 1-245 1 267 1-245 1 274 1 14 1 27 1-8 1-1 1-15 1 73 1-36 1-100 1 13 1 363 1-515 1 62 1 166 1-189 1 242 1 351 1-338 1-113 1-232 1 181 1 113 1 224 1-124 1 75 1 64 1 199 1-529 1 403 1-324 1-118 1 132 1 124 1-27 1 212 1-327 1-154 1 152 1 77 1-98 1-19 1-361 1 247 1 145 1 147 1-81 1-79 1-42 1-50 1 42 1-128 1 159 1-187 1 192 1-222 1 282 1-101 1-284 1 298 1 2 1-3 1 194 1-292 1 75 1 241 1-196 1 53 1 173 1-187 1-10 1-5 1 8 1 63 1 238 1-230 1 284 1-367 1-272 1 285 1 151 1-113 1-49 1 68 1-66 1-8 1-17 1 70 1-81 1 23 1-7 1 116 1-56 1 35 1 41 1-158 1-4 1 82 1-1 1 5 1-121 1 82 1-27 1 38 1-143 1 163 1 163 1-140 1-190 1 210 1-51 1-6 1-59 1-119 1 247 1-87 1-51 1-141 1 153 1-119 1 20 1 93 1-38 1 75 1-180 1 228 1 173 1-184 1 92 1-102 1 249 1-303 1 50 1-362 1 248 1-194 1 168 1-218 1 316 1-114 1 134 1-35 1-14 1 69 1-133 1 56 1 37 1 5 1-42 1 76 1-30 1 67 1-131 1 182 1-114 1 92 1-219 1 148 1-2 1 104 1-100 1-227 1-231 1 218 1 522 1-409 1 149 1-183 1 183 1 41 1-41 1 88 1-103 1-58 1 64 1 123 1-105 1 42 1-66 1 121 1-169 1-223 1 321 1 11 1-112 1 121 1-107 1 41 1-146 1 187 1-71 1 28 1-64 1-168 1 192 1 78 1-152 1 70 1-109 1 93 1-3 1-250 1 234 1-251 1 272 1 63 1-111 1-217 1 298 1 24 1-39 1 56 1-95 1-12 1-41 1-85 1 153 1 20 1-45 1-141 1 183 1-189 1 56 1-4 1 68 1-30 1 139 1-174 1-63 1 348 1 22 1-340 1-4 1 137 1 47 1-72 1 39 1 101 1-299 1 209 1 115 1 16 1 7 1-117 1 156 1-71 1-33 1 112 1-260 1 333 1-188 1 19 1-42 1 16 1-21 1 123 1-121 1-11 1-8 1-46 1 113 1 45 1 111 1-232 1 27 1 128 1-136 1 10 1-208 1 77 1 24 1 136 1-18 1 4 1-292 1 103 1 24 1 177 1-94 1-93 1-319 1 325 1 78 1-51 1 92 1-99 1 73 1 6 1-75 1-35 1 96 1-84 1 270 1-147 1-186 1 229 1-19 1-82 1 198 1-112 1 42 1-3 1-2 1-23 1-145 1 72 1-3 1 130 1 197 1-154 1-9 1-71 1 23 1-75 1 52 1 66 1-136 1 61 1-98 1 141 1-62 1 34 1-260 1 268 1-180 1 21 1 250 1-153 1-154 1 127 1-59 1 0 1 141 1-162 1 4 1-15 1-58 1 4 1 13 1 49 1 26 1 16 1-38 1-66 1 74 1 53 1-33 1 57 1-172 1 75 1 139 1 11 1-80 1 58 1-63 1-55 1-7 1 176 1-112 1 140 1-95 1-94 1 206 1-168 1 173 1-144 1-98 1 38 1 183 1-100 1 139 1-138 1 39 1 3 1-123 1 85 1-75 1 21 1 343 1-375 1-33 1-7 1 57 1 165 1-417 1 264 1-192 1 275 1-5 1-122 1 140 1-23 1-35 1 85 1-57 1-89 1-1 1-26 1 62 1-84 1 34 1 14 1-56 1 95 1 6 1 66 1-75 1-17 1-69 1 123 1-168 1 274 1-139 1 34 1-7 1-59 1-107 1 310 1-272 1 81 1 14 1 31 1 5 1 53 1-67 1-45 1 103 1 70 1-53 1 64 1-121 1 151 1 75 1-118 1-195 1 85 1-412 1 547 1-1 1-149 1 39 1 39 1-174 1 131 1-42 1-7 1-42 1 26 1 64 1-41 1 5 1-22 1-42 1 51 1 21 1-28 1 41 1 18 1 103 1-55 1-147 1 28 1 16 1-4 1 19 1 101 1-329 1 204 1 19 1 73 1-172 1 153 1-179 1 185 1-13 1 107 1-120 1 156 1-353 1 173 1 16 1-40 1 131 1-126 1 49 1-5 1 260 1-179 1-137 1 120 1 37 1-126 1-118 1 84 1 83 1-199 1 135 1-113 1-119 1 283 1-290 1 343 1-26 1 13 1-75 1-121 1 304 1-161 1-26 1 28 1-191 1 200 1-38 1-164 1 125 1-80 1 135 1-209 1 503 1-256 1-47 1-134 1 334 1-148 1-162 1 107 1 41 1 46 1-43 1-98 1 159 1-151 1 24 1 138 1-137 1 130 1-141 1 123 1 261 1-439 1 102 1-10 1 88 1-19 1 310 1-247 1-95 1-133 1 151 1 37 1 107 1-20 1-193 1 74 1-62 1 228 1-349 1 208 1-87 1 128 1-114 1 191 1-58 1-114 1-404 1 370 1 91 1-73 1 3 1 70 1-136 1 64 1-35 1 7 1 259 1-69 1-200 1 58 1-31 1-16 1-66 1 72 1-7 1-14 1-101 1 103 1-50 1 171 1-177 1 206 1-156 1 234 1-415 1 417 1-275 1 101 1-92 1 176 1-97 1 190 1-186 1 151 1-88 1-24 1 102 1 49 1-150 1 11 1-110 1 173 1-42 1-96 1 46 1-15 1 43 1-64 1 16 1 49 1-76 1 38 1-229 1 397 1-103 1-113 1-410 1 609 1-190 1-2 1 30 1-122 1 111 1-110 1-53 1 239 1-147 1 43 1-150 1 182 1 30 1-308 1 122 1-60 1 201 1-231 1 183 1 177 1-72 1 45 1-89 1 81 1-77 1 287 1-379 1 305 1-386 1-44 1 525 1-208 1-153 1-262 1 234 1 35 1 70 1-108 1 88 1-248 1 60 1 88 1 56 1-123 1 24 1 62 1-61 1 84 1 313 1-233 1-187 1 20 1 267 1-205 1 60 1-221 1 199 1-15 1-75 1-2 1-20 1-50 1 170 1 35 1-31 1 134 1-131 1-74 1-41 1 148 1-25 1 39 1-83 1 175 1-143 1-62 1 170 1-103 1 22 1 41 1-64 1-61 1-417 1 386 1 92 1 32 1-148 1 243 1-243 1 35 1 149 1-157 1 35 1 42 1 277 1-351 1 370 1-196 1-108 1 314 1-264 1 223 1-331 1 117 1-123 1 43 1-352 1 386 1 28 1 126 1-137 1 243 1 98 1-337 1-255 1 488 1-278 1 16 1 35 1 221 1-504 1 208 1 59 1-25 1 138 1 131 1-166 1-130 1 26 1 10 1-28 1 39 1 66 1 11 1 50 1-67 1-431 1 348 1 66 1 37 1 21 1 118 1-341 1 159 1 48 1-23 1 241 1-56 1-238 1 54 1 42 1-31 1-252 1 149 1 67 1-61 1-147 1 255 1-354 1 345 1-165 1-66 1 29 1 192 1 134 1-276 1 157 1-195 1 93 1 89 1-238 1 112 1-113 1 161 1-147 1-62 1 79 1 138 1-49 1-113 1 122 1 133 1-141 1-113 1-241 1 338 1 191 1-261 1 186 1 10 1-172 1 42 1 100 1-283 1 184 1 52 1 14 1-54 1 26 1-93 1 190 1-304 1 162 1-68 1 9 1 151 1-202 1 96 1 46 1 255 1-310 1 19 1 126 1 126 1-116 1-7 1 48 1-59 1 379 1-226 1 76 1-160 1-4 1-53 1 1 1-50 1-227 1 179 1 173 1-216 1 417 1-261 1-81 1-21 1 71 1 72 1-42 1-227 1 169 1 94 1 235 1-283 1-50 1 46 1-66 1-126 1 141 1 87 1-87 1 77 1-94 1-154 1 72 1 7 1 121 1-157 1-72 1 20 1 152 1 14 1-13 1 66 1-288 1 157 1 49 1-11 1 37 1-177 1 135 1 94 1 26 1-41 1-178 1 47 1 43 1-130 1 129 1-112 1 139 1 31 1-64 1-103 1 81 1 82 1 332 1-339 1 79 1-77 1-42 1 34 1 9 1-59 1 36 1 118 1-42 1-63 1 137 1-246 1-13 1 57 1-69 1 266 1-203 1 47 1 486 1-446 1-71 1-19 1-10 1 71 1-131 1 74 1 75 1-4 1-227 1 68 1 35 1 43 1 42 1 112 1 408 1-542 1 31 1 22 1-50 1-75 1-29 1 254 1-97 1 12 1-81 1 62 1 46 1 106 1-118 1 8 1 8 1 169 1-176 1 101 1-131 1 126 1-131 1-32 1 226 1 0 1-223 1 217 1-135 1-117 1 107 1-229 1 725 1-505 1-35 1-139 1 198 1-273 1 269 1 105 1-212 1 177 1-35 1-71 1 74 1-30 1 279 1-222 1-132 1 87 1-30 1-97 1 9 1 170 1-145 1-104 1 185 1 34 1-215 1 77 1 254 1-108 1-106 1 18 1-135 1 124 1-14 1-139 1 60 1 172 1-68 1 45 1-175 1 162 1-270 1 40 1 231 1-115 1 81 1-27 1-30 1-90 1 116 1 119 1-190 1-118 1 222 1 79 1-134 1 40 1 109 1-22 1-84 1-136 1 49 1 156 1 26 1 82 1-194 1 87 1-67 1-154 1 104 1-84 1 261 1-47 1-67 1-19 1 6 1 120 1-213 1 121 1-159 1 181 1 159 1-385 1 226 1-195 1 95 1-126 1 101 1 152 1-98 1-249 1 292 1-168 1 146 1-20 1 9 1-235 1 202 1 27 1-31 1 114 1-24 1 4 1 170 1-225 1 48 1 69 1-62 1-61 1 22 1 2 1-64 1 129 1-99 1 101 1-349 1 269 1 34 1 86 1-91 1-48 1-171 1 228 1-128 1 93 1 57 1-23 1-62 1 126 1 34 1-141 1-2 1 10 1 44 1 21 1 55 1-80 1-137 1 192 1-65 1 84 1-44 1-35 1-36 1 139 1 4 1-65 1 27 1 58 1 37 1-75 1-241 1 185 1 45 1 16 1 82 1-30 1-74 1-24 1-142 1 163 1-332 1 294 1 32 1-31 1 60 1-116 1 59 1-21 1 6 1 88 1-200 1 189 1-77 1-76 1 57 1-71 1 354 1-240 1 153 1-97 1-77 1-48 1 161 1-124 1 129 1-12 1-154 1 37 1 5 1-61 1 105 1-99 1 55 1-121 1 128 1 16 1-31 1 157 1-158 1 120 1-220 1 282 1-269 1 87 1-55 1-104 1-17 1 333 1-254 1 185 1-228 1 338 1-279 1-59 1 8 1-38 1 163 1-115 1 134 1-161 1 55 1-30 1 64 1 176 1-180 1-188 1 306 1-192 1-55 1-13 1 190 1 94 1-205 1 3 1 159 1-171 1 169 1 166 1 40 1-313 1 59 1-204 1 186 1 122 1-98 1 191 1-248 1-92 1 162 1-309 1 245 1 25 1-4 1 54 1-68 1 50 1-27 1 38 1-18 1-338 1 198 1 164 1-73 1 52 1-63 1 59 1-61 1 20 1-20 1-1 1 40 1-24 1-32 1 39 1-4 1 14 1 20 1-12 1-65 1-11 1-170 1 239 1-14 1-12 1-25 1 87 1 27 1-114 1 8 1 91 1-61 1 43 1-89 1 95 1-95 1 16 1 50 1-13 1-15 1-38 1 131 1 10 1-79 1 51 1-62 1-19 1 318 1-208 1 172 1-156 1 191 1-224 1 362 1-428 1 19 1-23 1-124 1 95 1-43 1 76 1 224 1-174 1-363 1 260 1 22 1 154 1-322 1 286 1-75 1-59 1 5 1-42 1 212 1-70 1-69 1-24 1 320 1-150 1-151 1-114 1 163 1 60 1 80 1-170 1-39 1-57 1 138 1 85 1-45 1-190 1 79 1 117 1-23 1-55 1-26 1-17 1 41 1 109 1-91 1-55 1-11 1 43 1-175 1 97 1 7 1 264 1-235 1-41 1 87 1 214 1-349 1-7 1-98 1 203 1 30 1 193 1 35 1-287 1-362 1 675 1-263 1-86 1-169 1 332 1 75 1-146 1 87 1 12 1-32 1-85 1 88 1 69 1 61 1-153 1 107 1-126 1 59 1-41 1 60 1-72 1 34 1-115 1 153 1-50 1 68 1-160 1 137 1-126 1 101 1-12 1 46 1-179 1 59 1 64 1-28 1-8 1-36 1 245 1-165 1 73 1-83 1 25 1-30 1-1 1-1 1 157 1-153 1-53 1-87 1-2 1 139 1-12 1-163 1 249 1-347 1 390 1-72 1-153 1-178 1 282 1 77 1 10 1-142 1-13 1 133 1-112 1 94 1 59 1-106 1-14 1 46 1 137 1-153 1-21 1 46 1 185 1-331 1 396 1-269 1 162 1-163 1 4 1 5 1 31 1-49 1-162 1-50 1 316 1-115 1 103 1-91 1 186 1-313 1 115 1-67 1 230 1-153 1-100 1-221 1 357 1-115 1 92 1-93 1-5 1 226 1-263 1 108 1 16 1-142 1 310 1-121 1 96 1-470 1 317 1 27 1-190 1 171 1-141 1 176 1-99 1 126 1-91 1 128 1-10 1-18 1-123 1-94 1 260 1-131 1-19 1 70 1-166 1-40 1 148 1-49 1 91 1-30 1 126 1-180 1 69 1-91 1 192 1-148 1-79 1 1 1 166 1-25 1 14 1-38 1 128 1-321 1 45 1-82 1 193 1 40 1-86 1 1 1-202 1 312 1-16 1 111 1-176 1 7 1-213 1 100 1 81 1 45 1-56 1-280 1 186 1 174 1-15 1 25 1-161 1 160 1 2 1-21 1-16 1 27 1-96 1 99 1-185 1 158 1-204 1 291 1-118 1 92 1-249 1 38 1 266 1-43 1-50 1-27 1 85 1-15 1-90 1 103 1-48 1 10 1 94 1-14 1 22 1-65 1-118 1 111 1 43 1-66 1 16 1 2 1-197 1 198 1 40 1-47 1 8 1-60 1-9 1 28 1-104 1 156 1-36 1-292 1 126 1 130 1-39 1-64 1-44 1 130 1-12 1 94 1-105 1 28 1-13 1 129 1-91 1-2 1-126 1 100 1-33 1 57 1-96 1 64 1-36 1 59 1-100 1 261 1-264 1 76 1 12 1-10 1-39 1 78 1-101 1 66 1-104 1 167 1-202 1 221 1-95 1 16 1-46 1 8 1-51 1 66 1 13 1 155 1-212 1 84 1-122 1 42 1 100 1-121 1 92 1 12 1-98 1 15 1-77 1 112 1-67 1 169 1-206 1 74 1 123 1-76 1-65 1 269 1-209 1-15 1 110 1-106 1-3 1 0 1-55 1 200 1-205 1 59 1-65 1 123 1 58 1-93 1 236 1-196 1 166 1-224 1 159 1 27 1-191 1 89 1 122 1-115 1 144 1-217 1-5 1 363 1-361 1-211 1 318 1-466 1 316 1 83 1 40 1 33 1-102 1-114 1 344 1 28 1-241 1 60 1-77 1 4 1 230 1-515 1 465 1-325 1 278 1-117 1 26 1 20 1-72 1 18 1 26 1-170 1 106 1 366 1-89 1-191 1 158 1-201 1-9 1 58 1-21 1 36 1-74 1-127 1 164 1 18 1 120 1-101 1-101 1-189 1 348 1-88 1 99 1-78 1-122 1 297 1-261 1 113 1-102 1 229 1-254 1 178 1-164 1 83 1 127 1-94 1 65 1-49 1 35 1-145 1 128 1-251 1 340 1-421 1 229 1-102 1 124 1-1 1 37 1-52 1 12 1 42 1 115 1-121 1-28 1 289 1-209 1-103 1-44 1 88 1 46 1-212 1 247 1-43 1-150 1 204 1-202 1 38 1-8 1-158 1 126 1 19 1-30 1 40 1-81 1-16 1 73 1 12 1-53 1 33 1 91 1-45 1 94 1-73 1-117 1-327 1 422 1 124 1-160 1-140 1 224 1 58 1 25 1-59 1-90 1-68 1 173 1-83 1-23 1 35 1 93 1-144 1 58 1 7 1-43 1 173 1-207 1 72 1 187 1-182 1 139 1-285 1 361 1-240 1-15 1 13 1 240 1-141 1 100 1-143 1-54 1 53 1 90 1-108 1 150 1-90 1 46 1-129 1-83 1 62 1 116 1 0 1-202 1 180 1 67 1-100 1-32 1-35 1 218 1-117 1 90 1-187 1 124 1-297 1 162 1 60 1-147 1 159 1 62 1-170 1 55 1-252 1 171 1-97 1 188 1 4 1 112 1-129 1 130 1-3 1 27 1-101 1-78 1 59 1-42 1 190 1-97 1-67 1 41 1-15 1-84 1 34 1-107 1 117 1 71 1-25 1-25 1 2 1-204 1 168 1-30 1 125 1-209 1-28 1 32 1-257 1 423 1-126 1 89 1-10 1-3 1 7 1 137 1 159 1-390 1 169 1-68 1 428 1-418 1-54 1-43 1 58 1 192 1-140 1 115 1-100 1 6 1 117 1-45 1-106 1 164 1-91 1-285 1 44 1 148 1 112 1-282 1 336 1-30 1-48 1-18 1-13 1 80 1-28 1 66 1-100 1 51 1-69 1 34 1 2 1 15 1-157 1 171 1-70 1 70 1-241 1 209 1-25 1-243 1 367 1-72 1-79 1 28 1-28 1-1 1 40 1 7 1-49 1 163 1-70 1-124 1 125 1-180 1-27 1 163 1-232 1 53 1 135 1-65 1-383 1 584 1-172 1 115 1-162 1 248 1-207 1 98 1-79 1 197 1 59 1-72 1-400 1 360 1-76 1 114 1-131 1-90 1-18 1 130 1 1 1 157 1-188 1-69 1 85 1-14 1 5 1 66 1-15 1-95 1 45 1 145 1-76 1-127 1 75 1 117 1-327 1 166 1 45 1 63 1 33 1-148 1 51 1 93 1-48 1-100 1 99 1-110 1 76 1-59 1 110 1-38 1-5 1 56 1 211 1-313 1 34 1-97 1-81 1 108 1 204 1-92 1-52 1 35 1-295 1 154 1 6 1 83 1-9 1-14 1-39 1 82 1-53 1 55 1-246 1 149 1-229 1 357 1-120 1 56 1-23 1 23 1-204 1 104 1-16 1 63 1 17 1-67 1 55 1 3 1 30 1-33 1 75 1-114 1-49 1 122 1 30 1-3 1 8 1-128 1 138 1-71 1-20 1-21 1-179 1 245 1-14 1-23 1-105 1 162 1 184 1-296 1-83 1 181 1-6 1 32 1-77 1 53 1 254 1-227 1-33 1 14 1-362 1 172 1 184 1-156 1-23 1 186 1-46 1-66 1 46 1 113 1-14 1 18 1-102 1 123 1-330 1 63 1 58 1-76 1 167 1 30 1-94 1 5 1 35 1 33 1-86 1 120 1-153 1 208 1-133 1-97 1 121 1 103 1-119 1-81 1 108 1-83 1 91 1 14 1 5 1 88 1 59 1-229 1 178 1-179 1 187 1-52 1-49 1 35 1-24 1 74 1-201 1 212 1-112 1-73 1 178 1-66 1-60 1 125 1-82 1 70 1-149 1-40 1 104 1 96 1-202 1 82 1 101 1-66 1-69 1 136 1-83 1-124 1 213 1-219 1 416 1-263 1 421 1-528 1-59 1 164 1 125 1-72 1-117 1 91 1 159 1-76 1-104 1 11 1-49 1-12 1 164 1-168 1 11 1-52 1 351 1-98 1-249 1-20 1 25 1 166 1-4 1-171 1 61 1-110 1 76 1 178 1-143 1-81 1 94 1-27 1 52 1-63 1 46 1-24 1 245 1-106 1 164 1-278 1 4 1-93 1 330 1-120 1-40 1-145 1 137 1-168 1 30 1-83 1 301 1-196 1-28 1 184 1-280 1 292 1-130 1 55 1-54 1-32 1-120 1 203 1-28 1-43 1 51 1-111 1 83 1-52 1 84 1 114 1-419 1 411 1-41 1-55 1 156 1-57 1-78 1 124 1-114 1 130 1-70 1 153 1-237 1 102 1-95 1 222 1-432 1 121 1 193 1-192 1 191 1-148 1 35 1-4 1-1 1 136 1-273 1 88 1 24 1 181 1-234 1 64 1 52 1 88 1-119 1-38 1 3 1-9 1 13 1 90 1-48 1 170 1-151 1-35 1-167 1 454 1-242 1 182 1-188 1 146 1-115 1 156 1-175 1 153 1-174 1-174 1 222 1-183 1 38 1 130 1-56 1-34 1-88 1-101 1 252 1-103 1-49 1-99 1 266 1-89 1-49 1-54 1-40 1 255 1-358 1 99 1 184 1 106 1-250 1 193 1-268 1 181 1-12 1-172 1 291 1-181 1 61 1-227 1 127 1-59 1 168 1-69 1 119 1-46 1-148 1 109 1-68 1-60 1 99 1-5 1 12 1 119 1 94 1-221 1 34 1-129 1 129 1-160 1 169 1-2 1 109 1-169 1 55 1 113 1 193 1-414 1 209 1-145 1 162 1-45 1-145 1 46 1-283 1 264 1 8 1 71 1 131 1 47 1-60 1-240 1 16 1 107 1-339 1 330 1-29 1 104 1-122 1-76 1 255 1-44 1 24 1-247 1 20 1 231 1-281 1-10 1 121 1-112 1 112 1 51 1-75 1 277 1-277 1-24 1 31 1-35 1-155 1 151 1-53 1-55 1 92 1 316 1-292 1-127 1 186 1-48 1 39 1-2 1-65 1-44 1 80 1-58 1 230 1-71 1-157 1 88 1-6 1-10 1 60 1-6 1-14 1-59 1 15 1-26 1 106 1-10 1-6 1 83 1-82 1-69 1 67 1 110 1-87 1-54 1-4 1-66 1 40 1 106 1-75 1 50 1-144 1 229 1-226 1 135 1 41 1-75 1 302 1-334 1 78 1-110 1-50 1 264 1-135 1 135 1-90 1-55 1 138 1-243 1 180 1-166 1 141 1 11 1-72 1 97 1-20 1 12 1 212 1-276 1-15 1-115 1 416 1-269 1-237 1 187 1-8 1 1 1 60 1 46 1-3 1-161 1 131 1-181 1 307 1-138 1 24 1 3 1 102 1-210 1 104 1-61 1 130 1-68 1 116 1-87 1 176 1-236 1-89 1 81 1 32 1 53 1-39 1-95 1-83 1 80 1 150 1-34 1-112 1 54 1-10 1-18 1 0 1-66 1 37 1 12 1-34 1-53 1-138 1 102 1 139 1-158 1 208 1-242 1 90 1 43 1 33 1-164 1 32 1 23 1 90 1-98 1-21 1 20 1-90 1 35 1 133 1-30 1 32 1-39 1 48 1-16 1 26 1-119 1 195 1-93 1-15 1 34 1-40 1 152 1 10 1-54 1-179 1 180 1 27 1 70 1-62 1-78 1 89 1 26 1 44 1-174 1 3 1 9 1 339 1-276 1 125 1-212 1 242 1-210 1 105 1-61 1 14 1 80 1-72 1-17 1 139 1-132 1 36 1 138 1-153 1-94 1 84 1-80 1 190 1-148 1 14 1-12 1 388 1-309 1-225 1 190 1-13 1-78 1 75 1-123 1 154 1-93 1-30 1 252 1-137 1-118 1 51 1 7 1 88 1-30 1 29 1-4 1 12 1-132 1 102 1 150 1-174 1 167 1-31 1-17 1-202 1 22 1 134 1-203 1 156 1 154 1 92 1-156 1-39 1-201 1 220 1-107 1 49 1 133 1-371 1 81 1 51 1-42 1 112 1 0 1-31 1 35 1 3 1 83 1-18 1 184 1-203 1-148 1-99 1 201 1 15 1 254 1-238 1 267 1-522 1 325 1-30 1-102 1 78 1 203 1-119 1 6 1-149 1 272 1-228 1 18 1 95 1-32 1-27 1-70 1 26 1 73 1-81 1-59 1-348 1 547 1-216 1 156 1-90 1 140 1-188 1-24 1-165 1 169 1 197 1-39 1-70 1-34 1-44 1 166 1 85 1-234 1-31 1-8 1 52 1-112 1 199 1-114 1-13 1 85 1-250 1 259 1-255 1 79 1 122 1 96 1-72 1-7 1-50 1-78 1 160 1 2 1-135 1 156 1-39 1-194 1 112 1-38 1-51 1 62 1 13 1 104 1 142 1-195 1-18 1-10 1 184 1-235 1 66 1-155 1 165 1-248 1 188 1 86 1 12 1-156 1-308 1 335 1 35 1-176 1 41 1 7 1 23 1 139 1-132 1 177 1 24 1-275 1 293 1-146 1-178 1 243 1-197 1 40 1 118 1 34 1-267 1 72 1 363 1-255 1 199 1-6 1 57 1-342 1 130 1 45 1 274 1-105 1-275 1 129 1 4 1-149 1-39 1-42 1 61 1 275 1-164 1-139 1 362 1-108 1 37 1-254 1 82 1 80 1-56 1-131 1 140 1 70 1-68 1-111 1 3 1 24 1 50 1-64 1 9 1 126 1 2 1 154 1-113 1-182 1 175 1 97 1-92 1 8 1-119 1-68 1 270 1-318 1 110 1-73 1 184 1-4 1-61 1 230 1-129 1-228 1 175 1-106 1-175 1 338 1-43 1-60 1 23 1 80 1-71 1 194 1 3 1-172 1-52 1-112 1 166 1-131 1 313 1-204 1 79 1 12 1-87 1 107 1 208 1-314 1-98 1 216 1 208 1-398 1 82 1 82 1 78 1 8 1-17 1-47 1-483 1 414 1-62 1 152 1-174 1 195 1-62 1-137 1-21 1 195 1-118 1 21 1-24 1 101 1-106 1 101 1-170 1 258 1-98 1 2 1-234 1 275 1-385 1 449 1-343 1 107 1 351 1-150 1-234 1 10 1 32 1-22 1 57 1 27 1-209 1 172 1 59 1 96 1-136 1-28 1-60 1 67 1 49 1 19 1-287 1 134 1 89 1 39 1-218 1 213 1 118 1 119 1-318 1 296 1-253 1-76 1-127 1 465 1-250 1 188 1-194 1-127 1 201 1 47 1-96 1-74 1 79 1 201 1-568 1 395 1 23 1-156 1 31 1-127 1 148 1-34 1 61 1-185 1 159 1 137 1-139 1-58 1 82 1-63 1 79 1-55 1-30 1 148 1 12 1 53 1 39 1-312 1 203 1-176 1 44 1 114 1-75 1 116 1 198 1-326 1 8 1 93 1-48 1 14 1-111 1 120 1-106 1 76 1-129 1 116 1-47 1-108 1 374 1-383 1 74 1-55 1 125 1 17 1-306 1 255 1-33 1-111 1 53 1-7 1 219 1-231 1-173 1 174 1-11 1 186 1-101 1-114 1 476 1-316 1 88 1-191 1 416 1-419 1 39 1 142 1 305 1-454 1 10 1-60 1-60 1 105 1 30 1 90 1-158 1 169 1-79 1-21 1 83 1-26 1 12 1-31 1 158 1-180 1-90 1 158 1-1 1-47 1 87 1-57 1-65 1 45 1-19 1-24 1-36 1-74 1 28 1 16 1-203 1 64 1 735 1-503 1-65 1-79 1 110 1-168 1 180 1-17 1 10 1-173 1 195 1-28 1 9 1 33 1-6 1 12 1-54 1-9 1-78 1 100 1 195 1-179 1 95 1 4 1-15 1 72 1 35 1-43 1 97 1-240 1 128 1-11 1 279 1-198 1-87 1 19 1 147 1-134 1 164 1-214 1 64 1-132 1-144 1 155 1-60 1 38 1 73 1-113 1 31 1 67 1 0 1-95 1 103 1-127 1 99 1 43 1-55 1-92 1 174 1-98 1-5 1 4 1 108 1-224 1 313 1-159 1 36 1 82 1-159 1-80 1 306 1-250 1-61 1-20 1 24 1 47 1 241 1-289 1 90 1 65 1-398 1 291 1 196 1-274 1 112 1 83 1-97 1 230 1 101 1-434 1 4 1 35 1 82 1 133 1-140 1-58 1 94 1-178 1 113 1 47 1-60 1 199 1-387 1 276 1-35 1-80 1 101 1 143 1-177 1 153 1-59 1-103 1 45 1-156 1 251 1-146 1 131 1-292 1 265 1 47 1-50 1-39 1 133 1-180 1 147 1 106 1-182 1-168 1 204 1-119 1 107 1 218 1-224 1 151 1 79 1-386 1 140 1-140 1-137 1 304 1-56 1 107 1-66 1-13 1 35 1-144 1 88 1-112 1 72 1 233 1-122 1-66 1-80 1 64 1-69 1 189 1-158 1 159 1-240 1 18 1 97 1-88 1 105 1 294 1-338 1 241 1-268 1 141 1-116 1-115 1 116 1-193 1 127 1 27 1 95 1 83 1-126 1-67 1-49 1 45 1 54 1-94 1 63 1 157 1-122 1 21 1-24 1-216 1 239 1-84 1 126 1-93 1 344 1-504 1 184 1-102 1 69 1 69 1 7 1 128 1-211 1 94 1-97 1 278 1-223 1-308 1 216 1-24 1 190 1 221 1-359 1-54 1 71 1-290 1 457 1-133 1 369 1-114 1-293 1-265 1 451 1 97 1-335 1 106 1-142 1-249 1 370 1-349 1 388 1-260 1-22 1-84 1 281 1-292 1 317 1-17 1-32 1 33 1 83 1-243 1 497 1-205 1-210 1 203 1 236 1-496 1 144 1 64 1-109 1-15 1 44 1 45 1-29 1-61 1 278 1-315 1 51 1 185 1-237 1-22 1 258 1-274 1 231 1-220 1 115 1 37 1 165 1-171 1-7 1 10 1 149 1-45 1-110 1 18 1-97 1 348 1-256 1 243 1-109 1-159 1 138 1-88 1-5 1 18 1-21 1 18 1-6 1 4 1-67 1 161 1-33 1-5 1-121 1 179 1-165 1 144 1-192 1 212 1-109 1 65 1-39 1-63 1 43 1-113 1 24 1 0 1 111 1-41 1 344 1-185 1-332 1 119 1 123 1 45 1-129 1 165 1 277 1-283 1-87 1 27 1 301 1-447 1 118 1-17 1-10 1 40 1-13 1 18 1 20 1-34 1-221 1 215 1-22 1 31 1 89 1-65 1-42 1-205 1-70 1 124 1 489 1-381 1 310 1-445 1-56 1 233 1-51 1-120 1-17 1-76 1 276 1-54 1-70 1 117 1-128 1-11 1 53 1-12 1 126 1-33 1-115 1 65 1-38 1 79 1-116 1-50 1 164 1-59 1 52 1 57 1 103 1-255 1 103 1-85 1 68 1 77 1-240 1 162 1-45 1 176 1-155 1-101 1 2 1 231 1 2 1-53 1-384 1 217 1 66 1-50 1-221 1 276 1-90 1 0 1 232 1-55 1-52 1-74 1 385 1-409 1 155 1 105 1-389 1 222 1-185 1 56 1 262 1-165 1-93 1 50 1 73 1-8 1 25 1-144 1 106 1-88 1 54 1-40 1 200 1-15 1-282 1 103 1 39 1 102 1-118 1-43 1 492 1-587 1 35 1 31 1-87 1 141 1-206 1 168 1 131 1-185 1 1 1 49 1 370 1-401 1 47 1 103 1-161 1-37 1 524 1-511 1 104 1 62 1 18 1 16 1 27 1-88 1 32 1 76 1 18 1-64 1 359 1-372 1 29 1-5 1-75 1-54 1 136 1-35 1-197 1 211 1-299 1 194 1-88 1 208 1 111 1-151 1-137 1 139 1-56 1 45 1 0 1 63 1-80 1-9 1-136 1 209 1-354 1 376 1-130 1 131 1-342 1 292 1 171 1-290 1 113 1-41 1 433 1-323 1 30 1-313 1-74 1 3 1 305 1-272 1 389 1-427 1 324 1-148 1 149 1-309 1 275 1-157 1 61 1 218 1 87 1-292 1-12 1 85 1 107 1-260 1 88 1 222 1-30 1-2 1-209 1 73 1 196 1 73 1-200 1 38 1-21 1-97 1 107 1 127 1-54 1-23 1 222 1-161 1-104 1-3 1 192 1-51 1-160 1-90 1-321 1 501 1-206 1 129 1-84 1 55 1-323 1 122 1 165 1 3 1-12 1 22 1-209 1 71 1 77 1 163 1-168 1-9 1 33 1 220 1-230 1 45 1-72 1 93 1-178 1 238 1-258 1 229 1-333 1 134 1 115 1 65 1-456 1 286 1 113 1 136 1-301 1 183 1-55 1-118 1 234 1-18 1-52 1-23 1 22 1 128 1-185 1 158 1-160 1 160 1-145 1-160 1 164 1 143 1-201 1 261 1-149 1-112 1 107 1 72 1-70 1 168 1-253 1 206 1 288 1-691" fill="none" stroke="#0072BD" stroke-width="0.45" stroke-linejoin="round" vector-effect="non-scaling-stroke"/></svg>
<rect x="395.1" y="121.5" width="141.0" height="63.9" fill="none" stroke="#262626" stroke-width="0.62"/>
<path d="M442.10,185.4v-1.4M442.10,121.5v1.4M489.10,185.4v-1.4M489.10,121.5v1.4M395.1,153.45h1.4M536.1,153.45h-1.4" stroke="#262626" stroke-width="0.7" fill="none"/>
<text x="396.70" y="196.40" font-size="8.7" text-anchor="middle" fill="#262626">0</text>
<text x="443.70" y="196.40" font-size="8.7" text-anchor="middle" fill="#262626">2000</text>
<text x="490.70" y="196.40" font-size="8.7" text-anchor="middle" fill="#262626">4000</text>
<text x="537.70" y="196.40" font-size="8.7" text-anchor="middle" fill="#262626">6000</text>
<text x="394.00" y="124.55" font-size="8.5" text-anchor="end" fill="#262626">5</text>
<text x="394.00" y="156.70" font-size="8.5" text-anchor="end" fill="#262626">0</text>
<text x="394.00" y="189.15" font-size="8.5" text-anchor="end" fill="#262626">-5</text>
<text x="451.00" y="208.90" font-size="10.2" fill="#262626" style="stroke-width:0.1px">Epoch/s</text>
<text transform="translate(385.90,153.55) rotate(-90)" font-size="9.6" text-anchor="middle" fill="#262626" style="stroke-width:0.2px">N/mm</text>
<svg x="19.5" y="219.5" width="141.0" height="63.9" overflow="hidden"><path transform="scale(0.035259,0.04)" d="M0 671l1-83 1 125 1 14 1-26 1-84 1 95 1-42 1 60 1-80 1 79 1 33 1 27 1-27 1 63 1-30 1-6 1 60 1-56 1 54 1 18 1 2 1-76 1 94 1-105 1 110 1-5 1-53 1 94 1-107 1 328 1-351 1 216 1-176 1 46 1-79 1 67 1-30 1 121 1-20 1 55 1-48 1-1 1-100 1-102 1 38 1 126 1-107 1 343 1-364 1-8 1-7 1 283 1-215 1 21 1-19 1 280 1-301 1-127 1 102 1-192 1 265 1-39 1 89 1-97 1-28 1 408 1-447 1 98 1-39 1 15 1 64 1-38 1 78 1 426 1-406 1-240 1 33 1 64 1 169 1 111 1-141 1-142 1 151 1-17 1-152 1 335 1-128 1 35 1-169 1 33 1 126 1-145 1-17 1 47 1 56 1-87 1-31 1 232 1-198 1 313 1-371 1-91 1 262 1-130 1-70 1 82 1 64 1-193 1 206 1-39 1 36 1 304 1-444 1-66 1 179 1-345 1 374 1-348 1 131 1-61 1 172 1-34 1-145 1 15 1-89 1 187 1-140 1 205 1-164 1 22 1 182 1-277 1 181 1-121 1 147 1-180 1 21 1-2 1-101 1 108 1 23 1 23 1-123 1 39 1 133 1-159 1 78 1 218 1-330 1 19 1 163 1-30 1 123 1-414 1 418 1-201 1-20 1 368 1-344 1 649 1-547 1 252 1-291 1 25 1 219 1-143 1 34 1-55 1-176 1 116 1 169 1-87 1-19 1-198 1 251 1 68 1-209 1 17 1-46 1 122 1 24 1-48 1 63 1-56 1-100 1 98 1-12 1 278 1-281 1 109 1-162 1 82 1 3 1 122 1-158 1 33 1 86 1-56 1-53 1 99 1-26 1-8 1 2 1-19 1 135 1-221 1 159 1-34 1-47 1-24 1 67 1-99 1 89 1-133 1 198 1-201 1 69 1-125 1 115 1-53 1 23 1-25 1-5 1-26 1 186 1-165 1 52 1 35 1-153 1 73 1 94 1-85 1 169 1-210 1 196 1-142 1 6 1-155 1 166 1 131 1 80 1-297 1 141 1 53 1-126 1 52 1 3 1 64 1 53 1-125 1 128 1-245 1 302 1-336 1 344 1-78 1-196 1 461 1-177 1-128 1-146 1 281 1-344 1 149 1 90 1-224 1 188 1-137 1 159 1-158 1-35 1 38 1-49 1 36 1 124 1-50 1 85 1-180 1 169 1-181 1 57 1 292 1-242 1 9 1-51 1-155 1 282 1-88 1-201 1 172 1-133 1 90 1 140 1 86 1-105 1-153 1 202 1-252 1 127 1-17 1-13 1 22 1 115 1 3 1-16 1-160 1 190 1-14 1-176 1 86 1 159 1 31 1-315 1-233 1 212 1 299 1-248 1 219 1-255 1 154 1-134 1 191 1-100 1 153 1-214 1 107 1-132 1-382 1 623 1-381 1 129 1 13 1-4 1 140 1-159 1 229 1-49 1-23 1-60 1-389 1 563 1-140 1-57 1-195 1 7 1 65 1 56 1-39 1-58 1 252 1-87 1 201 1-154 1-44 1-94 1 168 1-77 1 23 1-243 1 281 1-220 1 315 1-147 1 57 1-266 1 308 1-118 1 300 1-357 1 180 1 20 1 157 1-214 1 107 1-149 1 116 1 34 1 53 1-70 1 21 1-95 1 187 1-105 1 471 1-861 1 414 1-4 1 174 1-102 1 430 1-667 1 225 1-552 1 769 1-732 1 477 1-376 1 411 1-210 1 367 1-158 1 12 1-449 1 368 1 56 1-76 1 113 1 85 1-453 1 335 1 25 1 50 1-150 1 285 1-180 1 38 1-491 1 429 1-149 1 159 1 22 1-130 1-249 1 270 1 101 1-69 1 71 1-127 1 104 1-293 1 228 1-224 1 262 1-83 1 69 1 59 1-180 1 98 1-28 1-76 1 95 1 38 1 6 1-57 1-144 1 116 1-111 1 115 1-11 1 21 1 40 1-60 1-33 1 178 1-85 1 207 1-325 1 77 1-51 1 29 1-88 1 69 1 167 1-172 1 59 1-49 1-36 1 87 1-31 1 218 1-170 1 253 1-319 1 274 1-325 1 205 1 19 1-125 1 24 1-29 1 15 1 171 1-174 1-61 1-12 1-42 1 14 1-40 1 61 1 8 1-50 1-151 1 198 1-105 1 81 1-52 1-55 1-57 1 108 1 76 1-147 1 56 1 16 1-30 1-23 1-11 1 56 1-20 1-105 1 12 1 54 1-9 1-23 1 7 1 2 1-27 1 87 1-33 1-5 1-46 1 40 1 309 1-263 1 233 1-222 1-232 1 155 1 52 1 36 1 61 1-140 1 81 1-21 1-34 1 30 1-45 1 84 1-141 1 116 1 18 1-109 1 225 1-116 1 68 1-198 1 118 1-166 1 30 1 147 1-125 1-16 1 64 1 13 1-28 1-126 1-30 1 135 1 8 1 53 1 113 1-248 1 57 1 65 1 35 1-46 1 310 1-275 1 237 1-449 1 192 1-70 1-59 1-68 1 367 1-335 1 268 1-298 1 272 1-241 1 71 1 19 1-100 1 126 1-33 1-12 1-56 1-21 1 107 1-128 1 265 1-186 1-214 1 177 1 175 1-221 1 142 1 25 1 234 1-262 1-24 1 38 1-13 1 47 1 11 1-69 1 0 1 22 1 67 1-288 1 161 1 50 1 241 1-255 1-6 1 47 1 163 1-185 1 422 1-441 1 7 1 29 1-100 1-251 1 313 1-66 1-88 1 115 1 28 1-110 1 433 1-246 1-127 1 116 1-50 1 38 1-22 1 66 1-158 1 170 1-53 1-220 1 189 1 81 1 76 1-66 1-81 1 107 1-51 1 3 1-83 1 18 1 69 1 52 1 53 1-41 1-138 1-5 1 110 1-198 1 23 1 264 1-129 1 101 1-30 1-94 1-7 1 174 1-101 1 85 1 82 1-340 1 820 1-832 1 425 1-418 1 90 1 136 1 153 1-374 1 178 1 2 1 13 1-23 1 390 1-360 1 46 1-3 1 376 1-369 1-187 1 81 1 83 1-15 1-237 1-79 1 165 1-35 1 109 1-284 1 306 1-76 1 156 1-238 1 120 1 16 1 35 1-153 1 236 1 19 1-10 1-165 1 4 1 169 1-99 1 24 1 193 1-100 1-7 1-96 1 429 1-320 1 34 1-9 1-167 1-1 1 22 1 133 1-254 1 304 1-508 1 264 1 15 1 4 1 68 1-33 1 65 1 88 1 9 1 61 1-161 1-36 1 87 1 50 1 98 1-140 1-15 1 77 1-93 1 171 1-175 1-69 1 328 1-210 1 25 1-107 1 42 1-83 1 88 1 35 1-10 1 128 1-132 1 100 1-164 1 120 1-135 1 158 1-372 1 378 1-127 1-87 1-17 1 191 1-84 1 31 1 5 1-31 1 35 1-122 1 34 1-5 1-23 1 65 1 25 1 57 1-180 1 276 1-192 1 205 1-150 1 24 1-218 1 133 1-55 1 155 1-175 1 72 1 20 1 88 1-460 1 449 1-50 1 70 1-67 1 64 1-18 1-67 1 13 1 79 1-89 1-16 1 37 1-40 1 3 1-39 1 109 1 52 1 116 1-162 1 15 1-1 1-25 1-33 1 39 1 87 1-218 1 239 1-94 1 122 1-98 1 57 1 20 1-146 1 115 1 32 1-66 1-40 1-219 1 237 1 69 1-30 1-4 1-37 1 112 1-28 1-386 1 380 1-23 1-9 1-173 1 160 1 62 1-2 1 58 1-143 1 43 1-154 1 187 1-187 1 239 1-79 1-27 1 49 1-49 1-92 1 89 1-114 1-212 1 225 1 123 1-104 1 82 1 89 1-308 1 352 1-187 1 90 1 19 1 64 1-42 1 35 1 11 1-20 1-138 1 110 1 24 1-18 1-47 1-68 1-3 1 31 1-37 1 29 1-41 1 124 1-234 1 148 1-12 1 33 1-25 1-27 1 28 1-61 1-64 1 92 1-33 1 76 1 51 1-37 1-51 1 182 1-208 1 82 1-199 1 95 1-205 1 416 1-326 1 304 1-136 1 73 1-159 1 260 1-346 1 257 1-35 1 103 1 188 1-123 1-254 1 172 1-154 1 91 1-8 1 115 1-88 1 174 1-229 1 91 1 11 1 115 1-3 1-184 1 113 1-22 1 18 1-85 1 43 1 178 1-143 1-116 1 336 1-173 1 46 1-71 1-115 1 7 1 16 1 84 1 29 1-40 1-185 1 17 1 13 1 165 1-359 1 340 1-152 1 65 1-74 1 185 1-216 1 215 1-177 1-82 1 132 1-153 1 66 1 179 1-10 1-117 1 15 1 40 1-67 1 83 1-105 1-34 1 55 1 126 1-153 1 210 1-147 1-23 1 37 1 34 1 27 1-93 1-456 1 619 1-231 1 163 1-3 1 135 1 98 1-37 1 212 1-344 1 78 1 83 1-128 1-69 1-134 1 307 1-269 1 259 1 27 1-111 1-46 1 76 1-29 1 151 1-191 1 176 1-151 1 9 1-180 1 84 1 31 1 148 1-24 1-134 1 400 1-453 1 229 1-20 1 161 1-206 1-69 1 80 1-85 1-89 1 112 1-2 1-142 1 82 1-342 1 455 1 186 1-269 1-279 1 148 1 16 1 249 1-222 1 0 1 108 1-121 1-16 1 109 1 129 1-131 1-560 1 597 1-140 1 163 1 69 1-159 1-33 1 4 1-295 1 360 1-77 1-32 1 134 1-21 1-62 1-21 1 124 1-61 1-8 1-94 1 12 1 61 1-269 1 105 1 227 1-180 1 110 1 30 1-103 1 112 1-89 1 129 1 247 1-339 1-1 1 33 1-138 1 103 1-78 1 155 1-118 1-124 1 80 1 111 1 65 1 75 1-180 1-24 1 40 1-171 1-1 1 313 1 193 1-189 1-356 1 39 1 12 1 111 1-250 1 168 1 201 1 14 1-138 1 86 1 35 1-163 1 48 1 110 1-80 1-45 1 29 1-103 1 228 1-113 1-47 1-179 1 113 1-7 1 37 1-95 1 115 1-266 1 118 1 269 1-124 1-170 1 119 1-13 1-59 1 32 1-78 1-154 1 168 1-61 1 45 1 243 1-75 1-185 1 64 1 3 1-10 1 30 1-6 1-213 1 119 1 196 1 1 1-253 1 400 1-132 1-22 1 8 1-175 1-70 1-157 1 169 1 72 1 51 1 7 1-120 1 61 1-105 1 192 1-299 1 134 1 69 1-4 1 54 1 106 1-400 1 685 1-481 1 343 1-289 1 283 1-333 1 8 1-105 1 468 1-346 1-56 1 106 1 95 1-289 1 77 1-15 1 73 1-12 1-31 1 138 1-462 1 594 1-245 1-91 1-104 1 441 1-240 1 223 1-219 1 9 1 149 1-215 1-115 1 244 1-10 1-131 1-130 1 169 1-166 1 233 1 35 1-35 1 43 1-83 1-15 1-41 1 33 1 128 1-107 1 139 1-176 1 197 1-392 1 136 1 321 1-267 1 598 1-542 1-5 1 90 1-47 1-62 1-120 1 236 1-358 1 198 1-269 1 277 1-114 1 84 1-196 1 320 1-331 1 271 1-46 1 42 1-66 1 55 1-128 1 155 1-185 1 82 1 25 1 50 1-152 1-25 1 41 1-25 1-6 1 214 1-181 1-30 1 434 1-199 1-129 1-114 1 72 1-38 1-27 1 21 1 31 1 162 1-253 1 54 1 117 1 62 1-390 1 286 1 445 1-259 1-95 1 120 1-162 1 180 1-69 1-27 1-221 1 155 1-88 1 168 1-164 1 2 1-65 1 260 1-544 1 297 1 503 1-370 1 86 1 11 1-138 1 161 1-420 1 221 1 334 1-312 1-257 1 300 1-126 1 176 1-188 1 178 1-386 1 269 1 121 1 42 1 223 1-273 1-20 1-57 1 38 1-94 1 6 1 28 1 270 1-284 1 197 1-118 1-136 1 112 1 294 1-211 1-158 1 72 1 422 1-445 1-11 1 96 1-309 1 334 1-122 1 133 1-241 1 394 1-251 1 199 1-172 1 18 1-82 1 27 1-178 1 457 1-265 1 92 1-54 1 303 1-225 1-86 1 81 1 87 1-48 1-109 1 103 1 210 1-266 1 34 1 21 1 92 1-173 1 104 1 11 1 49 1-85 1-83 1 358 1-187 1 299 1-363 1-62 1 86 1-122 1 38 1-17 1-23 1-42 1 69 1-154 1 257 1-50 1-86 1-14 1 110 1-182 1 130 1-24 1 94 1-147 1-74 1 15 1 32 1 117 1 21 1 223 1-282 1 487 1-418 1-221 1 338 1-159 1 80 1-46 1 194 1-96 1-100 1 0 1-77 1 49 1 211 1-181 1 101 1 53 1-153 1 143 1-47 1 99 1-119 1-2 1-63 1 14 1 92 1 337 1-432 1 42 1 4 1-1 1 69 1-69 1-38 1 42 1 75 1-175 1 181 1-137 1 37 1 232 1-178 1-261 1 161 1 44 1 33 1-37 1-7 1 2 1-37 1 62 1-36 1 21 1-76 1-21 1 9 1-65 1 128 1 86 1-132 1 366 1-246 1 21 1-144 1 91 1 50 1-20 1-3 1-189 1 186 1 191 1-201 1 180 1-174 1 39 1 40 1-70 1-60 1 596 1-487 1-74 1 96 1-139 1 36 1 34 1 3 1 165 1-131 1-124 1 105 1-206 1 192 1-113 1 104 1-73 1-82 1 181 1-171 1 236 1-120 1-203 1 62 1-102 1 210 1-226 1 267 1-128 1 160 1-227 1 94 1-105 1 79 1 15 1 15 1 72 1-90 1-81 1 208 1-175 1 133 1-153 1 304 1-202 1 157 1-150 1-65 1 39 1 85 1-51 1 42 1 22 1-174 1 74 1 180 1-103 1 125 1-179 1-23 1 133 1-245 1 346 1-57 1 76 1-412 1 121 1-20 1 341 1-58 1-205 1 139 1-172 1-42 1-35 1 276 1-327 1-17 1 291 1-144 1-1 1-69 1 20 1 3 1 75 1-48 1 26 1 15 1-48 1 29 1 0 1 23 1 9 1-148 1 81 1 41 1-43 1-92 1 93 1 7 1 473 1-470 1-123 1 139 1-32 1-117 1 263 1-163 1 26 1-34 1 39 1-42 1 106 1-67 1 194 1-267 1 16 1 95 1-383 1 313 1-145 1 124 1 94 1-40 1-31 1 93 1-365 1 318 1 116 1-156 1 245 1-211 1 281 1-228 1-143 1 177 1 229 1-215 1 104 1-151 1 294 1-335 1 28 1-22 1 70 1-51 1 82 1 186 1-45 1-196 1 331 1-311 1-143 1 364 1-224 1-108 1-77 1 99 1 166 1-64 1 61 1-113 1-75 1 134 1-115 1 245 1-343 1 424 1-571 1 433 1-35 1 16 1 10 1-121 1 179 1-221 1 125 1 49 1-173 1 170 1 170 1-264 1 98 1 5 1 111 1-328 1 94 1-13 1 275 1-181 1-55 1 24 1-479 1 505 1-46 1 43 1-350 1 355 1-276 1 213 1-34 1-55 1 257 1-103 1-44 1-82 1 169 1-167 1 275 1-255 1 101 1-93 1 124 1 73 1-56 1-4 1 22 1-105 1 230 1-47 1-27 1 42 1-305 1 293 1-93 1 82 1 127 1-51 1 138 1-233 1 58 1-137 1 208 1-89 1 262 1-220 1-142 1 85 1-209 1 105 1-211 1 458 1-212 1 137 1-305 1 188 1 189 1-40 1 103 1-212 1-33 1-26 1 251 1-74 1-4 1-139 1-88 1 119 1 48 1-189 1 57 1 9 1-126 1 244 1-97 1 6 1 64 1-58 1-88 1-41 1-1 1 137 1 97 1-58 1-122 1 30 1-67 1 152 1-71 1 61 1-100 1 6 1-150 1 79 1 182 1 11 1 56 1-116 1-42 1 137 1-109 1-32 1 45 1 17 1-18 1-33 1 101 1-109 1 30 1 116 1-73 1 25 1-64 1 33 1-5 1 146 1-134 1 72 1-81 1 66 1-92 1 6 1 2 1 12 1-63 1-18 1 18 1 65 1-25 1 70 1-94 1 32 1 336 1-434 1 118 1-17 1-63 1-2 1-168 1 237 1 16 1-103 1-2 1-5 1-22 1 68 1-108 1 69 1 58 1 24 1-102 1 89 1-69 1 39 1-31 1-44 1 33 1 2 1 88 1-33 1-93 1 74 1 116 1-176 1-35 1-26 1 145 1-119 1 168 1-69 1 45 1-75 1 61 1-82 1 32 1-78 1-11 1-46 1 68 1 52 1-37 1 61 1-93 1-48 1 232 1-190 1-41 1-10 1 24 1 93 1 309 1-439 1 107 1-87 1-28 1 7 1 123 1-119 1 178 1-230 1 357 1-224 1-202 1 126 1-45 1 65 1-40 1 89 1-356 1 323 1-79 1 80 1-62 1 85 1 92 1-130 1-12 1-92 1 254 1-147 1-58 1 59 1 87 1-141 1-73 1 211 1 113 1-265 1 127 1 0 1-300 1 335 1-111 1-19 1-236 1 192 1-87 1 253 1-72 1-15 1 4 1 21 1-329 1 415 1 139 1-101 1-175 1 38 1 184 1-18 1 223 1-308 1 250 1-289 1 231 1-131 1-83 1 29 1 280 1-289 1 141 1-159 1 371 1-356 1-100 1 107 1 99 1-76 1-73 1 116 1-308 1 238 1-4 1 57 1-36 1 66 1-64 1-8 1-205 1 156 1-65 1 157 1-375 1 258 1-183 1 227 1 201 1-299 1 16 1-24 1-38 1 75 1-170 1 113 1-10 1-18 1 5 1-13 1-87 1 135 1-149 1 100 1 49 1-52 1-24 1 67 1-120 1 65 1-9 1 65 1 33 1-116 1-142 1 192 1 221 1-246 1 98 1-73 1 387 1-419 1 95 1 3 1-89 1 1 1 103 1 218 1 68 1-280 1 0 1 136 1-180 1 10 1 42 1 38 1-204 1 459 1-521 1 564 1-334 1 57 1-22 1 214 1-234 1 64 1-201 1 435 1-318 1 76 1-19 1 129 1-122 1 27 1 14 1 28 1-67 1 33 1-67 1 186 1-162 1 117 1-114 1 164 1-326 1 52 1 108 1-165 1 312 1-120 1 11 1-217 1 225 1 6 1-49 1-96 1 219 1-114 1 166 1-451 1-111 1 441 1-181 1 113 1-370 1 328 1-211 1 20 1 204 1-8 1 70 1-22 1 101 1-123 1-1 1-23 1-313 1 227 1-4 1-26 1 144 1-25 1-125 1-153 1 227 1 16 1-12 1-44 1 0 1-48 1 89 1-58 1-271 1 388 1-57 1-63 1 55 1-36 1 554 1-613 1 261 1-213 1 10 1 23 1 4 1-54 1 15 1-72 1-25 1 15 1 58 1-16 1-83 1 181 1-90 1 110 1-77 1 7 1 205 1-337 1 131 1 110 1-99 1 12 1 28 1-20 1-81 1 61 1 410 1-304 1 203 1-185 1 161 1-171 1 2 1-136 1 301 1-216 1-25 1 82 1-52 1 32 1 282 1-343 1 48 1 150 1-224 1 274 1 115 1-232 1-102 1 44 1-36 1 57 1-90 1 121 1-114 1 114 1 389 1-533 1 196 1-165 1-6 1 77 1 156 1 3 1-287 1 32 1-183 1 185 1-124 1 173 1-12 1-49 1 137 1-60 1-17 1 171 1 117 1-279 1 11 1 6 1-9 1 169 1-173 1 31 1-2 1-3 1 6 1-33 1 26 1 149 1-193 1 164 1-45 1 0 1-95 1-40 1 63 1-11 1-24 1 92 1 71 1-245 1 494 1-401 1 28 1-72 1 90 1 28 1 50 1-32 1-172 1 119 1-5 1-106 1-123 1 110 1 154 1-164 1-25 1 145 1-45 1-73 1-81 1 196 1-55 1-68 1 110 1 96 1 237 1-351 1-87 1 127 1-37 1 40 1 98 1-113 1-4 1 1 1-82 1 80 1-167 1 130 1 76 1-129 1 711 1-587 1 46 1-54 1 218 1-322 1 63 1-49 1 252 1-211 1 229 1-187 1-19 1-24 1 377 1-393 1 126 1-121 1 432 1-644 1 327 1-127 1-36 1 15 1-72 1 51 1-15 1 44 1-72 1 22 1-3 1-80 1 175 1-226 1 206 1-49 1-328 1 166 1 119 1 73 1-31 1-136 1 334 1-173 1-3 1-116 1 285 1-63 1 382 1-431 1 426 1-497 1 236 1-174 1 92 1-118 1 393 1-671 1 736 1-632 1 200 1-72 1-20 1-220 1 239 1-238 1 2 1 249 1 514 1-506 1-203 1-12 1 183 1-84 1 186 1 13 1-110 1 26 1 53 1-99 1 157 1-304 1 177 1 103 1-464 1 274 1 163 1-159 1 57 1-116 1 274 1-98 1-80 1 38 1-8 1-191 1 143 1 4 1-378 1 450 1-90 1 81 1-278 1 104 1 243 1-354 1 228 1-71 1 87 1 55 1 62 1-239 1 179 1-64 1 84 1-104 1-411 1 452 1-188 1-28 1 166 1 9 1 20 1-1 1 404 1-385 1 48 1-172 1-270 1 49 1 93 1-85 1 796 1-823 1 167 1 202 1-56 1-179 1 189 1-94 1 216 1-107 1-47 1 22 1-112 1 12 1 42 1-168 1 214 1-18 1 29 1-29 1-177 1-10 1 204 1 120 1-86 1-172 1 293 1-264 1 35 1 214 1-25 1-131 1 491 1-440 1-4 1 48 1-279 1 127 1 75 1 6 1-58 1 87 1-234 1 26 1-117 1 230 1-137 1 324 1-134 1 17 1 64 1-24 1-92 1-42 1 465 1-485 1 139 1 140 1-188 1 120 1-67 1-83 1 50 1-72 1 17 1 167 1 300 1-173 1-202 1-136 1 369 1-219 1 97 1-269 1 152 1-46 1 116 1 26 1-146 1 60 1-21 1 167 1-199 1 71 1-111 1 52 1-36 1 118 1-53 1 10 1 94 1-92 1 165 1-134 1-56 1 163 1 32 1-125 1-97 1 169 1-72 1 153 1-305 1 309 1-182 1 43 1-203 1 310 1-108 1 46 1 96 1-202 1 105 1 41 1 155 1-321 1-164 1 117 1 47 1 6 1 62 1 81 1-59 1-156 1-255 1 404 1-57 1 76 1-69 1 66 1-136 1 97 1-186 1 191 1-426 1 350 1-114 1 139 1-389 1 385 1-244 1 261 1 26 1-75 1 55 1-105 1 228 1-214 1 87 1 37 1 77 1-98 1 19 1-138 1 151 1-115 1 129 1-94 1 63 1 21 1 189 1-141 1 87 1-150 1 120 1-87 1 559 1-461 1 151 1-113 1 237 1-225 1-13 1-47 1 34 1 1 1-29 1 108 1 41 1-152 1 79 1-3 1 23 1-84 1 382 1-315 1-5 1-26 1 188 1-209 1 76 1-27 1-14 1-60 1-99 1 32 1 73 1 19 1 46 1-66 1 19 1-87 1 168 1-48 1 26 1-126 1 79 1-7 1 290 1-389 1 140 1-138 1 299 1-343 1 340 1-248 1 136 1-142 1 350 1-309 1 40 1 43 1-131 1-48 1 41 1-59 1 24 1 79 1-51 1-80 1 9 1 62 1-199 1 232 1-51 1-5 1-2 1 116 1-384 1 235 1-42 1 27 1 143 1-28 1 29 1-57 1 262 1-323 1-18 1 82 1 146 1-137 1 454 1-473 1-4 1-17 1-125 1 148 1 51 1-74 1-6 1 147 1-105 1 88 1 68 1-149 1 592 1-506 1-257 1 224 1 35 1-108 1 93 1 54 1-306 1 325 1-4 1-82 1-67 1 3 1 113 1 57 1 95 1-99 1 150 1-75 1-102 1 42 1-11 1 46 1-101 1 21 1 14 1-90 1 140 1-154 1 92 1-126 1 629 1-595 1-265 1 258 1 171 1-95 1 309 1-390 1 41 1-156 1-227 1 322 1 28 1-67 1-75 1 23 1 181 1-78 1-18 1 78 1-26 1-27 1 52 1-70 1 55 1 34 1-24 1 2 1-97 1 130 1-28 1 1 1-80 1 40 1 111 1 64 1-90 1-12 1 41 1-61 1 95 1-198 1 75 1-63 1 10 1 79 1-99 1-8 1 33 1 83 1-55 1-19 1 105 1-145 1 78 1-106 1 57 1 51 1-36 1 24 1-29 1 47 1-41 1 60 1-93 1 206 1-451 1 354 1 1 1 89 1 123 1-95 1-160 1 35 1-16 1 68 1-81 1 86 1-491 1 481 1-66 1 66 1-194 1 258 1-192 1 102 1-136 1 188 1-140 1 84 1-20 1 72 1-208 1 250 1-123 1 152 1-110 1-47 1-5 1 12 1 216 1-189 1 143 1-78 1-123 1 78 1-58 1 9 1-60 1 79 1-199 1 251 1-294 1 260 1-230 1 137 1-66 1 69 1-78 1 101 1-142 1 155 1-337 1 239 1-42 1 9 1-33 1-5 1-39 1 22 1 24 1 115 1-10 1-43 1-23 1-40 1-146 1 193 1-26 1 69 1-110 1 50 1 20 1 10 1 14 1-42 1 74 1-25 1-42 1 166 1 16 1-156 1-16 1 23 1 3 1 102 1-436 1 389 1-181 1 40 1 62 1 13 1-27 1 100 1-67 1 82 1-155 1 57 1-52 1 51 1 16 1-17 1-99 1 111 1-120 1 15 1-21 1-1 1-13 1-188 1-152 1 377 1-208 1 233 1-116 1 26 1-1 1-23 1 249 1-292 1-21 1 78 1 82 1-36 1 6 1-50 1 98 1-276 1 605 1-441 1 49 1-16 1 1 1-42 1-16 1-70 1 88 1-75 1 81 1-27 1-150 1 241 1-69 1 129 1-90 1-76 1 307 1-155 1-78 1-40 1 32 1-65 1 93 1-65 1 10 1 136 1-90 1-25 1 105 1-13 1 16 1 61 1-135 1-20 1 33 1 135 1 84 1 30 1-186 1-75 1 71 1 123 1-191 1-15 1 9 1-30 1 124 1 197 1-269 1 249 1-268 1 1 1-80 1 299 1-215 1-4 1 39 1 288 1-139 1 48 1-29 1-10 1-188 1 58 1-43 1 83 1-78 1-17 1-124 1 295 1-241 1 76 1 10 1-13 1 13 1-47 1 27 1 91 1 296 1-307 1 119 1-171 1-40 1 89 1-109 1 144 1-116 1 3 1-32 1 13 1-187 1 228 1-63 1 59 1-171 1 117 1 18 1 79 1-23 1 78 1-372 1 262 1-31 1 112 1-149 1 47 1-13 1-2 1 43 1 68 1-125 1 124 1 221 1-285 1 173 1-151 1-14 1 61 1-30 1-52 1 153 1-179 1-13 1-31 1 243 1-129 1 62 1-198 1 114 1-128 1-32 1 20 1 67 1 155 1-215 1 39 1-88 1 227 1-297 1 183 1-192 1 193 1-114 1 172 1-99 1-51 1 106 1-74 1 108 1 81 1-164 1 247 1-219 1-77 1-203 1 368 1-25 1-85 1 15 1 290 1-107 1-325 1 117 1 195 1 33 1-351 1 626 1-613 1 299 1-276 1 109 1 204 1-315 1 105 1 20 1-88 1 78 1 53 1 71 1 20 1-121 1-105 1 264 1-220 1 101 1 103 1-155 1 91 1-356 1 366 1-81 1 262 1-176 1-6 1-21 1 201 1-54 1-27 1-58 1 134 1-473 1 316 1-45 1 73 1 18 1-23 1 474 1-308 1-151 1 57 1-135 1 139 1-345 1 362 1-114 1 125 1-169 1 211 1-264 1 85 1 405 1-378 1 187 1-288 1 318 1-107 1 282 1-275 1-155 1-24 1 136 1-14 1-142 1 118 1-91 1 165 1-314 1 123 1 162 1-32 1-95 1 117 1 368 1-576 1 5 1 176 1-167 1 203 1-64 1 27 1-94 1 103 1 6 1-259 1 159 1-22 1 169 1-173 1 3 1 63 1 114 1-124 1-98 1 97 1-68 1-211 1-134 1 466 1-106 1 105 1-220 1 141 1-61 1 127 1 162 1-403 1 113 1-45 1 170 1-199 1 93 1-222 1 157 1 108 1 367 1-345 1-98 1-160 1 155 1 15 1 93 1-123 1-113 1-67 1 241 1-26 1-125 1 127 1-2 1-16 1 426 1-442 1 303 1-397 1 150 1-19 1-2 1-7 1-249 1 89 1 250 1-143 1 34 1-28 1 265 1-222 1-75 1 86 1 168 1 32 1-199 1 69 1 409 1-476 1-222 1 363 1-210 1 80 1 119 1-26 1-44 1-17 1 500 1-441 1 71 1-59 1-144 1 97 1 37 1-6 1 14 1-32 1 27 1 98 1-140 1 88 1-214 1 128 1-296 1 325 1-30 1 177 1-174 1-22 1-2 1 99 1-152 1 73 1-65 1 282 1-354 1 139 1-169 1 208 1-93 1 235 1-191 1 233 1-316 1 88 1-6 1-25 1 54 1-30 1-22 1-66 1 234 1-240 1 102 1-46 1 21 1-39 1 14 1 40 1-92 1 14 1 39 1-40 1 180 1-71 1 106 1-145 1-43 1-36 1 22 1 15 1 105 1 4 1-116 1 55 1 43 1 32 1-154 1 167 1-357 1 351 1-98 1-77 1 337 1 25 1-331 1-165 1 562 1-114 1-8 1-22 1-58 1 258 1-319 1 22 1-106 1-195 1 297 1-178 1 134 1-38 1 37 1 326 1-199 1-236 1-106 1 203 1-272 1-91 1 286 1 93 1 23 1 36 1-211 1 352 1 15 1-610 1 333 1 226 1 56 1-131 1-5 1 47 1-85 1-99 1-29 1-314 1 319 1 94 1 178 1-347 1-158 1 348 1-201 1 111 1-198 1 347 1-381 1 346 1-239 1 388 1-567 1 171 1 131 1 116 1-58 1-211 1 160 1-222 1 42 1 185 1-67 1 126 1-87 1 40 1 280 1-235 1-23 1-210 1 96 1 295 1-359 1-11 1-75 1 284 1-116 1-131 1 160 1 5 1 289 1-352 1 27 1-4 1 124 1-49 1 18 1-3 1 164 1-397 1 320 1-295 1 123 1-191 1 267 1-172 1 266 1-148 1-12 1-169 1 159 1 34 1-67 1-10 1 45 1-51 1 90 1 63 1-145 1 37 1 14 1 28 1-11 1 153 1-68 1-42 1 310 1-163 1-248 1 252 1-73 1-71 1 501 1-328 1-84 1 89 1-24 1-85 1 253 1-326 1 85 1 43 1-55 1-78 1 221 1-237 1-81 1 120 1 50 1-43 1-10 1-22 1 86 1-30 1 494 1-579 1 134 1-163 1 42 1 49 1-204 1 123 1-125 1 216 1-64 1-110 1-41 1 102 1 15 1-34 1 28 1 14 1 119 1-189 1 261 1-276 1 168 1 69 1-61 1-221 1 413 1-390 1 36 1 1 1 45 1 73 1-146 1 114 1-28 1 60 1 262 1-421 1 44 1-69 1 155 1 111 1-349 1 114 1 122 1-120 1-213 1 239 1 20 1-21 1 175 1-17 1-32 1-81 1 56 1-76 1 230 1-124 1 57 1-91 1 37 1-109 1 33 1 70 1-106 1 30 1-56 1 160 1-129 1 167 1-245 1 264 1-44 1 11 1-150 1 73 1 91 1 27 1-14 1-1 1 154 1-159 1 16 1-88 1-139 1 62 1 108 1-97 1 187 1-196 1 162 1-107 1 82 1-95 1 230 1-298 1 517 1-337 1-143 1-7 1 264 1-125 1-164 1 165 1 380 1-380 1-1 1 19 1 145 1-171 1-302 1 201 1-74 1 191 1-221 1 100 1-146 1 277 1-66 1-35 1 264 1-258 1 218 1-196 1 293 1-214 1 116 1-129 1-34 1 28 1-106 1-112 1 90 1 146 1-92 1 69 1-43 1-147 1 157 1-94 1 94 1-5 1 71 1-248 1-180 1 177 1-69 1 19 1 164 1 131 1-668 1 368 1 195 1-70 1-172 1 295 1-44 1 71 1-72 1-61 1 235 1-331 1 185 1 17 1-43 1 55 1 30 1-130 1 411 1-247 1 193 1-337 1 70 1 63 1-128 1-1 1 47 1 117 1 139 1-269 1 46 1-117 1 165 1-217 1 150 1-184 1 187 1-143 1 442 1-237 1 96 1-239 1 13 1 72 1 9 1-136 1 87 1 91 1-95 1 65 1 95 1-279 1 667 1-583 1 211 1-276 1 127 1-174 1 120 1-84 1 145 1-8 1-54 1-139 1 187 1-41 1-35 1-154 1 194 1-86 1 269 1 3 1-240 1-405 1 650 1 25 1-207 1-320 1 467 1-376 1 215 1-41 1 92 1-65 1-203 1 276 1-98 1-77 1 329 1-409 1 363 1-47 1-153 1 188 1-228 1-198 1 221 1-221 1 359 1-142 1 160 1 8 1-151 1-23 1-46 1 140 1 144 1-282 1 139 1-14 1-79 1 81 1 94 1-30 1 111 1-263 1-53 1 335 1-287 1-130 1 164 1 329 1-294 1 159 1 89 1-19 1-228 1-38 1 68 1 55 1-77 1 26 1-8 1 135 1-82 1 66 1-111 1 440 1-436 1-45 1 205 1-206 1 430 1-233 1-26 1-174 1 18 1 7 1-12 1-33 1 10 1 337 1-400 1 517 1-481 1 307 1-315 1 522 1-84 1-501 1 212 1-140 1 212 1 254 1-159 1-382 1 119 1 326 1-148 1-229 1-358 1 757 1-591 1 565 1-313 1-49 1-96 1 219 1-103 1 52 1-101 1 138 1-88 1 65 1 185 1-254 1 277 1-227 1-39 1-40 1 424 1-349 1 33 1-77 1 5 1-29 1 215 1-179 1-286 1 310 1-140 1 58 1-323 1 397 1-443 1 335 1 87 1-118 1 51 1 112 1-113 1 129 1 105 1-149 1-78 1 16 1 36 1-90 1-17 1 43 1 99 1-43 1-26 1 148 1-433 1 348 1-96 1 52 1 5 1-53 1-115 1 206 1-50 1 148 1 79 1-76 1-146 1 147 1-292 1 234 1 287 1-479 1 99 1-88 1 34 1 187 1-151 1 85 1 3 1-7 1-149 1 151 1-101 1 155 1 236 1-470 1 144 1 23 1-185 1 211 1-49 1-77 1 45 1 106 1-173 1 79 1 41 1 57 1-139 1 76 1 476 1-510 1 68 1-5 1-164 1 263 1-68 1-79 1 51 1 17 1-233 1 136 1 57 1 9 1 38 1 19 1-357 1 281 1-87 1-5 1 59 1-15 1-54 1 144 1-66 1-21 1-46 1 28 1-46 1 165 1-278 1 165 1 257 1-331 1 233 1-212 1 180 1 27 1-107 1 81 1-249 1 147 1-168 1 314 1 80 1-229 1 223 1-159 1 59 1 77 1 169 1-227 1 57 1-100 1 366 1-314 1 377 1-234 1-253 1 132 1-4 1 204 1 0 1-212 1-196 1 272 1 150 1-164 1-15 1 0 1 19 1 80 1-218 1 43 1 163 1-207 1 50 1-66 1 51 1-14 1 4 1 1 1-35 1 67 1-101 1 118 1-33 1 8 1-184 1 227 1-284 1 303 1-1 1-40 1-337 1 339 1 32 1-8 1-41 1 69 1-166 1 164 1-89 1 89 1-69 1-26 1 57 1 38 1-94 1 26 1 89 1-16 1 229 1-356 1 60 1-73 1 367 1-255 1-10 1 6 1-66 1 56 1-247 1 157 1 104 1-140 1 441 1-500 1 140 1-52 1 84 1-141 1-103 1 215" fill="none" stroke="#0072BD" stroke-width="0.45" stroke-linejoin="round" vector-effect="non-scaling-stroke"/></svg>
<rect x="19.5" y="219.5" width="141.0" height="63.9" fill="none" stroke="#262626" stroke-width="0.62"/>
<path d="M66.50,283.4v-1.4M66.50,219.5v1.4M113.50,283.4v-1.4M113.50,219.5v1.4M19.5,251.45h1.4M160.5,251.45h-1.4" stroke="#262626" stroke-width="0.7" fill="none"/>
<text x="21.10" y="294.40" font-size="8.7" text-anchor="middle" fill="#262626">0</text>
<text x="68.10" y="294.40" font-size="8.7" text-anchor="middle" fill="#262626">2000</text>
<text x="115.10" y="294.40" font-size="8.7" text-anchor="middle" fill="#262626">4000</text>
<text x="162.10" y="294.40" font-size="8.7" text-anchor="middle" fill="#262626">6000</text>
<text x="18.40" y="222.55" font-size="8.5" text-anchor="end" fill="#262626">10</text>
<text x="18.40" y="254.70" font-size="8.5" text-anchor="end" fill="#262626">0</text>
<text x="18.40" y="287.15" font-size="8.5" text-anchor="end" fill="#262626">-10</text>
<text x="75.40" y="306.90" font-size="10.2" fill="#262626" style="stroke-width:0.1px">Epoch/s</text>
<text transform="translate(10.30,251.55) rotate(-90)" font-size="9.6" text-anchor="middle" fill="#262626" style="stroke-width:0.2px">U/mm</text>
<svg x="207.4" y="219.5" width="141.0" height="63.9" overflow="hidden"><path transform="scale(0.035259,0.04)" d="M0 711l1 89 1 61 1-199 1 90 1 95 1-102 1-56 1 64 1-40 1 51 1-4 1 47 1-79 1 80 1 81 1-111 1-110 1 142 1-17 1 74 1-223 1 147 1 107 1-121 1 88 1 43 1 51 1-58 1 18 1 181 1-411 1 221 1-249 1 189 1-9 1 17 1 74 1 13 1 6 1 19 1-267 1 177 1-69 1-61 1 15 1 97 1 84 1-45 1-106 1-91 1 83 1 108 1 39 1-87 1-142 1 270 1-266 1-62 1 56 1-72 1 212 1-20 1 22 1-32 1 38 1 152 1-179 1 30 1-37 1 2 1 28 1-31 1 30 1 447 1-480 1-166 1 171 1-36 1 55 1 149 1-147 1-26 1-34 1 100 1-59 1 128 1-60 1 24 1-173 1 134 1 80 1-108 1-18 1 17 1-23 1-3 1 69 1-3 1-36 1 128 1-253 1 49 1 108 1-68 1 46 1-42 1 3 1-183 1 90 1 127 1-16 1 380 1-542 1 50 1 378 1-513 1 104 1-3 1-12 1 37 1 361 1-190 1-230 1 64 1-6 1 15 1 113 1-64 1 102 1-31 1 102 1-284 1 70 1 16 1-87 1 1 1 230 1-212 1-80 1 69 1 12 1 101 1-137 1 19 1 37 1-66 1 49 1 71 1-92 1-146 1 271 1-5 1-20 1-297 1 486 1-372 1 170 1 81 1-125 1 449 1-435 1 134 1-81 1-15 1 27 1 2 1 12 1-73 1 134 1-140 1 265 1-107 1-1 1-280 1 193 1 215 1-196 1-39 1-68 1 199 1-240 1 95 1 31 1-6 1-56 1 9 1 46 1 157 1-129 1-20 1 5 1-76 1 57 1 61 1-14 1-92 1 159 1-112 1-81 1 97 1-117 1 213 1-116 1 6 1 59 1-227 1 120 1 56 1 23 1-58 1 96 1-153 1 45 1-4 1 94 1-112 1 3 1-30 1 107 1-63 1 95 1-130 1 127 1-184 1 87 1-32 1 63 1-34 1 33 1-52 1 88 1-17 1 31 1-123 1 98 1-39 1 144 1-312 1 164 1 85 1-113 1-73 1 167 1 6 1 7 1-34 1 127 1-38 1-96 1-16 1 276 1-340 1 248 1-337 1 147 1 92 1 85 1 104 1-356 1 95 1 46 1 236 1-315 1 58 1-3 1-149 1 27 1 47 1-16 1 38 1-37 1 6 1-14 1-26 1 166 1-117 1 130 1-158 1-21 1-24 1 143 1 126 1-280 1 85 1-124 1 2 1 26 1 311 1-219 1 64 1-19 1-73 1-54 1 188 1-130 1-86 1 78 1 27 1-64 1 81 1 113 1-35 1 42 1 63 1-52 1-216 1 59 1 160 1-197 1 80 1 16 1 114 1-83 1-360 1 406 1 227 1-170 1-125 1 6 1-13 1-21 1 156 1-181 1 130 1-148 1 59 1-57 1-398 1 423 1-115 1 95 1 11 1 29 1 25 1-24 1 217 1-249 1 138 1 33 1-278 1 91 1 123 1-129 1-145 1 287 1-192 1 87 1-173 1 228 1-34 1-10 1 128 1-146 1-62 1 191 1-39 1 7 1-85 1-73 1 88 1-108 1 195 1-25 1-59 1-5 1 12 1 24 1 127 1-128 1-45 1 38 1 104 1-167 1 121 1-130 1 101 1-52 1 109 1 99 1-121 1-64 1 84 1 27 1 375 1-327 1-162 1 135 1 104 1-183 1 470 1-425 1 5 1-11 1 54 1-92 1 45 1-7 1 65 1-93 1 173 1-220 1 97 1-33 1 18 1 151 1-204 1 240 1-143 1-133 1 99 1 100 1-73 1 208 1 21 1-242 1 69 1-89 1-14 1 64 1-32 1 55 1-149 1 163 1-90 1-59 1 67 1 60 1-65 1 85 1-257 1 76 1-118 1 185 1 17 1 133 1-134 1 193 1-184 1-139 1 78 1 53 1 82 1 0 1-46 1-144 1 53 1 150 1-141 1-104 1 107 1-69 1 15 1-74 1 206 1-167 1 161 1-154 1 59 1 53 1-27 1-109 1 117 1 156 1-186 1 26 1 6 1 158 1-145 1-35 1 177 1-207 1 281 1-102 1 95 1-272 1 143 1-183 1 91 1 120 1-133 1 15 1 164 1-290 1 88 1-34 1-16 1-25 1 8 1-6 1 67 1 24 1-209 1 312 1-200 1-7 1 5 1 123 1-195 1 153 1-1 1-126 1 46 1-71 1 53 1 69 1-86 1-21 1 78 1-127 1 31 1 150 1-114 1 40 1-63 1-164 1 138 1 60 1-7 1 80 1-207 1 224 1 19 1 132 1 1 1-219 1-235 1 239 1-41 1 216 1-81 1-215 1 103 1 4 1-34 1-171 1 180 1-157 1 84 1 46 1 81 1-188 1 166 1 129 1-117 1 65 1-96 1 153 1-224 1 188 1-230 1 22 1 54 1-13 1 11 1 44 1-168 1 164 1-66 1 146 1 104 1-185 1-68 1-56 1 104 1-158 1 298 1-9 1-42 1-258 1 176 1-27 1-126 1 46 1 159 1-195 1 160 1-157 1 313 1-342 1 112 1 74 1-120 1 4 1 53 1-93 1 58 1-33 1 63 1-118 1 160 1-145 1-170 1 206 1 148 1-21 1-54 1-28 1 235 1-268 1 38 1 92 1-50 1-133 1 165 1-186 1 124 1 93 1-16 1-73 1-23 1 47 1 254 1-219 1-71 1 61 1 69 1-279 1 539 1-327 1-65 1-125 1 13 1 150 1-29 1-122 1-74 1 204 1-31 1 110 1 56 1-297 1 38 1 22 1 102 1-258 1 246 1 87 1-118 1 49 1 46 1-78 1 41 1 123 1-3 1-224 1 98 1-18 1 129 1-292 1 57 1 234 1-62 1 96 1 56 1 46 1-225 1 9 1 74 1-69 1-151 1 110 1 54 1-53 1 140 1 11 1-181 1 136 1-53 1-5 1 60 1 133 1 266 1-242 1 26 1-163 1-217 1 72 1 416 1-422 1 91 1 73 1-73 1 4 1 349 1-408 1 250 1-211 1 495 1-495 1-66 1 187 1 6 1 39 1-273 1 183 1-121 1 113 1-67 1 6 1 23 1-62 1 120 1 15 1-101 1 127 1-75 1-53 1 195 1-183 1 72 1 58 1-224 1 183 1-99 1 31 1 134 1-165 1 263 1-190 1 325 1-353 1 136 1-140 1-23 1 39 1-30 1 7 1-99 1 98 1-293 1 296 1-3 1 111 1-134 1 50 1-8 1 76 1 9 1-212 1 150 1 33 1 18 1-103 1 270 1-355 1 137 1 59 1-90 1-70 1 94 1 100 1 15 1-66 1-13 1-75 1 57 1 73 1-71 1 36 1-15 1-147 1 130 1 24 1-45 1-74 1 21 1 11 1-146 1 243 1-8 1-52 1-357 1 309 1 49 1-42 1 91 1-121 1 178 1 0 1-120 1-55 1-17 1 150 1-16 1-137 1 110 1 101 1-257 1 243 1-99 1-64 1-26 1 135 1-90 1 282 1-507 1 414 1-113 1 120 1-277 1 150 1 5 1 189 1-155 1-63 1 157 1-126 1 5 1 110 1-115 1-70 1 85 1 87 1-143 1 31 1 43 1-88 1 238 1-224 1 85 1-6 1-5 1-8 1-1 1 47 1-184 1 337 1-186 1-64 1 68 1 64 1-12 1-79 1 88 1 55 1-106 1 172 1-253 1 34 1 77 1 151 1-193 1 221 1-166 1-64 1-155 1 182 1 37 1-96 1-30 1 45 1 54 1 125 1-62 1-95 1 58 1 79 1-40 1-109 1 174 1-84 1-34 1-7 1 5 1 62 1-71 1 130 1-496 1 500 1-131 1 65 1-57 1-48 1-158 1 280 1-153 1 38 1 52 1 123 1-144 1-46 1 57 1-25 1-40 1 169 1-92 1-88 1 58 1 12 1-23 1 8 1-12 1-79 1 68 1 104 1-248 1 91 1 55 1 104 1-96 1 10 1-11 1 91 1-168 1-7 1 61 1-52 1 117 1-203 1 168 1 203 1-227 1 64 1-152 1-100 1-23 1-34 1 123 1 68 1 71 1 46 1-91 1-116 1 22 1-61 1 228 1 216 1 69 1-229 1-215 1 33 1 8 1-68 1 181 1-176 1 153 1 106 1-129 1-43 1 169 1 92 1 29 1-226 1 108 1 68 1-21 1-100 1 39 1 40 1-72 1-1 1 275 1-379 1 181 1-236 1 27 1 107 1 17 1-57 1 221 1-158 1-67 1 30 1 7 1 49 1-293 1 149 1 92 1 31 1-167 1 158 1-148 1 169 1-205 1 44 1 102 1 39 1-189 1 166 1 216 1-184 1 22 1-40 1-39 1-88 1 90 1 21 1-8 1-59 1 27 1 1 1 40 1 66 1-60 1 55 1 89 1-22 1-423 1 419 1-159 1 144 1-43 1-44 1 163 1-120 1 46 1-5 1 16 1 82 1-83 1 61 1-201 1 213 1-308 1 338 1-78 1-69 1 45 1 11 1-17 1 29 1-25 1 11 1 89 1 155 1-366 1 288 1-217 1-7 1 122 1-148 1 147 1-63 1-13 1-81 1 201 1-145 1-56 1 77 1-70 1-5 1 128 1 42 1-76 1 141 1-609 1 512 1 250 1-385 1-152 1 105 1 13 1-6 1 9 1 491 1-364 1 286 1-388 1 10 1 54 1-43 1-468 1 795 1-360 1 224 1-14 1 44 1-248 1 58 1-247 1 464 1-328 1 249 1-150 1 187 1-218 1 50 1 12 1-62 1 14 1-82 1 36 1 80 1-172 1 174 1 61 1 65 1-172 1 285 1-330 1 65 1-48 1 37 1 333 1-272 1-76 1-69 1-59 1 354 1-428 1 201 1-15 1 75 1-90 1 35 1 73 1-54 1-35 1 72 1-73 1 17 1-321 1 408 1 216 1-288 1-226 1 181 1-146 1 170 1-255 1 57 1 237 1 55 1-154 1 177 1-138 1-8 1-48 1 9 1 24 1-25 1 31 1-84 1 132 1 47 1-75 1-97 1-18 1 66 1 31 1-122 1 119 1-180 1 37 1 39 1 57 1-24 1-1 1 35 1-94 1-17 1 33 1-53 1 37 1-109 1 125 1 55 1 233 1-212 1-60 1 84 1-103 1-45 1 71 1 77 1-172 1 56 1 87 1-121 1 155 1-31 1-3 1-129 1 36 1-173 1-72 1 166 1 90 1-53 1 220 1-178 1 32 1-4 1 169 1-132 1-109 1-83 1 97 1-186 1 271 1-21 1 176 1-295 1 209 1-46 1 368 1-661 1 179 1-229 1 472 1-266 1-145 1 26 1 202 1-265 1 174 1-126 1 243 1 4 1-110 1 34 1-300 1 211 1 150 1-214 1 51 1 246 1-173 1 65 1-89 1 20 1 99 1-34 1-107 1 169 1-82 1-21 1-343 1 353 1-255 1 191 1 54 1 17 1-41 1 51 1-15 1-95 1 53 1 25 1-25 1 58 1-78 1 6 1-306 1 289 1 119 1-96 1 260 1-200 1-91 1 66 1-67 1 18 1-179 1 228 1-438 1 392 1-148 1 37 1 46 1-79 1 59 1 11 1-98 1 108 1 48 1-107 1 56 1-93 1 65 1-135 1 125 1 45 1-3 1-45 1-46 1 131 1-106 1 14 1-38 1 119 1-64 1-172 1 311 1-261 1 122 1-100 1 107 1-139 1 131 1 32 1-22 1-159 1 96 1-116 1 220 1-170 1-140 1 198 1 445 1-339 1 2 1 69 1-87 1-59 1 116 1-158 1 81 1 198 1-181 1-59 1 135 1 77 1-177 1-5 1-320 1 451 1 157 1-78 1-84 1-139 1 123 1 72 1-180 1 232 1 29 1-6 1-244 1-12 1 51 1 80 1-106 1 240 1-384 1 299 1-45 1 106 1 0 1-167 1 3 1 34 1-73 1 165 1-118 1 1 1 247 1-240 1-16 1 18 1-112 1 192 1 242 1-396 1-8 1-5 1 163 1-82 1 58 1-103 1-153 1 157 1-12 1 22 1-208 1 226 1-12 1 29 1-9 1 8 1-65 1 137 1-293 1 285 1-97 1 51 1 18 1 20 1 2 1 11 1-1 1 28 1 21 1-55 1 25 1-23 1 0 1 3 1 21 1-16 1-43 1 105 1-18 1-163 1 116 1 98 1 114 1-353 1 482 1-424 1 49 1-83 1 80 1-134 1 151 1-97 1 43 1 117 1-307 1 260 1-32 1-2 1-50 1 85 1-39 1 69 1-54 1 72 1-76 1 102 1-282 1 296 1-107 1-3 1 180 1-280 1 454 1-279 1-263 1 271 1-64 1 125 1-99 1-95 1 138 1-40 1 4 1-5 1 11 1-113 1 117 1-3 1 142 1-40 1-70 1 56 1-7 1-137 1 68 1 57 1-54 1-24 1 381 1-452 1 121 1 145 1-169 1 165 1-141 1-145 1 149 1-81 1 29 1 163 1-140 1-18 1 182 1-17 1-209 1 158 1-92 1-59 1 124 1-96 1 42 1 40 1-65 1-43 1 92 1-74 1 13 1 157 1-186 1 181 1-99 1-65 1 217 1-285 1 186 1 108 1-163 1-32 1 135 1 32 1-296 1 332 1-82 1-167 1 129 1-67 1 33 1-49 1 10 1 10 1 485 1-472 1-20 1 280 1-273 1 50 1-17 1-42 1 278 1-48 1-271 1 69 1-113 1 176 1-136 1 134 1-115 1 154 1-16 1 92 1-131 1-65 1-136 1 259 1-225 1 80 1-153 1 351 1-251 1-42 1-21 1 369 1-397 1 154 1-102 1 262 1-106 1 361 1-518 1 12 1 38 1 334 1-466 1 325 1-182 1-90 1 60 1 1 1 36 1 281 1-290 1-47 1 87 1-59 1 23 1 32 1-39 1 3 1-7 1 76 1-77 1-51 1 262 1-38 1 8 1-342 1-11 1 336 1-59 1-170 1 70 1 84 1-136 1 50 1-152 1 111 1-168 1 248 1 49 1-148 1 0 1 163 1-149 1 139 1-75 1 131 1-148 1-106 1 38 1-32 1 40 1-3 1 69 1-97 1-7 1 147 1-37 1-120 1 82 1-74 1 459 1-531 1-115 1 173 1 50 1-66 1 158 1-80 1 22 1-146 1 145 1-54 1 65 1-28 1 225 1-223 1 22 1 106 1-336 1 122 1 16 1 46 1 96 1-106 1 37 1-81 1-133 1 293 1 56 1 25 1 108 1-156 1 185 1-434 1 65 1 52 1 145 1-220 1 219 1-211 1 323 1-145 1-119 1-180 1 291 1-148 1 143 1 70 1-22 1 4 1 212 1-261 1-178 1-100 1 292 1-95 1-36 1 136 1-2 1-258 1 292 1-87 1-122 1 256 1-202 1-193 1 207 1 3 1-243 1 58 1 316 1-260 1 246 1 110 1-71 1-391 1 358 1-218 1 80 1 178 1 138 1-175 1-11 1 66 1 43 1-175 1-25 1 118 1 157 1-179 1-13 1 100 1-516 1 494 1-90 1 69 1-310 1 297 1-102 1-37 1-90 1 406 1-191 1 112 1-250 1-55 1 216 1 3 1 61 1 195 1-325 1-100 1 176 1-171 1 160 1-61 1-31 1 69 1 84 1-225 1 244 1 74 1-314 1 309 1-109 1 1 1 30 1-23 1 62 1 261 1-316 1 255 1-225 1-166 1 421 1-120 1-207 1-24 1-107 1 437 1-501 1 112 1 98 1 130 1-229 1 134 1 104 1-20 1 14 1-110 1-72 1 251 1-106 1-57 1 102 1 1 1-137 1-16 1 65 1 51 1-114 1 3 1-78 1 50 1 85 1 165 1-218 1-56 1-21 1 218 1-206 1-7 1 101 1-93 1 9 1 102 1-100 1 50 1 36 1 144 1-167 1 55 1-168 1 249 1-88 1-112 1 126 1 9 1-92 1 41 1-25 1 106 1-82 1-103 1 95 1-26 1 65 1-23 1-29 1 76 1-45 1 108 1-167 1 67 1-38 1 126 1-109 1 17 1-16 1-65 1 56 1-85 1 87 1-115 1 62 1 92 1-129 1 0 1 68 1-43 1 31 1-167 1 512 1-497 1 160 1-8 1-1 1 12 1-161 1 135 1 52 1-293 1 227 1-24 1 0 1-157 1 151 1-202 1 280 1 2 1-62 1 73 1-73 1-40 1 49 1-216 1 212 1 61 1 136 1-329 1 105 1 127 1-9 1-200 1 26 1-73 1 245 1-56 1 102 1 22 1-155 1 72 1-58 1-197 1 254 1-11 1-90 1-112 1 119 1-179 1 169 1 6 1-16 1 85 1 87 1-241 1-3 1-16 1-24 1-208 1 630 1-279 1-6 1-227 1 62 1 177 1 58 1-239 1 239 1-256 1 362 1-433 1-65 1 145 1 30 1 88 1 4 1-26 1-256 1 298 1-110 1 95 1-77 1-291 1 342 1-6 1-16 1-177 1 268 1-41 1-94 1 72 1 57 1-180 1-112 1 201 1 131 1-253 1 163 1-229 1-20 1 286 1-32 1 89 1-167 1 105 1-69 1-51 1 104 1 122 1-152 1 282 1-495 1 31 1 320 1-323 1 108 1 205 1 28 1 51 1-44 1-98 1 292 1-167 1 93 1-87 1-144 1-132 1 345 1-48 1-50 1-305 1 535 1-84 1-303 1 270 1-114 1 9 1-70 1-39 1-264 1 431 1-151 1-87 1 86 1 40 1 7 1 83 1-395 1 106 1 121 1 117 1-269 1 23 1 17 1 31 1 215 1-304 1 118 1 178 1-212 1 83 1-190 1-68 1 162 1-111 1 133 1-19 1-69 1-59 1-17 1 148 1 74 1 15 1-111 1 97 1-137 1 48 1-41 1-74 1 140 1 20 1-150 1 31 1 404 1-193 1-40 1-106 1 328 1-204 1-67 1-140 1-37 1-53 1 236 1-3 1 123 1-282 1 58 1-49 1 145 1 29 1-21 1-187 1 166 1-117 1-23 1 16 1 222 1-195 1 153 1-180 1 164 1 90 1-40 1 40 1-221 1 192 1-24 1-228 1 281 1-16 1 111 1-331 1 218 1 0 1-91 1 131 1-45 1-137 1 90 1 85 1-96 1-286 1 325 1-130 1 142 1-218 1 197 1-328 1 354 1-234 1 205 1-272 1 288 1-337 1 399 1-168 1-236 1 232 1 36 1 124 1-226 1 56 1-26 1 217 1-122 1-54 1 102 1-5 1 146 1-51 1-87 1-15 1-247 1 250 1-64 1 30 1 150 1-6 1-162 1-92 1 82 1 83 1-36 1-129 1 96 1 74 1-74 1-53 1-205 1 210 1 46 1 12 1-13 1-49 1 469 1-247 1-182 1 8 1-58 1 4 1 36 1 69 1-77 1 177 1-269 1 246 1-173 1 37 1-112 1 183 1-163 1 11 1 57 1 42 1 16 1-121 1 61 1 28 1 20 1-141 1 167 1-227 1 64 1 16 1 334 1-148 1 141 1-340 1 239 1-96 1 22 1 116 1-47 1 46 1-169 1 124 1-78 1-54 1 424 1-544 1 231 1-38 1-47 1-197 1 630 1-298 1-127 1-42 1 53 1-184 1 185 1 15 1-16 1 42 1 292 1-354 1 44 1 75 1-114 1 77 1 114 1-204 1-6 1 133 1-285 1-21 1 14 1 80 1 111 1 57 1-24 1-235 1 218 1-215 1 381 1-207 1 49 1 17 1-21 1 32 1 10 1-218 1 216 1 1 1-39 1-117 1 156 1-191 1 101 1-100 1 288 1-308 1 168 1-62 1 61 1-64 1 54 1 38 1 84 1-77 1 215 1-199 1-28 1-168 1 183 1-18 1 51 1-57 1-63 1-197 1 310 1-82 1-91 1-99 1 238 1 26 1-154 1 71 1 27 1 7 1-83 1 152 1-70 1-26 1 36 1-221 1 561 1-360 1-98 1 48 1-1 1 73 1 54 1 5 1-80 1-42 1 50 1 66 1-164 1 8 1 193 1-201 1 284 1-277 1 102 1 46 1 57 1-87 1-52 1-107 1 347 1-162 1 82 1-131 1-38 1 16 1 274 1-248 1 47 1-132 1 585 1-499 1 112 1-176 1 21 1 26 1-168 1 138 1-20 1 37 1-88 1 8 1 29 1 68 1-3 1-99 1 133 1-68 1-323 1 337 1-32 1-29 1 76 1-116 1 452 1-533 1 160 1 23 1 15 1-79 1 129 1-68 1 376 1-348 1 282 1-239 1 278 1-322 1 164 1-242 1 320 1-222 1-21 1 59 1-142 1-91 1 139 1-37 1-105 1 109 1 447 1-438 1-139 1-215 1 346 1 31 1 24 1-53 1 1 1 26 1 1 1-265 1 239 1-105 1 107 1 23 1-372 1 373 1 125 1-438 1 289 1-266 1 294 1-328 1 254 1-97 1 238 1-443 1 320 1 16 1-425 1 265 1 127 1 63 1-330 1 324 1 63 1-219 1 102 1 71 1-71 1-35 1 105 1-188 1 154 1-31 1 57 1 33 1-247 1-6 1 46 1 209 1-182 1 165 1-92 1 18 1 45 1-35 1 103 1-186 1-290 1 399 1-267 1 263 1 357 1-461 1-17 1 49 1 8 1 64 1-53 1-9 1 68 1 53 1-141 1-55 1 17 1 172 1-187 1 34 1 56 1 56 1-66 1-62 1-34 1 203 1-122 1 47 1-39 1-55 1 71 1 3 1-69 1 34 1 81 1-212 1 394 1-209 1-66 1 26 1-64 1-108 1 215 1-40 1-7 1-1 1-37 1 90 1-186 1 83 1 0 1-52 1 113 1-40 1 128 1-24 1-72 1-74 1 355 1-331 1 74 1 44 1-185 1 228 1-53 1 5 1-80 1-69 1-31 1 234 1 295 1-553 1 162 1 42 1 60 1-88 1-1 1 72 1-65 1 91 1-94 1 1 1-47 1 11 1 26 1 76 1-97 1 130 1-149 1 13 1-1 1 40 1 4 1 45 1 2 1 33 1 12 1-89 1-100 1 64 1 256 1-179 1-180 1 130 1 23 1-131 1 2 1 52 1 90 1 20 1-185 1 196 1-27 1 24 1 73 1-171 1 85 1-69 1 193 1-49 1-466 1 316 1-4 1 36 1 9 1 19 1-13 1-78 1-293 1 306 1-28 1 37 1 33 1-1 1 6 1 78 1-118 1 83 1-317 1 256 1 25 1 49 1-175 1 183 1-133 1 85 1 25 1 6 1-68 1-3 1 67 1 11 1-29 1 35 1 38 1-123 1 42 1 62 1 23 1-132 1 94 1-58 1 30 1-18 1 119 1-111 1 72 1 108 1-122 1 148 1 289 1-378 1-10 1 10 1 97 1-2 1-82 1 34 1-47 1 158 1-164 1 15 1 75 1-52 1 35 1-12 1 1 1 99 1 190 1-322 1 17 1 4 1 124 1-7 1-100 1-28 1 24 1 67 1-220 1 198 1-146 1 42 1 61 1-7 1-68 1 23 1 54 1-52 1 51 1-84 1 52 1 78 1 49 1-120 1 1 1 108 1 28 1-104 1 35 1-80 1-9 1-59 1 189 1-93 1-73 1 18 1-36 1 50 1-23 1 34 1-73 1 119 1-98 1-16 1-62 1 112 1-202 1 222 1-61 1 69 1-37 1-45 1-234 1 265 1-31 1 102 1-53 1 35 1-65 1 113 1 58 1-91 1-171 1-69 1 197 1-22 1 147 1-189 1-136 1 222 1-319 1 289 1-9 1 82 1-107 1 112 1-115 1 80 1 34 1-5 1 430 1-655 1 66 1 155 1-22 1 76 1-84 1 11 1-80 1 103 1-22 1 64 1-176 1 262 1-133 1 143 1-56 1 6 1-74 1 173 1-190 1-90 1 96 1 119 1-169 1-176 1 213 1-211 1 209 1-17 1 11 1 197 1 1 1-301 1-229 1 386 1 20 1-62 1 160 1-203 1 6 1-120 1-174 1 218 1 59 1 194 1-272 1-31 1 394 1-131 1-144 1-28 1 44 1 222 1-219 1-43 1 32 1 55 1-65 1-78 1 51 1-22 1 68 1 119 1-175 1 219 1-103 1-90 1 76 1-124 1 112 1 428 1-425 1-229 1 198 1 238 1-273 1-149 1 125 1-66 1 68 1 105 1-84 1 350 1-318 1 155 1-180 1 182 1-199 1-152 1 152 1-175 1 209 1 4 1-27 1 531 1-532 1-69 1-173 1 540 1-263 1 47 1 98 1 108 1-267 1-14 1 45 1-39 1-9 1 195 1-527 1 334 1 25 1-2 1-3 1 71 1-108 1 42 1-63 1 13 1-1 1 383 1-332 1 99 1-274 1 236 1-75 1 152 1-139 1 72 1-93 1 108 1 111 1-174 1 76 1-5 1-142 1 179 1-145 1 162 1-186 1 147 1-229 1 195 1-319 1 260 1-122 1 13 1 10 1-5 1-7 1 7 1-24 1 116 1-258 1 141 1 31 1-101 1 45 1 62 1-105 1 86 1-38 1 151 1-75 1-29 1-27 1-34 1-287 1 380 1-73 1 123 1-168 1 193 1-73 1 67 1-99 1-30 1 85 1-133 1 61 1 102 1 5 1 26 1-139 1-17 1 42 1 131 1-337 1 245 1-86 1-15 1 43 1 76 1-85 1-27 1 54 1 36 1-90 1-12 1-4 1-1 1 82 1-108 1 4 1 154 1-158 1 104 1-97 1 25 1-35 1 37 1-375 1 305 1-124 1 213 1-86 1 60 1-58 1 1 1 219 1-227 1-44 1 73 1 67 1-8 1-83 1 94 1-86 1 103 1 228 1-358 1 7 1 112 1-115 1-5 1-11 1 23 1-15 1-15 1 27 1 34 1-140 1 105 1-3 1 29 1-14 1 61 1 52 1-168 1 70 1-35 1 25 1-46 1 34 1-24 1 4 1 13 1 104 1-104 1 23 1 37 1-37 1 28 1-21 1-2 1-6 1-81 1 316 1-225 1 117 1-16 1 25 1-80 1-52 1 51 1-44 1-56 1 379 1-246 1-58 1 65 1 2 1-52 1-65 1-118 1 173 1 31 1-36 1-165 1 244 1 28 1-26 1 11 1-137 1 51 1-109 1-3 1 118 1 64 1-242 1 194 1-225 1 186 1-4 1-109 1 172 1 46 1-124 1 65 1 172 1-317 1 177 1-19 1-100 1 41 1-20 1-48 1 80 1-68 1 106 1-165 1-32 1 197 1-50 1 70 1-123 1 210 1-95 1-168 1 223 1 36 1-282 1 32 1 130 1-4 1-40 1 25 1-33 1 306 1-396 1 120 1-175 1 129 1 371 1-381 1 444 1-181 1-197 1 250 1-263 1-39 1 227 1-207 1-96 1 211 1-31 1-75 1 27 1-25 1 4 1 258 1-308 1 31 1-8 1 8 1-44 1 297 1-265 1-53 1 26 1-38 1-68 1 54 1 36 1 31 1-33 1 67 1-22 1 58 1-11 1-33 1-64 1 116 1-49 1 62 1-296 1 222 1 374 1-195 1-240 1 6 1 246 1-43 1-248 1 291 1-77 1 75 1 49 1-111 1-15 1-191 1 98 1 151 1-341 1 90 1 66 1 27 1-1 1 89 1 112 1-289 1 74 1-47 1 134 1-199 1 130 1 148 1-162 1-70 1-112 1 280 1-93 1-2 1 167 1-62 1-88 1 140 1-21 1-58 1 9 1 22 1-343 1 206 1 90 1-101 1 176 1-115 1 463 1-283 1-82 1 135 1-175 1 67 1-206 1 192 1-61 1-92 1 35 1 23 1-63 1 184 1 280 1-291 1 149 1-308 1 343 1-160 1 165 1-107 1-191 1-12 1 115 1-126 1 36 1 112 1-114 1 155 1-201 1 236 1-85 1-237 1 123 1 200 1 264 1-356 1-241 1-45 1 91 1 198 1-113 1 20 1-49 1-109 1 137 1 143 1-138 1-73 1 165 1-57 1-69 1-169 1 499 1-158 1-178 1 4 1 29 1-59 1-280 1 328 1 29 1 87 1-201 1 56 1-20 1 161 1 102 1-196 1-30 1 60 1 108 1-29 1-98 1 97 1-157 1-41 1 304 1-149 1-98 1-3 1 10 1 124 1-55 1-7 1-240 1 91 1 101 1 3 1-46 1 25 1-26 1 213 1 56 1-169 1 154 1-357 1 113 1 133 1-145 1 3 1-156 1 297 1-98 1-89 1 17 1-55 1 189 1 88 1-389 1 406 1-128 1 71 1-183 1-81 1 344 1 50 1-484 1 301 1-124 1-7 1 175 1 83 1-186 1-14 1 439 1-458 1 131 1-159 1-1 1 92 1 29 1 58 1-59 1 35 1 17 1-170 1 129 1 217 1-255 1-3 1-191 1 147 1 28 1 10 1 17 1-100 1 96 1-101 1 55 1 105 1-75 1-34 1-8 1 10 1-72 1 167 1-62 1 37 1-23 1 172 1-195 1 174 1-166 1-88 1 88 1 169 1-171 1-33 1 56 1-82 1 77 1 167 1-186 1 23 1-22 1-24 1-67 1 25 1 16 1-22 1 152 1-125 1 194 1-140 1-67 1-21 1-19 1 193 1-63 1-63 1 10 1-39 1 43 1 193 1-235 1-24 1-183 1 267 1-6 1-29 1 170 1-236 1-71 1 168 1 39 1-96 1 158 1-28 1 21 1-129 1 90 1-20 1-33 1-66 1 104 1-41 1 56 1 39 1-51 1-85 1 254 1-132 1-250 1 177 1-244 1 237 1 21 1-67 1 238 1-121 1-118 1 56 1 233 1-253 1-6 1-55 1 126 1 2 1 38 1-43 1 12 1-43 1-42 1-72 1 108 1-78 1 377 1-348 1-80 1 82 1-147 1 156 1-53 1 31 1-14 1 125 1-148 1-1 1-194 1 206 1 149 1-161 1 163 1-184 1 140 1-146 1 50 1 87 1-23 1-65 1 62 1-70 1 219 1-144 1 81 1-214 1 107 1 103 1-127 1 1 1-153 1-51 1 209 1-102 1 119 1 108 1 164 1-395 1 117 1 37 1 114 1-398 1 379 1-304 1 514 1-451 1 198 1-271 1 173 1-9 1 17 1 54 1-36 1-86 1 28 1-68 1 103 1 33 1-50 1-28 1 59 1 35 1 5 1-103 1-34 1 386 1-287 1 19 1 13 1-51 1 90 1 173 1 155 1-350 1-64 1 306 1-195 1 184 1 168 1-376 1-13 1 55 1 7 1-61 1 226 1-161 1-14 1 96 1-97 1 70 1 84 1 30 1-342 1 380 1-222 1 204 1-271 1 103 1-66 1 149 1 267 1-478 1 112 1 18 1-99 1 215 1-370 1 140 1-194 1 189 1-3 1 227 1-334 1 78 1-47 1 275 1-269 1 4 1 71 1 166 1-74 1-67 1-20 1 143 1-159 1 69 1 22 1-218 1-19 1 188 1-32 1 119 1-199 1 235 1-182 1 181 1 96 1-68 1-282 1-50 1 170 1-54 1-119 1 291 1-137 1-178 1-135 1 480 1-301 1 312 1-77 1-100 1 46 1 55 1-132 1 198 1-147 1 166 1-157 1-223 1 206 1-199 1 171 1 39 1-27 1 13 1 22 1 77 1-184 1-9 1 80 1 115 1-49 1 5 1-46 1 27 1-54 1 158 1-86 1-64 1 211 1-92 1-44 1 107 1-110 1-36 1 17 1 14 1 24 1-74 1 58 1-28 1 18 1 30 1 16 1-17 1 144 1-251 1-172 1 228 1 33 1 108 1-315 1 37 1 487 1-406 1 29 1 129 1 63 1-256 1-161 1 148 1 18 1-44 1-14 1 153 1-165 1 47 1 86 1-126 1 205 1-79 1 86 1-189 1 296 1-106 1 6 1-174 1 86 1-111 1 118 1 52 1-81 1-174 1 205 1-144 1 161 1 81 1-138 1-34 1 136 1-116 1 243 1-34 1-483 1 119 1 45 1-61 1 221 1-218 1-324 1 678 1-140 1-224 1 2 1 427 1-212 1 86 1-96 1 362 1-346 1-49 1 35 1 320 1-365 1-46 1 174 1 203 1-42 1-352 1 202 1-73 1 5 1 317 1-440 1 79 1 36 1-22 1 153 1 250 1-429 1-66 1 147 1 354 1-378 1 101 1-90 1-88 1 574 1-581 1 350 1-358 1 13 1 74 1-1 1 21 1-56 1 38 1-40 1-72 1 229 1 213 1 103 1-81 1-305 1-131 1 80 1 131 1-161 1 72 1-66 1-39 1 27 1-99 1 114 1 120 1-145 1-5 1 20 1 127 1-11 1-61 1-91 1-59 1 186 1-14 1-75 1 23 1 168 1-204 1 11 1-111 1 244 1-163 1-189 1 109 1 105 1 46 1 124 1-276 1 444 1-246 1-73 1-7 1-112 1 17 1-16 1-91 1 184 1 88 1-99 1-160 1 164 1-102 1 46 1 8 1 258 1-254 1 45 1-188 1 175 1 135 1 36 1-91 1 59 1-236 1 49 1 174 1-120 1 85 1-100 1-58 1 100 1-139 1 214 1-205 1 116 1 219 1-15 1-60 1-123 1-133 1 148 1 112 1-42 1-180 1 83 1-85 1 101 1 148 1-68 1-227 1 287 1-12 1-76 1 92 1-161 1-46 1 54 1-95 1 75 1-117 1 59 1-19 1 54 1-91 1 75 1-64 1 286 1-251 1 108 1-59 1 117 1-233 1 170 1-74 1-3 1-105 1 450 1-481 1-210 1 354 1-284 1 165 1 355 1-203 1-173 1 90 1 80 1-24 1 18 1 20 1 12 1-18 1 260 1-356 1 203 1-220 1 138 1-148 1 442 1-415 1 141 1 28 1-91 1-3 1 293 1-398 1-20 1 186 1-81 1 80 1-141 1 38 1-41 1 203 1 89 1-118 1-164 1 34 1-25 1 49 1 133 1-181 1 110 1-1 1 22 1-54 1-56 1-12 1 32 1 106 1-102 1 29 1-169 1 137 1 6 1 128 1-124 1 11 1-313 1 321 1-21 1-29 1 310 1-189 1-83 1-53 1-106 1 306 1 212 1-281 1-90 1 128 1-217 1 105 1-28 1 13 1-21 1 216 1-362 1 375 1-235 1-22 1 249 1-223 1 166 1-192 1-126 1 270 1-72 1-65 1 47 1-75 1-34 1 110 1 75 1 78 1-139 1 107 1 164 1-273 1 30 1 136 1-315 1 122 1 165 1 44 1-61 1 9 1-322 1 180 1 36 1 168 1-169 1 96 1-371 1 358 1-136 1 65 1-28 1-6 1-53 1-26 1 97 1-38 1-21 1 70 1-35 1 124 1-176 1 179 1 88 1-174 1 88 1-30 1-36 1 33 1-80 1 10 1-148 1 299 1-183 1 74 1 109 1 9 1 123 1-147 1-56 1-72 1 377 1-364 1 57 1-73 1 398 1-236 1 90 1-43 1-178 1 47 1 30 1 56 1-47 1-75 1-185 1 325 1 85 1-31 1-147 1 139 1-144 1 82 1-93 1 105 1 35 1-102 1-57 1 85 1-68 1 67 1-79 1-15 1-136 1 75 1 95 1 194 1-149 1-111 1-242 1 423 1-131 1-73 1 308 1-113 1-374 1 331 1-18 1 2 1-28 1-17 1-44 1-14 1 64 1 46 1-11 1 29 1-40 1-15 1-131 1 100 1 41 1 101 1 226 1-454 1 119 1 121 1 153 1-182 1-28 1-139 1 70 1 6 1-331 1 180 1 124 1 40 1 181 1-366 1 79 1-26 1 76 1-55 1-197 1 224" fill="none" stroke="#0072BD" stroke-width="0.45" stroke-linejoin="round" vector-effect="non-scaling-stroke"/></svg>
<rect x="207.4" y="219.5" width="141.0" height="63.9" fill="none" stroke="#262626" stroke-width="0.62"/>
<path d="M254.40,283.4v-1.4M254.40,219.5v1.4M301.40,283.4v-1.4M301.40,219.5v1.4M207.4,251.45h1.4M348.4,251.45h-1.4" stroke="#262626" stroke-width="0.7" fill="none"/>
<text x="209.00" y="294.40" font-size="8.7" text-anchor="middle" fill="#262626">0</text>
<text x="256.00" y="294.40" font-size="8.7" text-anchor="middle" fill="#262626">2000</text>
<text x="303.00" y="294.40" font-size="8.7" text-anchor="middle" fill="#262626">4000</text>
<text x="350.00" y="294.40" font-size="8.7" text-anchor="middle" fill="#262626">6000</text>
<text x="206.30" y="222.55" font-size="8.5" text-anchor="end" fill="#262626">10</text>
<text x="206.30" y="254.70" font-size="8.5" text-anchor="end" fill="#262626">0</text>
<text x="206.30" y="287.15" font-size="8.5" text-anchor="end" fill="#262626">-10</text>
<text x="263.30" y="306.90" font-size="10.2" fill="#262626" style="stroke-width:0.1px">Epoch/s</text>
<text transform="translate(198.20,251.55) rotate(-90)" font-size="9.6" text-anchor="middle" fill="#262626" style="stroke-width:0.2px">U/mm</text>
<svg x="395.1" y="219.5" width="141.0" height="63.9" overflow="hidden"><path transform="scale(0.035259,0.04)" d="M0 751l1 133 1 33 1-39 1-98 1 110 1-118 1 94 1-90 1 74 1-65 1 138 1-108 1 60 1-63 1 82 1-113 1 67 1-35 1 119 1-72 1 29 1-97 1-43 1 27 1 100 1 21 1 47 1-64 1 7 1 187 1-230 1 32 1-7 1-33 1 76 1-71 1-61 1 138 1 7 1 13 1-50 1-36 1 27 1-138 1 67 1 33 1-59 1 78 1-130 1-38 1 42 1 127 1 37 1-65 1 32 1 69 1-60 1-225 1 170 1-170 1 258 1-89 1 30 1-37 1-64 1 214 1-100 1-18 1-81 1 53 1-30 1 24 1-27 1 487 1-500 1-125 1 167 1-32 1 22 1 145 1-179 1 41 1 31 1 13 1 13 1 37 1-40 1 12 1 98 1-123 1-94 1 72 1-41 1 40 1 79 1-105 1-14 1 63 1-87 1 165 1-146 1 1 1 21 1 2 1-14 1 16 1-11 1-156 1 254 1-58 1-27 1 373 1-468 1 31 1-62 1-42 1 218 1-122 1 6 1 8 1-108 1 256 1-191 1 45 1 199 1-198 1-110 1 145 1 4 1 98 1 48 1-217 1 36 1 36 1 100 1-176 1-63 1 76 1 183 1-196 1 66 1 36 1-195 1 96 1 118 1-142 1 14 1 56 1 1 1-200 1 326 1-78 1-237 1-60 1 303 1-205 1 260 1-64 1-98 1 389 1-233 1-42 1 52 1-108 1-109 1 125 1-120 1 56 1-108 1 115 1-18 1 164 1-213 1-49 1 177 1 201 1-193 1-21 1-6 1 135 1-123 1-18 1 25 1-4 1 80 1-129 1-41 1 201 1-117 1 2 1-104 1 30 1 117 1-10 1-136 1 46 1 40 1 12 1 81 1-74 1 57 1 38 1-180 1 79 1 155 1-338 1 59 1 127 1 238 1-257 1 29 1-94 1 214 1-155 1-94 1 81 1-87 1 70 1 15 1 17 1 76 1-103 1-94 1 29 1 101 1-38 1 71 1-55 1-18 1 10 1 2 1 60 1 11 1-95 1 46 1 2 1-3 1-169 1-1 1 222 1 84 1-251 1 264 1-110 1-124 1 106 1-293 1 369 1-34 1-63 1-168 1 116 1 30 1-137 1 185 1 38 1-334 1 490 1-259 1 52 1-344 1 607 1-618 1 382 1-87 1-44 1 194 1-118 1-152 1 176 1 97 1-127 1-155 1 115 1-212 1 256 1-312 1 299 1 96 1-140 1 66 1 136 1-526 1 379 1-100 1 11 1-143 1 447 1-180 1 20 1-342 1 269 1 30 1 51 1-9 1-155 1-29 1 132 1-235 1 242 1 97 1-16 1-78 1 148 1-136 1-92 1-180 1 357 1-90 1 1 1-86 1 170 1-44 1-331 1 350 1 232 1-227 1-55 1 3 1-1 1 10 1 107 1-222 1 161 1-55 1-4 1 37 1-475 1 504 1-184 1 10 1 82 1 90 1-53 1-30 1 204 1-182 1 92 1-23 1-176 1 122 1 57 1 71 1-335 1 202 1-100 1 227 1-334 1 182 1 13 1-36 1 137 1-123 1-65 1 77 1 72 1 57 1-126 1-28 1 38 1 124 1-51 1-49 1-23 1-3 1 6 1 113 1 13 1-102 1-58 1 237 1-116 1-99 1 63 1-52 1 29 1 6 1 32 1-48 1 31 1 204 1-194 1 204 1 185 1-426 1-67 1 158 1 79 1-161 1 444 1-434 1 33 1-17 1 36 1-18 1-2 1 48 1 3 1-83 1 150 1-186 1 77 1-58 1 52 1-27 1-17 1 171 1-102 1 55 1-76 1 55 1-38 1-23 1 268 1-148 1-40 1-99 1 2 1 61 1-29 1-47 1-30 1 119 1-52 1-17 1 21 1 89 1-91 1 44 1-180 1 228 1-272 1 81 1 91 1-37 1 33 1-86 1 101 1-72 1 29 1 76 1 50 1-98 1 57 1-66 1-23 1 108 1-101 1 46 1-45 1 85 1-135 1-11 1 125 1-84 1 65 1-77 1 7 1 92 1-66 1 7 1-2 1-27 1 0 1-22 1 49 1-10 1 16 1-53 1 176 1-108 1 181 1-213 1 213 1-202 1 75 1-116 1 39 1-5 1-4 1-1 1 167 1-193 1 13 1-34 1-6 1 87 1-99 1-47 1 99 1-27 1-143 1 110 1 9 1-59 1 56 1 37 1-98 1 115 1 20 1-126 1 59 1 35 1-48 1-95 1 85 1 29 1 23 1-149 1 68 1 84 1-54 1 108 1-126 1 39 1-64 1-36 1 80 1-103 1-48 1 7 1 215 1 12 1 119 1-137 1-294 1 205 1 13 1-34 1 142 1-156 1 61 1-97 1 77 1-7 1 16 1 129 1-206 1 76 1 37 1 93 1-118 1-62 1 74 1-63 1 44 1-120 1 69 1 275 1-333 1 361 1-274 1-63 1 62 1 120 1-236 1 13 1 87 1 21 1 191 1-31 1-183 1-11 1 40 1-42 1 140 1-60 1 17 1 164 1-212 1 207 1-345 1 281 1-116 1 105 1-128 1 286 1-142 1 150 1-337 1-24 1-11 1-153 1 197 1-169 1 143 1-92 1 112 1-102 1 123 1 140 1-462 1 353 1 3 1 9 1-60 1-206 1 356 1-290 1 120 1 39 1-4 1 167 1-148 1 10 1-53 1 6 1 47 1-26 1-42 1-183 1 422 1-129 1-101 1 205 1-114 1 77 1 161 1-496 1 164 1 67 1-194 1 331 1-192 1 21 1-236 1 304 1-112 1 17 1 106 1-29 1-204 1 201 1-62 1 39 1-57 1 70 1-86 1 116 1-44 1 54 1-82 1 30 1 61 1-81 1-19 1 122 1-29 1 50 1-310 1 271 1-71 1-4 1 132 1-26 1-123 1 7 1 58 1-62 1-168 1 227 1-49 1 107 1-36 1-59 1-112 1 139 1-50 1 47 1 0 1-44 1 374 1-289 1 118 1-193 1-170 1 288 1 207 1-321 1 11 1 63 1-64 1 51 1 255 1-495 1 379 1-406 1 659 1-463 1-42 1 99 1 65 1-130 1-68 1-135 1 190 1 73 1-38 1-64 1 85 1 42 1 0 1-258 1 196 1 67 1-27 1-295 1 427 1-120 1 3 1-24 1-128 1 180 1-94 1 162 1-33 1-23 1 149 1-258 1 344 1-179 1-7 1-170 1 38 1 50 1-44 1 25 1-103 1 10 1-185 1 259 1 0 1-63 1 38 1-16 1 50 1 21 1 44 1-205 1 157 1-175 1 215 1-74 1 234 1-90 1-117 1-5 1-19 1-76 1 99 1 37 1 38 1-193 1 139 1-18 1 9 1-86 1 88 1-46 1 61 1-106 1 94 1-26 1 14 1-132 1 93 1-92 1-1 1 156 1 21 1-220 1-165 1 472 1-133 1-11 1 48 1-67 1 126 1-162 1 59 1-90 1 31 1-36 1 138 1 107 1-126 1-171 1 29 1 158 1-34 1-95 1 43 1-24 1 54 1 17 1-232 1 315 1-50 1-36 1-53 1 54 1 36 1-39 1 81 1 80 1 37 1-189 1 43 1-87 1 86 1 118 1-108 1-91 1 42 1-32 1 93 1-114 1 266 1-35 1-112 1-38 1 29 1 14 1-27 1 27 1-141 1 150 1-26 1-68 1 66 1-103 1 145 1-30 1 45 1-138 1 88 1 18 1-68 1 23 1 46 1 6 1-39 1 68 1-27 1-58 1-102 1 31 1 140 1-129 1 32 1 6 1 61 1 24 1 33 1-4 1-19 1-56 1 98 1-97 1 171 1-154 1 27 1-148 1 145 1-32 1 23 1-140 1-195 1 312 1 22 1 30 1-18 1-15 1-170 1 188 1-75 1-63 1 135 1 18 1-34 1-32 1 37 1-8 1-40 1 2 1 58 1 31 1-52 1-64 1 60 1 44 1-46 1 70 1-76 1 51 1-183 1 109 1 24 1 4 1 3 1-29 1 29 1-55 1-1 1-19 1 60 1 5 1 46 1-96 1 70 1 14 1-36 1-64 1-3 1 89 1-210 1 229 1-145 1 61 1 54 1-37 1 5 1 79 1-167 1 93 1 44 1-4 1 296 1-290 1-166 1 113 1-68 1 162 1-53 1-14 1-26 1 12 1-18 1-34 1 146 1 26 1 100 1-121 1-9 1-71 1 128 1-202 1 139 1-47 1 17 1 26 1 259 1-391 1 168 1 7 1-227 1 111 1 45 1-61 1 238 1-197 1-20 1 30 1-1 1 78 1-308 1 355 1-128 1-6 1-141 1-67 1 93 1-99 1 34 1 262 1-87 1 126 1-287 1 197 1 239 1-312 1 120 1 29 1-115 1 36 1-33 1-64 1 73 1-89 1 64 1 92 1-65 1-69 1 70 1-7 1 165 1-237 1-168 1 244 1-26 1 40 1 29 1-23 1 116 1-43 1-33 1-198 1 213 1-201 1 201 1 143 1-246 1-30 1-74 1 338 1-118 1-130 1 121 1-50 1 41 1-78 1 85 1-193 1 301 1-353 1 168 1 116 1-67 1-31 1 137 1-100 1 79 1-109 1 52 1-166 1 281 1-401 1 228 1-250 1 257 1 69 1 51 1-317 1 311 1-399 1-51 1 184 1 557 1-385 1-131 1 44 1 45 1-108 1 107 1-19 1 130 1-107 1 14 1-10 1 54 1-77 1-352 1 256 1 123 1-106 1 299 1-204 1 11 1-102 1-40 1 110 1-15 1-32 1 109 1-117 1 97 1-14 1 61 1-132 1 92 1-103 1 76 1 44 1-101 1-4 1 185 1-107 1 3 1-81 1 55 1 70 1-59 1-42 1 407 1-427 1 74 1-70 1-25 1 105 1-179 1 82 1 78 1 17 1-24 1-85 1 171 1-144 1 67 1-98 1 96 1 145 1-403 1 257 1 323 1-395 1-68 1 39 1-12 1 222 1-282 1 158 1 67 1-192 1 110 1 43 1-17 1-144 1 107 1 80 1-54 1-209 1 218 1 92 1-56 1-82 1 69 1-47 1-53 1 25 1 58 1-49 1 43 1-107 1-6 1 96 1-23 1 0 1-15 1-122 1 76 1 72 1-51 1 65 1-81 1 21 1-5 1-123 1 386 1-369 1 118 1 22 1-39 1 12 1 6 1 19 1-100 1 50 1 62 1-90 1 106 1 69 1-84 1-38 1-24 1-35 1-212 1 161 1 97 1-55 1 210 1-172 1 35 1 122 1 31 1-102 1-108 1 154 1-148 1-36 1 92 1-65 1 179 1-246 1 180 1 70 1 256 1-255 1-179 1 117 1 63 1-88 1-261 1 23 1 179 1-269 1 216 1 39 1 58 1-278 1 186 1-13 1-210 1 21 1 290 1-257 1 128 1-44 1 85 1 180 1-203 1-124 1 208 1-368 1 283 1 145 1-98 1 12 1-357 1-5 1 121 1 98 1 114 1-211 1 194 1-312 1 353 1-31 1-9 1 71 1-72 1 32 1-45 1 27 1-320 1-9 1 365 1-149 1 261 1-142 1-48 1-135 1 134 1-183 1 27 1 46 1-255 1 401 1-133 1-115 1 188 1-40 1 30 1-63 1-28 1 0 1 134 1-4 1-34 1-50 1 34 1 76 1-84 1-134 1 160 1-126 1 44 1 124 1-96 1-79 1 56 1 88 1-32 1 34 1 51 1-187 1 99 1-15 1 19 1 65 1-68 1-153 1 157 1 70 1-128 1 100 1-17 1-74 1-261 1 196 1 410 1-275 1-2 1-29 1 19 1-8 1 43 1-59 1 15 1 24 1-14 1-72 1 137 1-24 1-59 1-51 1-303 1 528 1 26 1-260 1 139 1-164 1 162 1-34 1-41 1 165 1 16 1-204 1 30 1 38 1-15 1 158 1-183 1 45 1-186 1 276 1-54 1-102 1 171 1-128 1 15 1-55 1 16 1 127 1-74 1-51 1 249 1-229 1 19 1-94 1 19 1 11 1 357 1-209 1-126 1-57 1 158 1-34 1 58 1-25 1-212 1 72 1 64 1 13 1-223 1 148 1 82 1 45 1-33 1-18 1-37 1 86 1-261 1 113 1 83 1-108 1 170 1 28 1-17 1-98 1 106 1 43 1-4 1 14 1-42 1-6 1-9 1-80 1 97 1-137 1 89 1 96 1-25 1 67 1-101 1-65 1 240 1-334 1 464 1-306 1-22 1-185 1 189 1-93 1 105 1 24 1-65 1-86 1-136 1 258 1-7 1-25 1-24 1-22 1 73 1 51 1-45 1-129 1 128 1 39 1-245 1 158 1 44 1-38 1 179 1-137 1 302 1-329 1-179 1 312 1-95 1-49 1 69 1-12 1 40 1-4 1-19 1 3 1 2 1 104 1-102 1 144 1-23 1-16 1-91 1-62 1 99 1-107 1 56 1 49 1-43 1-8 1 334 1-343 1 35 1 35 1-58 1 33 1-11 1-88 1 91 1 17 1-56 1 21 1-2 1 107 1 26 1-108 1-67 1 130 1-84 1 3 1 63 1-70 1 16 1-75 1 55 1 155 1-112 1-42 1-7 1 48 1-69 1 102 1-49 1 143 1-15 1-31 1-49 1-14 1-36 1 167 1-65 1-91 1-172 1 202 1 15 1-51 1 19 1-31 1 14 1 180 1-218 1 164 1 298 1-422 1-27 1-20 1 29 1 87 1-61 1 40 1 197 1-242 1-56 1 118 1-149 1 43 1-9 1-11 1 24 1 100 1 30 1-37 1-14 1-52 1-106 1 227 1-190 1 99 1-174 1 66 1 25 1 19 1-78 1 217 1-250 1 103 1-57 1 91 1 52 1-50 1-85 1 127 1-82 1 70 1-215 1 338 1-189 1 9 1-44 1 98 1-57 1 16 1-25 1-6 1 34 1-43 1 23 1 3 1-10 1 24 1-26 1-5 1 4 1 112 1 69 1-148 1 114 1-207 1-125 1 142 1 112 1 40 1-106 1-50 1 3 1 119 1-217 1 263 1-319 1 342 1-79 1 16 1-138 1 205 1-181 1 63 1-17 1-187 1 177 1-107 1 46 1 198 1-195 1 195 1-134 1-142 1 50 1 127 1-15 1-193 1 156 1-100 1 439 1-437 1-170 1 322 1-86 1 30 1 37 1 35 1-73 1-7 1 6 1 12 1-7 1-178 1 354 1-153 1-23 1 79 1-269 1 140 1-21 1 191 1-81 1 40 1-97 1 35 1-237 1 356 1-46 1 106 1 27 1-180 1 201 1-299 1-39 1 275 1-120 1-5 1 10 1-112 1 210 1-166 1-66 1 149 1-41 1 2 1-10 1-81 1 112 1 2 1 207 1-199 1-207 1 246 1-63 1 45 1-153 1 64 1 44 1-37 1 62 1-19 1-175 1 76 1-18 1 20 1 6 1-127 1-133 1 191 1 172 1-26 1 11 1 58 1-27 1 30 1-50 1-13 1-111 1 159 1 132 1-155 1-16 1-30 1 123 1-188 1 12 1 83 1 177 1-225 1 46 1-28 1-364 1 444 1-60 1-123 1-89 1 209 1-15 1-138 1-38 1 5 1 213 1-217 1 77 1 134 1 28 1 68 1-15 1-73 1-43 1 104 1-35 1-145 1 132 1 31 1-160 1 206 1-37 1 13 1 13 1-64 1-147 1 205 1-26 1-139 1 148 1 36 1-5 1-243 1 203 1-185 1 208 1-151 1 419 1-302 1-16 1 90 1-211 1 214 1-269 1 340 1-153 1 66 1-141 1-37 1 229 1-46 1 34 1 4 1-173 1-51 1 183 1-62 1 118 1-274 1 159 1-73 1 105 1 35 1-79 1-185 1 130 1 90 1 23 1 3 1-57 1-21 1-40 1 39 1-18 1 86 1-19 1 24 1-91 1 108 1-98 1 90 1-17 1-270 1 251 1-242 1 150 1 147 1-24 1-181 1 186 1-42 1-24 1-25 1 33 1 71 1-52 1-39 1 29 1-29 1 56 1 18 1-56 1 77 1-56 1 55 1-106 1-56 1 82 1-83 1 97 1-10 1 12 1 80 1-85 1 67 1-65 1 58 1-98 1 101 1-138 1 243 1-181 1 37 1-45 1 36 1 304 1-345 1 10 1 3 1-3 1 15 1-137 1 80 1 71 1-10 1-41 1 116 1-134 1 4 1-6 1 176 1-119 1 32 1-78 1-16 1 13 1 108 1-101 1 7 1-9 1 110 1 91 1-95 1-122 1 90 1-2 1 33 1-171 1 15 1 135 1-136 1 179 1-59 1-71 1-58 1 70 1-51 1 116 1 4 1-96 1 61 1-54 1-13 1 2 1-31 1 27 1-28 1 179 1-115 1-93 1 84 1-132 1 42 1 348 1-275 1 10 1 9 1-150 1 157 1 61 1-142 1 134 1-187 1 289 1-262 1-194 1 190 1-15 1 115 1-31 1-67 1-162 1 127 1 15 1-86 1 99 1-7 1 45 1-55 1 36 1-68 1 138 1-195 1 89 1-51 1 155 1-127 1-157 1 271 1 40 1-53 1-14 1-60 1-173 1 148 1 88 1-23 1-23 1-42 1 64 1 19 1 11 1-117 1 91 1 6 1-193 1 200 1 90 1-76 1-108 1 20 1 184 1-152 1 139 1-163 1 377 1-310 1 229 1-231 1 20 1-11 1 185 1-165 1 78 1-94 1 319 1-307 1-41 1-120 1 243 1-211 1 168 1 8 1-302 1 262 1 12 1-181 1 179 1 17 1 27 1-206 1-89 1 218 1 13 1 8 1-123 1 81 1-44 1 84 1 113 1-151 1 1 1-22 1 1 1-22 1-65 1 73 1 8 1-32 1 48 1 22 1-82 1 81 1-156 1-42 1 228 1-116 1 41 1-144 1 117 1-56 1 46 1 55 1-1 1 38 1-120 1 96 1 261 1-403 1 183 1 22 1 159 1-205 1-17 1 12 1-182 1 162 1 5 1-50 1 129 1 131 1-335 1 131 1-7 1 53 1-58 1-25 1 32 1 226 1-352 1 227 1-48 1-35 1-1 1 185 1-197 1 0 1 53 1 32 1-224 1 171 1-4 1-24 1 66 1-86 1 170 1-116 1 18 1-102 1 23 1-21 1 99 1 24 1-70 1 36 1-27 1-15 1 38 1-82 1 83 1-58 1 52 1 54 1-38 1-13 1-5 1-15 1 19 1 57 1-11 1-17 1-351 1 321 1-46 1 115 1-199 1 83 1-61 1 71 1 6 1-35 1 71 1 27 1 108 1-104 1-22 1-26 1-208 1 111 1 68 1-43 1 217 1-126 1-34 1-11 1 0 1-63 1 106 1-28 1-3 1-25 1 25 1-10 1-232 1 222 1 19 1 116 1-117 1 45 1 335 1-409 1 20 1 121 1-166 1 43 1 0 1 44 1-47 1 5 1-95 1 114 1-38 1 27 1-97 1 189 1-186 1 195 1-117 1-50 1 81 1 6 1-42 1-8 1 47 1-48 1 65 1-148 1-17 1 133 1 171 1-282 1 282 1-162 1 68 1-38 1-13 1-58 1 103 1-24 1-69 1 108 1-64 1-38 1 361 1-368 1 91 1-58 1-8 1 39 1 341 1-525 1 145 1 30 1-18 1-336 1 341 1-250 1 249 1-101 1 365 1-265 1 11 1-296 1 272 1 49 1 100 1-308 1 146 1-112 1-50 1 66 1-85 1 273 1-69 1-18 1 38 1-215 1 207 1 65 1 61 1-313 1 192 1 68 1-71 1 36 1 5 1-14 1 5 1-85 1 55 1-42 1 75 1 51 1-132 1 106 1 66 1-45 1-80 1-60 1 59 1-27 1 19 1 42 1 53 1 63 1 48 1-245 1 62 1 53 1-43 1-8 1 30 1 52 1-143 1-62 1 156 1-228 1 80 1 87 1 30 1 64 1-179 1 25 1 69 1 75 1-134 1-130 1 198 1 5 1 0 1-17 1 328 1-235 1-187 1 207 1-171 1 200 1-88 1-71 1 15 1-66 1 80 1-5 1-83 1 148 1 21 1 28 1-11 1-140 1 44 1-82 1 145 1 110 1-206 1-20 1 220 1-236 1 157 1-200 1 70 1 245 1-13 1-228 1 69 1-35 1 463 1-508 1 145 1 85 1-207 1 150 1-296 1 333 1-203 1 110 1-157 1 3 1 33 1 144 1-101 1 59 1-26 1-60 1-318 1 323 1-14 1-44 1 85 1 130 1 183 1-274 1-76 1-58 1 75 1-62 1 81 1 72 1 215 1-369 1 340 1-314 1 375 1-431 1 223 1-212 1 282 1-216 1 33 1-123 1 62 1-48 1 86 1-74 1-35 1 57 1 418 1-526 1 20 1-7 1 119 1 90 1-52 1-152 1 115 1-121 1 137 1-138 1 119 1 50 1-46 1 185 1-526 1 707 1-231 1-28 1-104 1 89 1-76 1-84 1 36 1-100 1 229 1 9 1-121 1 210 1-625 1 753 1-352 1 72 1-343 1 355 1 9 1-40 1-53 1 126 1-127 1 27 1 20 1 266 1-291 1 8 1 14 1 94 1-246 1 118 1-104 1 20 1-12 1 106 1-29 1 124 1-96 1-36 1 117 1-96 1-375 1 192 1-43 1 298 1 263 1-447 1 46 1-142 1 186 1-181 1 187 1-84 1 124 1-19 1-42 1-73 1 42 1 33 1-55 1 265 1-181 1-155 1 145 1-113 1 37 1-61 1 128 1-28 1 32 1-171 1 177 1-41 1-2 1 255 1-170 1 153 1-11 1-350 1 137 1-114 1 94 1 257 1-177 1 12 1-49 1-24 1-1 1 265 1-360 1 369 1-289 1 14 1 31 1-14 1 81 1 33 1-104 1-18 1 235 1-189 1-15 1 26 1-196 1 340 1-140 1 418 1-490 1 276 1-392 1 201 1 294 1 39 1-379 1-37 1 106 1-38 1-22 1-43 1 52 1-51 1 46 1 393 1-426 1 47 1-17 1-24 1 9 1 109 1-125 1 10 1-1 1 93 1-60 1-10 1 38 1 109 1-77 1-87 1-92 1 219 1 83 1-24 1-328 1 266 1-94 1 89 1-215 1 225 1-83 1 175 1-328 1 217 1-63 1 84 1-10 1-38 1-29 1-38 1 134 1 11 1-494 1 403 1-70 1 64 1-29 1 2 1 1 1 124 1-465 1 409 1-155 1 3 1 69 1-15 1 24 1 87 1-111 1 156 1-365 1 318 1-81 1 11 1-89 1 15 1 18 1-13 1 82 1-105 1 52 1-14 1 61 1-33 1 29 1 70 1-15 1 9 1-73 1 1 1 75 1 13 1-55 1-20 1-1 1-84 1 152 1-58 1 25 1-15 1 7 1-35 1 420 1-356 1-4 1 119 1-42 1 5 1-63 1 86 1-97 1 132 1-136 1 129 1-64 1-56 1 48 1 32 1-48 1 23 1 262 1-214 1-81 1-5 1 114 1-5 1-90 1-5 1 4 1 169 1-298 1-15 1 56 1 218 1-124 1 64 1-128 1 274 1-211 1-92 1 94 1-29 1 7 1 93 1 6 1-18 1-76 1-160 1 286 1 97 1-168 1-221 1 153 1-139 1 247 1-6 1-130 1 101 1-105 1 95 1-68 1-88 1 58 1-59 1 75 1-66 1 3 1 9 1-84 1 73 1 65 1-122 1 161 1-164 1-97 1 260 1-48 1-75 1 108 1-86 1 61 1 74 1 73 1-161 1-59 1 110 1-13 1 43 1 50 1-66 1-218 1 78 1-161 1 269 1-4 1-3 1-12 1 25 1-33 1 92 1-6 1-22 1 458 1-583 1 26 1 53 1 40 1-46 1 41 1-100 1 59 1-63 1 108 1 83 1-177 1-37 1 144 1-67 1 131 1-162 1 105 1 106 1-114 1 70 1-66 1 128 1-169 1-58 1 90 1 23 1-23 1-154 1 152 1-6 1 152 1-152 1-294 1 378 1-18 1-45 1 128 1-280 1 121 1 22 1-274 1 174 1 67 1-27 1-32 1 98 1 245 1-308 1 32 1-1 1 8 1-51 1 52 1 48 1-55 1 44 1-55 1-60 1 44 1 95 1-64 1-14 1-28 1 67 1 15 1 5 1-14 1-164 1 152 1-125 1 125 1-44 1 30 1-57 1 35 1 105 1-123 1 10 1-9 1-30 1 44 1-132 1 149 1-89 1 75 1-98 1 89 1-59 1 58 1-38 1 69 1 41 1-65 1-119 1 118 1-229 1 14 1 120 1 113 1-226 1 330 1-283 1 171 1 77 1-53 1 83 1-123 1 138 1-444 1 403 1-77 1 86 1-85 1-3 1-27 1 42 1-55 1-155 1 159 1 64 1-28 1-136 1-11 1 154 1-18 1 27 1-19 1-49 1 36 1-108 1 318 1-185 1 77 1-114 1-8 1 62 1-31 1-9 1-6 1-180 1 125 1 81 1-195 1 167 1-40 1 2 1 13 1-20 1 10 1-85 1 75 1-42 1-61 1-91 1 229 1-30 1-23 1-44 1 13 1-32 1 67 1-87 1 148 1-116 1 66 1-165 1-133 1 258 1 30 1 64 1-100 1-69 1 176 1-262 1 218 1 38 1 14 1-124 1 60 1-128 1 208 1-187 1 100 1 75 1-58 1-162 1 5 1 0 1 130 1-113 1 129 1 47 1-52 1-157 1 176 1-211 1 176 1 14 1-27 1-52 1 118 1-255 1 177 1 37 1-37 1 34 1-28 1 33 1-39 1-67 1-279 1 421 1-218 1 124 1 0 1 66 1-65 1-48 1 235 1-184 1-41 1-52 1 162 1-59 1-16 1-21 1 23 1-71 1 356 1-329 1 32 1-101 1 99 1 23 1-32 1-20 1 27 1 168 1-159 1-41 1-48 1 116 1-30 1-28 1 36 1 154 1-78 1-190 1 125 1 161 1-168 1-3 1-15 1-38 1 27 1-29 1 123 1-75 1 6 1-35 1 34 1 44 1-34 1-52 1 43 1 14 1 146 1-154 1 84 1-45 1 53 1-97 1 1 1 87 1-79 1 71 1 200 1-221 1-38 1 4 1 63 1-103 1 0 1 113 1-73 1 43 1-53 1-3 1 48 1 19 1-19 1 48 1-138 1 39 1-117 1 136 1-2 1 4 1-179 1 193 1-247 1 223 1-18 1 69 1-13 1-40 1-25 1 95 1 50 1-143 1 54 1-68 1-8 1 109 1-82 1 78 1-56 1 43 1 1 1-34 1-144 1 208 1-81 1 73 1-111 1 55 1 34 1-17 1 53 1-48 1-145 1 138 1-15 1 121 1-149 1 115 1-127 1 96 1-204 1 279 1-329 1 188 1 211 1-182 1 266 1-300 1 7 1 174 1-181 1-94 1 216 1-194 1-36 1 74 1 59 1-76 1 52 1-72 1 65 1-58 1 35 1 12 1 0 1 126 1-152 1-27 1 54 1 70 1-85 1 148 1-248 1 117 1-35 1 21 1-30 1-47 1 83 1 125 1-97 1-70 1 2 1-23 1 79 1-44 1-152 1 270 1 240 1-417 1 37 1-52 1 229 1-156 1-55 1-1 1 148 1 2 1 61 1-44 1-9 1-72 1 27 1-139 1-52 1 183 1-28 1 73 1-47 1-30 1 227 1-94 1-121 1 15 1 44 1-91 1 43 1 45 1-55 1-90 1-83 1 177 1-4 1 146 1 12 1-206 1 52 1 12 1 79 1-153 1 116 1 58 1-378 1 207 1 96 1-70 1 131 1 98 1 213 1-371 1 42 1-54 1 26 1 1 1-121 1-13 1 122 1-25 1-24 1 199 1-235 1 76 1 346 1-202 1 74 1-230 1 266 1-96 1 72 1-245 1 1 1-33 1 115 1-160 1 92 1-88 1 86 1-30 1 0 1-38 1 148 1-156 1 69 1 63 1 351 1-318 1-229 1 201 1-147 1 180 1-101 1 16 1-45 1-88 1 117 1-36 1 39 1 81 1-15 1-91 1-5 1 31 1 274 1-366 1 60 1 147 1-119 1 68 1-413 1 452 1-92 1-35 1-64 1 75 1-45 1 68 1 152 1-78 1-102 1 76 1 66 1-179 1 69 1-87 1 43 1-35 1 235 1-110 1-78 1 52 1-48 1-104 1 156 1-130 1-83 1 186 1-16 1 8 1-30 1 39 1-54 1-48 1 270 1-175 1 173 1-176 1-33 1 28 1-40 1-7 1-111 1 165 1-10 1-32 1-25 1 0 1 99 1-30 1-255 1 226 1 40 1-71 1-23 1 38 1 165 1-198 1-167 1 243 1-71 1 63 1 66 1-73 1-11 1-40 1 410 1-367 1 72 1-13 1-115 1 82 1 20 1 54 1-54 1-67 1 112 1-20 1-10 1-93 1 67 1-23 1-161 1 279 1-121 1 144 1-118 1-56 1 55 1-17 1-20 1 162 1-134 1-31 1-3 1 110 1-174 1 64 1 34 1-41 1 49 1-10 1-3 1 5 1-3 1 51 1-53 1 24 1-21 1 76 1-67 1-25 1 27 1 9 1-20 1-43 1 49 1 92 1-180 1 82 1-44 1 41 1 60 1-108 1 171 1-121 1-47 1 135 1-180 1 20 1 95 1 56 1-88 1 110 1-112 1 36 1-71 1 114 1-337 1 317 1-49 1-91 1 185 1-30 1-261 1 167 1 46 1 85 1-40 1-37 1 37 1-59 1 32 1 48 1-87 1 30 1-3 1 86 1-72 1 7 1-15 1-53 1 191 1-99 1-250 1 139 1-210 1 340 1-69 1 11 1 140 1-131 1-74 1 57 1 171 1-170 1-36 1 83 1-42 1 39 1 3 1-12 1-11 1-125 1 67 1 70 1-40 1 44 1 212 1-377 1 18 1 33 1-138 1 195 1-58 1 122 1-103 1-34 1-3 1-18 1-194 1 311 1 47 1-171 1 158 1-120 1 88 1 19 1-88 1-11 1 58 1 38 1-40 1 38 1 59 1-166 1 138 1-90 1 10 1 50 1-66 1-68 1-107 1 44 1 127 1 13 1 6 1-154 1 367 1-403 1 186 1-149 1 271 1-207 1 194 1-140 1 334 1-425 1 179 1-228 1 167 1-15 1 16 1-35 1 41 1-147 1 89 1 17 1 34 1-55 1 39 1 11 1 15 1-128 1 155 1-81 1-69 1 10 1 105 1 3 1 25 1-156 1 178 1-54 1 335 1-355 1-7 1-39 1 135 1-114 1 389 1-336 1-1 1 97 1-23 1-62 1 186 1-204 1 77 1-137 1 136 1-82 1 208 1-105 1-173 1 145 1 11 1-165 1 110 1-55 1 88 1-42 1 413 1-430 1 102 1-146 1 88 1-21 1-122 1-2 1-63 1 42 1 152 1 0 1-91 1 98 1-83 1 96 1-85 1 190 1-126 1-175 1 250 1-133 1 65 1-172 1 160 1-94 1 155 1-263 1 57 1 246 1-76 1 29 1-102 1 11 1 30 1 40 1 196 1-305 1-1 1-120 1 227 1-194 1 47 1 37 1 93 1-158 1-176 1 291 1-99 1 161 1 63 1-21 1-25 1-7 1-65 1-151 1 195 1 140 1-135 1-28 1 17 1-105 1 86 1 166 1-153 1 38 1-17 1-105 1 14 1 237 1-166 1-124 1 165 1 129 1-155 1-17 1-29 1-116 1 186 1-1 1 125 1-7 1-111 1-135 1 137 1 80 1-96 1-30 1 53 1-5 1-4 1-90 1 84 1-91 1 119 1-87 1 192 1-313 1-62 1 340 1-94 1 42 1-218 1 67 1 414 1-417 1 67 1-162 1 336 1-474 1 109 1 160 1 0 1 50 1-105 1 142 1-150 1-40 1 146 1-77 1 126 1-225 1 233 1-267 1 360 1-96 1 4 1-107 1 46 1 113 1-100 1 37 1-59 1-11 1 33 1-41 1 52 1-116 1 62 1 125 1-23 1 30 1 76 1-104 1-367 1 182 1-8 1 221 1-91 1-177 1-351 1 481 1 44 1-196 1 2 1 30 1 160 1-108 1 100 1-33 1 40 1 4 1-15 1-74 1 32 1 90 1 15 1-102 1 218 1-95 1-31 1-57 1 24 1-37 1-83 1 298 1-183 1-11 1 95 1-22 1-123 1-43 1 122 1-113 1 101 1 91 1-84 1-170 1 621 1-327 1 102 1-30 1-273 1-88 1 152 1-66 1 36 1-128 1 126 1-60 1 192 1-140 1 433 1-416 1 54 1-92 1 63 1 133 1-152 1-57 1 60 1-111 1 103 1-28 1 37 1 94 1-109 1 67 1-57 1-111 1 197 1-106 1-11 1 76 1 15 1-22 1-38 1-112 1 284 1-51 1-122 1-62 1 191 1-64 1-295 1 169 1 60 1 56 1 81 1-119 1 330 1-383 1 66 1-3 1-122 1 91 1-95 1 124 1-35 1-16 1 8 1-32 1 45 1-118 1 73 1 78 1 148 1-175 1-13 1-66 1 62 1-101 1 234 1-100 1 58 1-84 1-56 1 8 1 41 1-60 1 39 1 44 1-6 1-14 1 53 1-31 1-25 1-80 1 308 1-208 1-1 1-81 1 92 1 32 1 23 1-30 1-51 1 29 1-12 1-80 1 132 1 33 1 0 1-64 1 12 1 44 1-85 1 94 1-87 1 36 1-49 1-60 1 11 1 102 1-68 1-149 1 136 1 8 1 145 1-79 1-20 1-293 1 339 1-282 1 222 1-87 1 48 1 23 1 284 1-414 1-256 1 176 1-107 1 144 1 378 1-418 1 60 1 208 1-54 1-107 1 108 1-84 1 105 1-166 1 366 1-412 1 262 1-77 1 31 1-238 1 476 1-405 1 177 1-175 1 132 1-193 1 448 1-230 1-114 1 76 1 2 1 56 1-85 1 102 1-101 1 67 1 179 1-153 1-114 1-46 1 55 1 45 1 92 1-79 1 44 1-232 1 241 1-204 1 119 1 52 1-43 1 47 1-43 1-37 1-68 1 145 1-37 1 50 1-51 1-133 1-180 1 347 1-34 1 98 1 138 1-312 1 82 1-204 1 52 1 172 1 275 1-318 1 16 1 8 1-103 1 84 1 1 1-56 1 43 1-88 1-74 1 259 1-95 1 5 1 153 1-122 1 112 1-191 1-129 1 172 1 36 1-104 1 89 1 106 1-229 1 39 1 144 1 77 1-126 1-61 1 243 1-139 1-31 1-69 1-121 1 281 1 3 1-119 1 110 1 100 1-417 1 300 1-66 1 76 1-78 1 204 1-487 1 247 1 0 1-57 1 89 1 75 1-126 1 174 1-115 1 93 1-137 1 21 1 9 1 114 1-151 1 7 1 186 1-55 1-13 1 10 1-64 1 40 1-69 1-58 1-72 1 107 1 9 1-74 1 195 1-151 1 280 1-309 1 131 1 101 1 150 1-256 1-5 1 99 1 159 1-304 1 156 1-212 1 71 1 198 1-138 1-31 1 28 1 14 1-253 1 241 1 113 1-164 1 38 1-61 1 58 1-22 1 19 1 127 1-28 1-20 1-96 1 14 1 3 1 9 1-17 1-8 1-148 1 49 1 129 1-23 1 59 1-130 1-224 1 218 1 87 1-137 1 363 1-220 1-242 1 175 1 94 1-46 1 27 1 11 1-54 1 111 1-75 1-69 1 98 1 52 1-67 1-42 1-98 1 198 1-66 1 50 1 265 1-260 1-54 1 56 1 189 1-298 1 112 1-31 1-30 1 68 1-385 1 330 1-32 1 70 1 116 1-201 1-46 1 7 1 48 1-83 1-147 1 242" fill="none" stroke="#0072BD" stroke-width="0.45" stroke-linejoin="round" vector-effect="non-scaling-stroke"/></svg>
<rect x="395.1" y="219.5" width="141.0" height="63.9" fill="none" stroke="#262626" stroke-width="0.62"/>
<path d="M442.10,283.4v-1.4M442.10,219.5v1.4M489.10,283.4v-1.4M489.10,219.5v1.4M395.1,251.45h1.4M536.1,251.45h-1.4" stroke="#262626" stroke-width="0.7" fill="none"/>
<text x="396.70" y="294.40" font-size="8.7" text-anchor="middle" fill="#262626">0</text>
<text x="443.70" y="294.40" font-size="8.7" text-anchor="middle" fill="#262626">2000</text>
<text x="490.70" y="294.40" font-size="8.7" text-anchor="middle" fill="#262626">4000</text>
<text x="537.70" y="294.40" font-size="8.7" text-anchor="middle" fill="#262626">6000</text>
<text x="394.00" y="222.55" font-size="8.5" text-anchor="end" fill="#262626">10</text>
<text x="394.00" y="254.70" font-size="8.5" text-anchor="end" fill="#262626">0</text>
<text x="394.00" y="287.15" font-size="8.5" text-anchor="end" fill="#262626">-10</text>
<text x="451.00" y="306.90" font-size="10.2" fill="#262626" style="stroke-width:0.1px">Epoch/s</text>
<text transform="translate(385.90,251.55) rotate(-90)" font-size="9.6" text-anchor="middle" fill="#262626" style="stroke-width:0.2px">U/mm</text>
</svg>
</body></html>
